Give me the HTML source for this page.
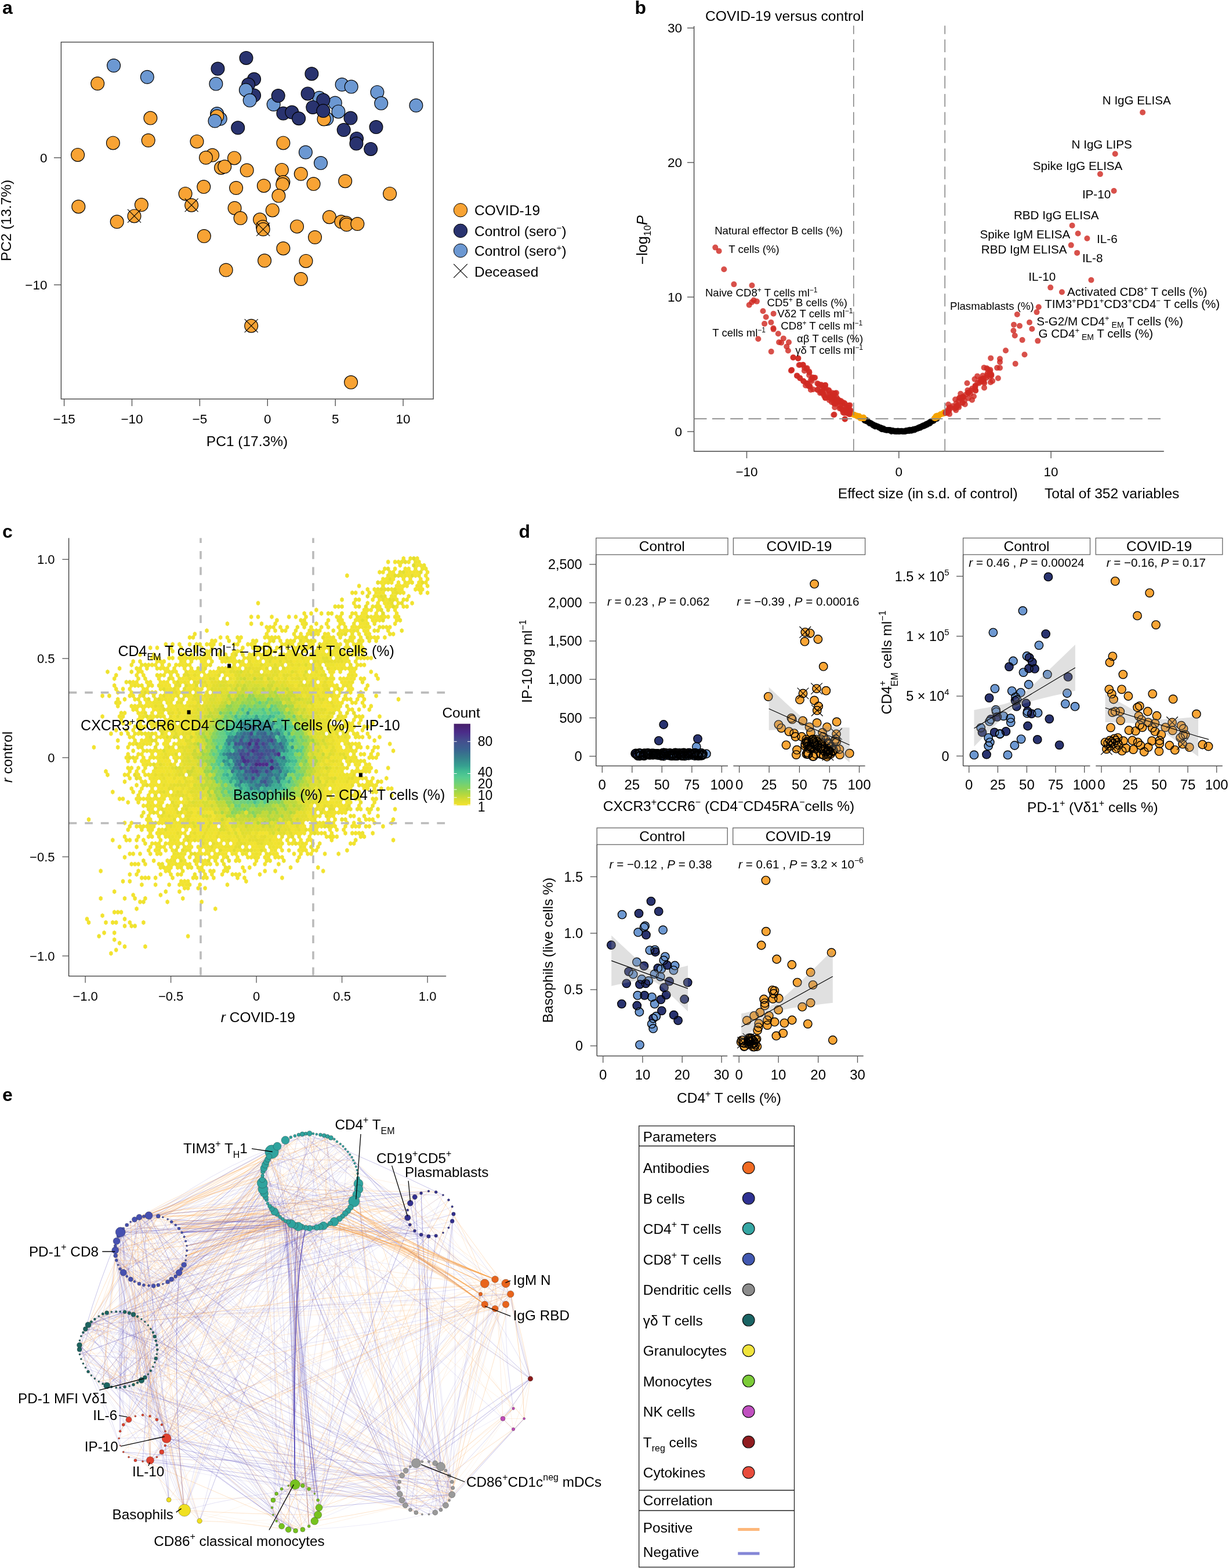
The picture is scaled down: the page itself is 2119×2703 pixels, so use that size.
<!DOCTYPE html>
<html><head><meta charset="utf-8"><title>Figure</title>
<style>html,body{margin:0;padding:0;background:#fff;}svg{display:block;}</style>
</head><body>
<svg width="2119" height="2703" viewBox="0 0 2119 2703" font-family='"Liberation Sans", Arial, Helvetica, sans-serif'>
<text x="4" y="24.2" font-size="32" font-weight="bold">a</text>
<rect x="105.4" y="72.6" width="641.7" height="615.2" fill="none" stroke="#444" stroke-width="1.4"/>
<g stroke="#000" stroke-width="1.2">
<circle cx="168.2" cy="144" r="11.4" fill="#f8a334"/>
<circle cx="259.4" cy="203.6" r="11.4" fill="#f8a334"/>
<circle cx="194.9" cy="246.4" r="11.4" fill="#f8a334"/>
<circle cx="255.7" cy="242" r="11.4" fill="#f8a334"/>
<circle cx="134.1" cy="266.9" r="11.4" fill="#f8a334"/>
<circle cx="135.3" cy="356.2" r="11.4" fill="#f8a334"/>
<circle cx="201.7" cy="382.3" r="11.4" fill="#f8a334"/>
<circle cx="243.9" cy="353.1" r="11.4" fill="#f8a334"/>
<circle cx="231.5" cy="372.4" r="11.4" fill="#f8a334"/>
<path d="M220 360.9L243 383.9M220 383.9L243 360.9" stroke="#000" stroke-width="1.1" fill="none"/>
<circle cx="339.5" cy="243.9" r="11.4" fill="#f8a334"/>
<circle cx="366.2" cy="267.5" r="11.4" fill="#f8a334"/>
<circle cx="355" cy="271.8" r="11.4" fill="#f8a334"/>
<circle cx="404" cy="272.4" r="11.4" fill="#f8a334"/>
<circle cx="381.1" cy="289.2" r="11.4" fill="#f8a334"/>
<circle cx="387.3" cy="287.3" r="11.4" fill="#f8a334"/>
<circle cx="425.7" cy="293.5" r="11.4" fill="#f8a334"/>
<circle cx="351.3" cy="322.1" r="11.4" fill="#f8a334"/>
<circle cx="407.1" cy="324" r="11.4" fill="#f8a334"/>
<circle cx="454.9" cy="320.2" r="11.4" fill="#f8a334"/>
<circle cx="488.4" cy="246.4" r="11.4" fill="#f8a334"/>
<circle cx="485.9" cy="292.9" r="11.4" fill="#f8a334"/>
<circle cx="488.4" cy="314" r="11.4" fill="#f8a334"/>
<circle cx="487.2" cy="317.8" r="11.4" fill="#f8a334"/>
<circle cx="518.8" cy="299.8" r="11.4" fill="#f8a334"/>
<circle cx="540.6" cy="317.1" r="11.4" fill="#f8a334"/>
<circle cx="595.2" cy="312.2" r="11.4" fill="#f8a334"/>
<circle cx="672.1" cy="333.9" r="11.4" fill="#f8a334"/>
<circle cx="319.6" cy="333.9" r="11.4" fill="#f8a334"/>
<circle cx="330.2" cy="353.7" r="11.4" fill="#f8a334"/>
<path d="M318.7 342.2L341.7 365.2M318.7 365.2L341.7 342.2" stroke="#000" stroke-width="1.1" fill="none"/>
<circle cx="480.4" cy="337.6" r="11.4" fill="#f8a334"/>
<circle cx="404.6" cy="358.7" r="11.4" fill="#f8a334"/>
<circle cx="414.6" cy="376.1" r="11.4" fill="#f8a334"/>
<circle cx="469.8" cy="362.4" r="11.4" fill="#f8a334"/>
<circle cx="448.1" cy="378.6" r="11.4" fill="#f8a334"/>
<circle cx="453" cy="391" r="11.4" fill="#f8a334"/>
<circle cx="453.7" cy="395.3" r="11.4" fill="#f8a334"/>
<path d="M442.2 383.8L465.2 406.8M442.2 406.8L465.2 383.8" stroke="#000" stroke-width="1.1" fill="none"/>
<circle cx="351.9" cy="407.1" r="11.4" fill="#f8a334"/>
<circle cx="512" cy="390.4" r="11.4" fill="#f8a334"/>
<circle cx="543" cy="409" r="11.4" fill="#f8a334"/>
<circle cx="567.9" cy="374.2" r="11.4" fill="#f8a334"/>
<circle cx="588.3" cy="382.3" r="11.4" fill="#f8a334"/>
<circle cx="597" cy="384.2" r="11.4" fill="#f8a334"/>
<circle cx="597.6" cy="387.3" r="11.4" fill="#f8a334"/>
<circle cx="616.3" cy="386" r="11.4" fill="#f8a334"/>
<circle cx="488.4" cy="428.2" r="11.4" fill="#f8a334"/>
<circle cx="456.1" cy="449.3" r="11.4" fill="#f8a334"/>
<circle cx="389.7" cy="465.5" r="11.4" fill="#f8a334"/>
<circle cx="527.5" cy="449.9" r="11.4" fill="#f8a334"/>
<circle cx="518.8" cy="481" r="11.4" fill="#f8a334"/>
<circle cx="433.2" cy="561.7" r="11.4" fill="#f8a334"/>
<path d="M421.7 550.2L444.7 573.2M421.7 573.2L444.7 550.2" stroke="#000" stroke-width="1.1" fill="none"/>
<circle cx="605.1" cy="659.1" r="11.4" fill="#f8a334"/>
<circle cx="196.1" cy="113" r="11.4" fill="#6c98d2"/>
<circle cx="253.8" cy="132.8" r="11.4" fill="#6c98d2"/>
<circle cx="372.4" cy="144.6" r="11.4" fill="#6c98d2"/>
<circle cx="471.7" cy="180" r="11.4" fill="#6c98d2"/>
<circle cx="589.6" cy="145.8" r="11.4" fill="#6c98d2"/>
<circle cx="605.7" cy="149.6" r="11.4" fill="#6c98d2"/>
<circle cx="550.5" cy="168.8" r="11.4" fill="#6c98d2"/>
<circle cx="577.8" cy="177.5" r="11.4" fill="#6c98d2"/>
<circle cx="583.4" cy="192.4" r="11.4" fill="#6c98d2"/>
<circle cx="650.4" cy="158.9" r="11.4" fill="#6c98d2"/>
<circle cx="657.2" cy="178.1" r="11.4" fill="#6c98d2"/>
<circle cx="717.4" cy="181.8" r="11.4" fill="#6c98d2"/>
<circle cx="526.9" cy="262.5" r="11.4" fill="#6c98d2"/>
<circle cx="553" cy="281.1" r="11.4" fill="#6c98d2"/>
<circle cx="424.5" cy="99.9" r="11.4" fill="#29336f"/>
<circle cx="375.5" cy="118.5" r="11.4" fill="#29336f"/>
<circle cx="438.1" cy="136.5" r="11.4" fill="#29336f"/>
<circle cx="428.2" cy="145.8" r="11.4" fill="#29336f"/>
<circle cx="438.1" cy="164.5" r="11.4" fill="#29336f"/>
<circle cx="537.4" cy="127.2" r="11.4" fill="#29336f"/>
<circle cx="479.7" cy="165.1" r="11.4" fill="#29336f"/>
<circle cx="530.6" cy="161.4" r="11.4" fill="#29336f"/>
<circle cx="557.3" cy="172.5" r="11.4" fill="#29336f"/>
<circle cx="539.3" cy="184.9" r="11.4" fill="#29336f"/>
<circle cx="488.4" cy="195.5" r="11.4" fill="#29336f"/>
<circle cx="503.3" cy="193.6" r="11.4" fill="#29336f"/>
<circle cx="515.1" cy="204.2" r="11.4" fill="#29336f"/>
<circle cx="604.5" cy="203.6" r="11.4" fill="#29336f"/>
<circle cx="592.7" cy="224" r="11.4" fill="#29336f"/>
<circle cx="410.2" cy="220.3" r="11.4" fill="#29336f"/>
<circle cx="648.5" cy="219.1" r="11.4" fill="#29336f"/>
<circle cx="615" cy="238.9" r="11.4" fill="#29336f"/>
<circle cx="614.4" cy="247.6" r="11.4" fill="#29336f"/>
<circle cx="639.2" cy="256.9" r="11.4" fill="#29336f"/>
<circle cx="374.2" cy="196.1" r="11.4" fill="#6c98d2"/>
<circle cx="379.8" cy="204.8" r="11.4" fill="#6c98d2"/>
<circle cx="374.2" cy="200.5" r="11.4" fill="#f8a334"/>
<circle cx="370.5" cy="208.5" r="11.4" fill="#6c98d2"/>
<circle cx="423.9" cy="155.2" r="11.4" fill="#6c98d2"/>
<circle cx="430.7" cy="173.1" r="11.4" fill="#6c98d2"/>
<circle cx="563.5" cy="204.8" r="11.4" fill="#6c98d2"/>
<circle cx="558.5" cy="205.4" r="11.4" fill="#f8a334"/>
<circle cx="557.3" cy="191.1" r="11.4" fill="#29336f"/>
</g>
<line x1="110.6" y1="687.8" x2="110.6" y2="700.1" stroke="#555" stroke-width="1.4" />
<text x="110.6" y="729.7" font-size="22.5" text-anchor="middle">−15</text>
<line x1="227.5" y1="687.8" x2="227.5" y2="700.1" stroke="#555" stroke-width="1.4" />
<text x="227.5" y="729.7" font-size="22.5" text-anchor="middle">−10</text>
<line x1="344.4" y1="687.8" x2="344.4" y2="700.1" stroke="#555" stroke-width="1.4" />
<text x="344.4" y="729.7" font-size="22.5" text-anchor="middle">−5</text>
<line x1="461.3" y1="687.8" x2="461.3" y2="700.1" stroke="#555" stroke-width="1.4" />
<text x="461.3" y="729.7" font-size="22.5" text-anchor="middle">0</text>
<line x1="578.2" y1="687.8" x2="578.2" y2="700.1" stroke="#555" stroke-width="1.4" />
<text x="578.2" y="729.7" font-size="22.5" text-anchor="middle">5</text>
<line x1="695.1" y1="687.8" x2="695.1" y2="700.1" stroke="#555" stroke-width="1.4" />
<text x="695.1" y="729.7" font-size="22.5" text-anchor="middle">10</text>
<line x1="93" y1="271.9" x2="105.4" y2="271.9" stroke="#555" stroke-width="1.4" />
<text x="81.5" y="279.9" font-size="22.5" text-anchor="end">0</text>
<line x1="93" y1="491" x2="105.4" y2="491" stroke="#555" stroke-width="1.4" />
<text x="81.5" y="499" font-size="22.5" text-anchor="end">−10</text>
<text x="426" y="769.2" font-size="24.5" text-anchor="middle">PC1 (17.3%)</text>
<text x="18.5" y="380" font-size="24.5" text-anchor="middle" transform="rotate(-90 18.5 380)">PC2 (13.7%)</text>
<circle cx="794" cy="362.3" r="11.7" fill="#f8a334" stroke="#000" stroke-width="1"/>
<circle cx="794" cy="397.8" r="11.7" fill="#29336f" stroke="#000" stroke-width="1"/>
<circle cx="794" cy="432" r="11.7" fill="#6c98d2" stroke="#000" stroke-width="1"/>
<path d="M782.2 455.2L805.8 478.8M782.2 478.8L805.8 455.2" stroke="#000" stroke-width="1.2" fill="none"/>
<text x="818" y="370.5" font-size="24.5">COVID-19</text>
<text x="818" y="406.5" font-size="24.5">Control (sero<tspan font-size="15" dy="-9">−</tspan><tspan dy="9">)</tspan></text>
<text x="818" y="440.5" font-size="24.5">Control (sero<tspan font-size="15" dy="-9">+</tspan><tspan dy="9">)</tspan></text>
<text x="818" y="476.5" font-size="24.5">Deceased</text>
<text x="1094.5" y="24.2" font-size="32" font-weight="bold">b</text>
<text x="1216" y="35.6" font-size="24.6">COVID-19 versus control</text>
<path d="M1196.6 45V778H2006.8" fill="none" stroke="#444" stroke-width="1.4"/>
<line x1="1185" y1="744" x2="1196.6" y2="744" stroke="#555" stroke-width="1.4" />
<text x="1176" y="752" font-size="22.5" text-anchor="end">0</text>
<line x1="1185" y1="512.1" x2="1196.6" y2="512.1" stroke="#555" stroke-width="1.4" />
<text x="1176" y="520.1" font-size="22.5" text-anchor="end">10</text>
<line x1="1185" y1="280.2" x2="1196.6" y2="280.2" stroke="#555" stroke-width="1.4" />
<text x="1176" y="288.2" font-size="22.5" text-anchor="end">20</text>
<line x1="1185" y1="48.3" x2="1196.6" y2="48.3" stroke="#555" stroke-width="1.4" />
<text x="1176" y="56.3" font-size="22.5" text-anchor="end">30</text>
<line x1="1287.5" y1="778" x2="1287.5" y2="790" stroke="#555" stroke-width="1.4" />
<text x="1287.5" y="820.8" font-size="22.5" text-anchor="middle">−10</text>
<line x1="1549.8" y1="778" x2="1549.8" y2="790" stroke="#555" stroke-width="1.4" />
<text x="1549.8" y="820.8" font-size="22.5" text-anchor="middle">0</text>
<line x1="1812.1" y1="778" x2="1812.1" y2="790" stroke="#555" stroke-width="1.4" />
<text x="1812.1" y="820.8" font-size="22.5" text-anchor="middle">10</text>
<text x="1444.8" y="859" font-size="24.6">Effect size (in s.d. of control)</text>
<text x="1801" y="859" font-size="24.6">Total of 352 variables</text>
<text x="0" y="0" font-size="25.5" transform="translate(1116 456) rotate(-90)">−log<tspan font-size="17" dy="6">10</tspan><tspan dy="-6" font-style="italic">P</tspan></text>
<g fill="#000" fill-opacity="0.85"><circle cx="1485.5" cy="720.4" r="5"/><circle cx="1486.5" cy="720.2" r="5"/><circle cx="1487.4" cy="721.4" r="5"/><circle cx="1488.3" cy="721.4" r="5"/><circle cx="1489.3" cy="722" r="5"/><circle cx="1490.2" cy="724.3" r="5"/><circle cx="1491.1" cy="725.1" r="5"/><circle cx="1492.1" cy="723.4" r="5"/><circle cx="1493" cy="725.6" r="5"/><circle cx="1493.9" cy="726.3" r="5"/><circle cx="1494.9" cy="724.8" r="5"/><circle cx="1495.8" cy="726.9" r="5"/><circle cx="1496.7" cy="726.5" r="5"/><circle cx="1497.7" cy="728" r="5"/><circle cx="1498.6" cy="728.2" r="5"/><circle cx="1499.5" cy="730.1" r="5"/><circle cx="1500.5" cy="729.3" r="5"/><circle cx="1501.4" cy="729.2" r="5"/><circle cx="1502.4" cy="730.7" r="5"/><circle cx="1503.3" cy="730.6" r="5"/><circle cx="1504.2" cy="731.3" r="5"/><circle cx="1505.2" cy="733.5" r="5"/><circle cx="1506.1" cy="732" r="5"/><circle cx="1507" cy="733" r="5"/><circle cx="1508" cy="734.2" r="5"/><circle cx="1508.9" cy="735.4" r="5"/><circle cx="1509.8" cy="733.6" r="5"/><circle cx="1510.8" cy="735.1" r="5"/><circle cx="1511.7" cy="734.8" r="5"/><circle cx="1512.6" cy="734.8" r="5"/><circle cx="1513.6" cy="735.7" r="5"/><circle cx="1514.5" cy="735.5" r="5"/><circle cx="1515.4" cy="737.3" r="5"/><circle cx="1516.4" cy="736.6" r="5"/><circle cx="1517.3" cy="737.9" r="5"/><circle cx="1518.2" cy="736.9" r="5"/><circle cx="1519.2" cy="737.4" r="5"/><circle cx="1520.1" cy="739.9" r="5"/><circle cx="1521" cy="740.1" r="5"/><circle cx="1522" cy="740.2" r="5"/><circle cx="1522.9" cy="738.4" r="5"/><circle cx="1523.8" cy="740.2" r="5"/><circle cx="1524.8" cy="740" r="5"/><circle cx="1525.7" cy="741.1" r="5"/><circle cx="1526.6" cy="740.8" r="5"/><circle cx="1527.6" cy="741.4" r="5"/><circle cx="1528.5" cy="741.7" r="5"/><circle cx="1529.4" cy="741.3" r="5"/><circle cx="1530.4" cy="741.5" r="5"/><circle cx="1531.3" cy="740.9" r="5"/><circle cx="1532.2" cy="741.7" r="5"/><circle cx="1533.2" cy="741.2" r="5"/><circle cx="1534.1" cy="741.6" r="5"/><circle cx="1535" cy="741.3" r="5"/><circle cx="1536" cy="742.4" r="5"/><circle cx="1536.9" cy="744" r="5"/><circle cx="1537.8" cy="742.2" r="5"/><circle cx="1538.8" cy="742" r="5"/><circle cx="1539.7" cy="742.3" r="5"/><circle cx="1540.6" cy="743.3" r="5"/><circle cx="1541.6" cy="743" r="5"/><circle cx="1542.5" cy="744" r="5"/><circle cx="1543.5" cy="742.8" r="5"/><circle cx="1544.4" cy="743.6" r="5"/><circle cx="1545.3" cy="744" r="5"/><circle cx="1546.3" cy="744" r="5"/><circle cx="1547.2" cy="743" r="5"/><circle cx="1548.1" cy="742.6" r="5"/><circle cx="1549.1" cy="744" r="5"/><circle cx="1550" cy="744" r="5"/><circle cx="1550.9" cy="744" r="5"/><circle cx="1551.9" cy="742.9" r="5"/><circle cx="1552.8" cy="743.6" r="5"/><circle cx="1553.7" cy="743.3" r="5"/><circle cx="1554.7" cy="742.8" r="5"/><circle cx="1555.6" cy="743.8" r="5"/><circle cx="1556.5" cy="744" r="5"/><circle cx="1557.5" cy="743.4" r="5"/><circle cx="1558.4" cy="744" r="5"/><circle cx="1559.3" cy="743.2" r="5"/><circle cx="1560.3" cy="744" r="5"/><circle cx="1561.2" cy="743.8" r="5"/><circle cx="1562.1" cy="742.1" r="5"/><circle cx="1563.1" cy="743.2" r="5"/><circle cx="1564" cy="742.5" r="5"/><circle cx="1564.9" cy="742.6" r="5"/><circle cx="1565.9" cy="741.4" r="5"/><circle cx="1566.8" cy="742.6" r="5"/><circle cx="1567.7" cy="743" r="5"/><circle cx="1568.7" cy="740.7" r="5"/><circle cx="1569.6" cy="741.8" r="5"/><circle cx="1570.5" cy="741.9" r="5"/><circle cx="1571.5" cy="742.8" r="5"/><circle cx="1572.4" cy="740.9" r="5"/><circle cx="1573.3" cy="740.7" r="5"/><circle cx="1574.3" cy="740.3" r="5"/><circle cx="1575.2" cy="739.9" r="5"/><circle cx="1576.1" cy="741.6" r="5"/><circle cx="1577.1" cy="739.5" r="5"/><circle cx="1578" cy="740.4" r="5"/><circle cx="1578.9" cy="739.2" r="5"/><circle cx="1579.9" cy="739.5" r="5"/><circle cx="1580.8" cy="739.2" r="5"/><circle cx="1581.7" cy="739.1" r="5"/><circle cx="1582.7" cy="737.4" r="5"/><circle cx="1583.6" cy="737.6" r="5"/><circle cx="1584.6" cy="738" r="5"/><circle cx="1585.5" cy="736.3" r="5"/><circle cx="1586.4" cy="737.6" r="5"/><circle cx="1587.4" cy="735.8" r="5"/><circle cx="1588.3" cy="736.5" r="5"/><circle cx="1589.2" cy="734.7" r="5"/><circle cx="1590.2" cy="734.2" r="5"/><circle cx="1591.1" cy="735.3" r="5"/><circle cx="1592" cy="733.3" r="5"/><circle cx="1593" cy="734.7" r="5"/><circle cx="1593.9" cy="733.4" r="5"/><circle cx="1594.8" cy="732.2" r="5"/><circle cx="1595.8" cy="733.5" r="5"/><circle cx="1596.7" cy="731.3" r="5"/><circle cx="1597.6" cy="730.8" r="5"/><circle cx="1598.6" cy="732.2" r="5"/><circle cx="1599.5" cy="729.9" r="5"/><circle cx="1600.4" cy="730.6" r="5"/><circle cx="1601.4" cy="729.9" r="5"/><circle cx="1602.3" cy="728" r="5"/><circle cx="1603.2" cy="730" r="5"/><circle cx="1604.2" cy="727" r="5"/><circle cx="1605.1" cy="727.7" r="5"/><circle cx="1606" cy="725.8" r="5"/><circle cx="1607" cy="725.7" r="5"/><circle cx="1607.9" cy="725.3" r="5"/><circle cx="1608.8" cy="725.8" r="5"/><circle cx="1609.8" cy="725.4" r="5"/><circle cx="1610.7" cy="723.7" r="5"/><circle cx="1611.6" cy="722.5" r="5"/><circle cx="1612.6" cy="721.6" r="5"/><circle cx="1613.5" cy="720.9" r="5"/><circle cx="1614.4" cy="720.4" r="5"/><circle cx="1615.4" cy="722.2" r="5"/></g>
<g fill="#f5a300"><circle cx="1466.5" cy="711.7" r="5"/><circle cx="1467.4" cy="714.3" r="5"/><circle cx="1469.7" cy="714" r="5"/><circle cx="1472.4" cy="715.5" r="5"/><circle cx="1473.1" cy="714.8" r="5"/><circle cx="1476" cy="716.4" r="5"/><circle cx="1477.6" cy="716.6" r="5"/><circle cx="1478.3" cy="718" r="5"/><circle cx="1481.4" cy="717.2" r="5"/><circle cx="1483.2" cy="720.9" r="5"/><circle cx="1485.1" cy="721.2" r="5"/><circle cx="1485.3" cy="721.1" r="5"/><circle cx="1488.9" cy="719.5" r="5"/><circle cx="1489.5" cy="721.1" r="5"/><circle cx="1611.1" cy="720.7" r="5"/><circle cx="1612.8" cy="721.1" r="5"/><circle cx="1613.8" cy="717.2" r="5"/><circle cx="1615.9" cy="716.5" r="5"/><circle cx="1617.7" cy="718.9" r="5"/><circle cx="1621.2" cy="714.3" r="5"/><circle cx="1622.3" cy="714.3" r="5"/><circle cx="1623.9" cy="713.4" r="5"/><circle cx="1626.4" cy="713.3" r="5"/><circle cx="1627.7" cy="710.8" r="5"/></g>
<g fill="#cf2a22" fill-opacity="0.82"><circle cx="1233.3" cy="426.6" r="5"/><circle cx="1239.6" cy="432.7" r="5"/><circle cx="1248.3" cy="464.3" r="5"/><circle cx="1265.4" cy="490.1" r="5"/><circle cx="1296.5" cy="492" r="5"/><circle cx="1291.7" cy="525.7" r="5"/><circle cx="1299.6" cy="517.5" r="5"/><circle cx="1304.9" cy="519.6" r="5"/><circle cx="1296.2" cy="521" r="5"/><circle cx="1315.5" cy="536.2" r="5"/><circle cx="1320.7" cy="546.5" r="5"/><circle cx="1333.6" cy="540.7" r="5"/><circle cx="1318.1" cy="558.1" r="5"/><circle cx="1329.4" cy="555.7" r="5"/><circle cx="1333.6" cy="567.6" r="5"/><circle cx="1333.4" cy="565.7" r="5"/><circle cx="1341.8" cy="575.2" r="5"/><circle cx="1350.8" cy="583.4" r="5"/><circle cx="1343.1" cy="590" r="5"/><circle cx="1347.1" cy="590.8" r="5"/><circle cx="1360" cy="590" r="5"/><circle cx="1356.3" cy="597.4" r="5"/><circle cx="1358.9" cy="604.5" r="5"/><circle cx="1307.3" cy="584.2" r="5"/><circle cx="1329.7" cy="606.1" r="5"/><circle cx="1367.6" cy="616.1" r="5"/><circle cx="1376.1" cy="617.9" r="5"/><circle cx="1379.2" cy="629" r="5"/><circle cx="1384.5" cy="629" r="5"/><circle cx="1390.5" cy="635.6" r="5"/><circle cx="1395.5" cy="642.1" r="5"/><circle cx="1365.2" cy="637.7" r="5"/><circle cx="1363.9" cy="639" r="5"/><circle cx="1374.2" cy="647.9" r="5"/><circle cx="1379.2" cy="651.4" r="5"/><circle cx="1385.3" cy="657.2" r="5"/><circle cx="1391.1" cy="660.6" r="5"/><circle cx="1396.3" cy="665.9" r="5"/><circle cx="1400.3" cy="651.4" r="5"/><circle cx="1404.2" cy="651.4" r="5"/><circle cx="1410.8" cy="661.9" r="5"/><circle cx="1416.1" cy="664" r="5"/><circle cx="1422.7" cy="664" r="5"/><circle cx="1409.5" cy="671.9" r="5"/><circle cx="1424" cy="669.8" r="5"/><circle cx="1429.3" cy="673.8" r="5"/><circle cx="1435.9" cy="679" r="5"/><circle cx="1439.8" cy="677.7" r="5"/><circle cx="1422.7" cy="685.6" r="5"/><circle cx="1437.2" cy="683" r="5"/><circle cx="1439.8" cy="694.8" r="5"/><circle cx="1446.4" cy="690.9" r="5"/><circle cx="1453" cy="693.5" r="5"/><circle cx="1456.9" cy="696.2" r="5"/><circle cx="1463.5" cy="698.8" r="5"/><circle cx="1466.2" cy="706.7" r="5"/><circle cx="1447.7" cy="704.1" r="5"/><circle cx="1455.6" cy="712" r="5"/><circle cx="1438.5" cy="714.6" r="5"/><circle cx="1456.9" cy="722.5" r="5"/><circle cx="1464.8" cy="713.3" r="5"/><circle cx="1367.6" cy="616.4" r="5"/><circle cx="1376.4" cy="617.6" r="5"/><circle cx="1377.6" cy="629.3" r="5"/><circle cx="1384.6" cy="628.7" r="5"/><circle cx="1386.9" cy="634" r="5"/><circle cx="1391.6" cy="634.5" r="5"/><circle cx="1395.1" cy="640.4" r="5"/><circle cx="1386.9" cy="639.2" r="5"/><circle cx="1364.7" cy="638.1" r="5"/><circle cx="1374.1" cy="647.4" r="5"/><circle cx="1379.3" cy="652.1" r="5"/><circle cx="1385.2" cy="656.8" r="5"/><circle cx="1391" cy="660.9" r="5"/><circle cx="1396.3" cy="666.2" r="5"/><circle cx="1395.1" cy="646.8" r="5"/><circle cx="1401" cy="650.4" r="5"/><circle cx="1405.1" cy="650.9" r="5"/><circle cx="1409.2" cy="660.9" r="5"/><circle cx="1416.2" cy="663.2" r="5"/><circle cx="1423.2" cy="663.8" r="5"/><circle cx="1420.9" cy="670.3" r="5"/><circle cx="1409.2" cy="672" r="5"/><circle cx="1429.1" cy="672.6" r="5"/><circle cx="1434.9" cy="677.3" r="5"/><circle cx="1442" cy="677.3" r="5"/><circle cx="1423.2" cy="686.1" r="5"/><circle cx="1432.6" cy="683.1" r="5"/><circle cx="1439.6" cy="689" r="5"/><circle cx="1444.3" cy="687.8" r="5"/><circle cx="1449" cy="692.5" r="5"/><circle cx="1456" cy="694.8" r="5"/><circle cx="1465.4" cy="698.4" r="5"/><circle cx="1438.5" cy="696" r="5"/><circle cx="1449" cy="703" r="5"/><circle cx="1456" cy="700.7" r="5"/><circle cx="1460.7" cy="705.4" r="5"/><circle cx="1465.4" cy="707.7" r="5"/><circle cx="1453.7" cy="711.2" r="5"/><circle cx="1460.7" cy="712.4" r="5"/><circle cx="1437.3" cy="715.3" r="5"/><circle cx="1456.6" cy="722.4" r="5"/><circle cx="1464.2" cy="714.2" r="5"/><circle cx="1430.3" cy="679.6" r="5"/><circle cx="1436.1" cy="682" r="5"/><circle cx="1442" cy="684.3" r="5"/><circle cx="1446.7" cy="690.2" r="5"/><circle cx="1451.3" cy="696" r="5"/><circle cx="1459.5" cy="703" r="5"/><circle cx="1463" cy="701.9" r="5"/><circle cx="1461.9" cy="710.1" r="5"/><circle cx="1881.4" cy="482.8" r="5"/><circle cx="1811.2" cy="495.6" r="5"/><circle cx="1830.9" cy="503.5" r="5"/><circle cx="1790.8" cy="529.3" r="5"/><circle cx="1787.5" cy="538.1" r="5"/><circle cx="1753.8" cy="542" r="5"/><circle cx="1775" cy="555.7" r="5"/><circle cx="1748" cy="559.7" r="5"/><circle cx="1758" cy="561.8" r="5"/><circle cx="1779.3" cy="567" r="5"/><circle cx="1747.4" cy="570" r="5"/><circle cx="1749.8" cy="578.5" r="5"/><circle cx="1762.6" cy="586.1" r="5"/><circle cx="1789.3" cy="587.6" r="5"/><circle cx="1734" cy="604.3" r="5"/><circle cx="1766.5" cy="611.3" r="5"/><circle cx="1708.2" cy="617.4" r="5"/><circle cx="1724" cy="618.6" r="5"/><circle cx="1724" cy="624.1" r="5"/><circle cx="1750.7" cy="627.1" r="5"/><circle cx="1696.6" cy="633.8" r="5"/><circle cx="1719.1" cy="634.1" r="5"/><circle cx="1724" cy="634.1" r="5"/><circle cx="1706.4" cy="643.8" r="5"/><circle cx="1707" cy="649.9" r="5"/><circle cx="1707.9" cy="659" r="5"/><circle cx="1720.9" cy="652" r="5"/><circle cx="1685.1" cy="648.4" r="5"/><circle cx="1680.5" cy="653.6" r="5"/><circle cx="1691.2" cy="657.5" r="5"/><circle cx="1697.2" cy="660.5" r="5"/><circle cx="1667.5" cy="660.5" r="5"/><circle cx="1676" cy="669.7" r="5"/><circle cx="1682" cy="672.7" r="5"/><circle cx="1679" cy="683.3" r="5"/><circle cx="1656.2" cy="678.8" r="5"/><circle cx="1665.3" cy="680.3" r="5"/><circle cx="1669.9" cy="686.4" r="5"/><circle cx="1676" cy="689.4" r="5"/><circle cx="1647.1" cy="688.5" r="5"/><circle cx="1651.7" cy="700" r="5"/><circle cx="1663.8" cy="697" r="5"/><circle cx="1659.3" cy="694" r="5"/><circle cx="1642.5" cy="700" r="5"/><circle cx="1634.9" cy="706.1" r="5"/><circle cx="1630.4" cy="712.2" r="5"/><circle cx="1660.8" cy="684.9" r="5"/><circle cx="1672.9" cy="678.8" r="5"/><circle cx="1688.1" cy="660.5" r="5"/><circle cx="1700.3" cy="651.4" r="5"/><circle cx="1639.5" cy="703.1" r="5"/><circle cx="1653.2" cy="690.9" r="5"/><circle cx="1668.4" cy="672.7" r="5"/><circle cx="1654.7" cy="686.4" r="5"/><circle cx="1636.5" cy="707.6" r="5"/><circle cx="1648.6" cy="695.5" r="5"/><circle cx="1970.1" cy="193.8" r="5"/><circle cx="1922.7" cy="265.2" r="5"/><circle cx="1896.9" cy="300.1" r="5"/><circle cx="1920.6" cy="329" r="5"/><circle cx="1848.6" cy="388.8" r="5"/><circle cx="1858.6" cy="402.5" r="5"/><circle cx="1874.4" cy="411" r="5"/><circle cx="1846.7" cy="422.6" r="5"/><circle cx="1857.1" cy="435.9" r="5"/><circle cx="1681.5" cy="664.9" r="5"/><circle cx="1701.3" cy="634.8" r="5"/><circle cx="1691.9" cy="657.3" r="5"/><circle cx="1668.9" cy="676.7" r="5"/><circle cx="1703.1" cy="636.6" r="5"/><circle cx="1635.2" cy="697.2" r="5"/><circle cx="1669.6" cy="676.9" r="5"/><circle cx="1682.2" cy="673.5" r="5"/><circle cx="1633.6" cy="711.6" r="5"/><circle cx="1708" cy="646.2" r="5"/><circle cx="1696.5" cy="658.1" r="5"/><circle cx="1648.2" cy="707.1" r="5"/><circle cx="1681.5" cy="665.8" r="5"/><circle cx="1701.9" cy="646.8" r="5"/><circle cx="1650.8" cy="698.5" r="5"/><circle cx="1711.2" cy="656.7" r="5"/><circle cx="1659.3" cy="694.7" r="5"/><circle cx="1685.2" cy="660.1" r="5"/><circle cx="1653.2" cy="701.9" r="5"/><circle cx="1707.4" cy="637.5" r="5"/><circle cx="1702.5" cy="643.9" r="5"/><circle cx="1648.3" cy="702.8" r="5"/><circle cx="1646.3" cy="703.9" r="5"/><circle cx="1681.4" cy="668" r="5"/><circle cx="1630.9" cy="710.3" r="5"/><circle cx="1654" cy="685.8" r="5"/><circle cx="1694.5" cy="647.5" r="5"/><circle cx="1670.9" cy="676.3" r="5"/><circle cx="1697" cy="668.4" r="5"/><circle cx="1637.1" cy="713.8" r="5"/><circle cx="1692.3" cy="656.2" r="5"/><circle cx="1694.5" cy="652.3" r="5"/><circle cx="1660.9" cy="684.1" r="5"/><circle cx="1635.5" cy="708.3" r="5"/><circle cx="1648.6" cy="700.8" r="5"/><circle cx="1691.8" cy="654.6" r="5"/><circle cx="1709.3" cy="645.4" r="5"/><circle cx="1659.3" cy="684.2" r="5"/><circle cx="1674.2" cy="672.9" r="5"/><circle cx="1690.3" cy="654.1" r="5"/><circle cx="1696.4" cy="652.8" r="5"/><circle cx="1706.9" cy="640.3" r="5"/><circle cx="1636.8" cy="702.5" r="5"/><circle cx="1709.4" cy="647.4" r="5"/><circle cx="1663" cy="690.6" r="5"/><circle cx="1443.9" cy="693.6" r="5"/><circle cx="1441.3" cy="696.3" r="5"/><circle cx="1452.5" cy="706.2" r="5"/><circle cx="1413.9" cy="677.4" r="5"/><circle cx="1460.6" cy="710.3" r="5"/><circle cx="1398" cy="654.8" r="5"/><circle cx="1448" cy="699.1" r="5"/><circle cx="1420.8" cy="682.3" r="5"/><circle cx="1437.5" cy="686" r="5"/><circle cx="1459.4" cy="710.8" r="5"/><circle cx="1429.9" cy="685.3" r="5"/><circle cx="1401.9" cy="671.2" r="5"/><circle cx="1393.8" cy="665.4" r="5"/><circle cx="1419.5" cy="678.8" r="5"/><circle cx="1435" cy="687.3" r="5"/><circle cx="1452.1" cy="706.6" r="5"/><circle cx="1434.4" cy="685.4" r="5"/><circle cx="1389" cy="664.4" r="5"/><circle cx="1439" cy="679.5" r="5"/><circle cx="1430.3" cy="685.6" r="5"/><circle cx="1447.1" cy="692.6" r="5"/><circle cx="1433.9" cy="693.1" r="5"/><circle cx="1392.4" cy="661.7" r="5"/><circle cx="1399.4" cy="657" r="5"/><circle cx="1442.9" cy="691.1" r="5"/><circle cx="1458.5" cy="707.1" r="5"/><circle cx="1397.9" cy="672" r="5"/><circle cx="1437.5" cy="694.6" r="5"/><circle cx="1420.6" cy="668.2" r="5"/><circle cx="1417.3" cy="676.7" r="5"/><circle cx="1417.6" cy="670.6" r="5"/><circle cx="1449.6" cy="690.9" r="5"/><circle cx="1415.2" cy="675.6" r="5"/><circle cx="1439.2" cy="702.2" r="5"/><circle cx="1424.9" cy="679.2" r="5"/><circle cx="1465.4" cy="709.5" r="5"/><circle cx="1417.7" cy="675.2" r="5"/><circle cx="1429.8" cy="689.8" r="5"/><circle cx="1412.3" cy="664" r="5"/><circle cx="1442.8" cy="689.9" r="5"/></g>
<g stroke="#888" stroke-width="1.6" stroke-dasharray="21.9 9.4" fill="none"><path stroke-dashoffset="7.5" d="M1471.8 44.3V778M1629.2 44.3V778"/><path d="M1196.6 721.9H2002"/></g>
<text x="1232.2" y="403.7" font-size="18.6">Natural effector B cells (%)</text>
<text x="1256.2" y="436.1" font-size="18.6">T cells (%)</text>
<text x="1215.9" y="510.9" font-size="18.6">Naive CD8<tspan font-size="12" dy="-7">+</tspan><tspan dy="7"> T cells ml</tspan><tspan font-size="12" dy="-7">−1</tspan></text>
<text x="1322.6" y="528.3" font-size="18.6">CD5<tspan font-size="12" dy="-7">+</tspan><tspan dy="7"> B cells (%)</tspan></text>
<text x="1340.2" y="546.5" font-size="18.6">Vδ2 T cells ml<tspan font-size="12" dy="-7">−1</tspan></text>
<text x="1346.3" y="567.6" font-size="18.6">CD8<tspan font-size="12" dy="-7">+</tspan><tspan dy="7"> T cells ml</tspan><tspan font-size="12" dy="-7">−1</tspan></text>
<text x="1228.2" y="580.2" font-size="18.6">T cells ml<tspan font-size="12" dy="-7">−1</tspan></text>
<text x="1374" y="589.5" font-size="18.6">αβ T cells (%)</text>
<text x="1371.3" y="610" font-size="18.6">γδ T cells ml<tspan font-size="12" dy="-7">−1</tspan></text>
<text x="1900.8" y="179.5" font-size="20.6">N IgG ELISA</text>
<text x="1847.6" y="255.7" font-size="20.6">N IgG LIPS</text>
<text x="1780.8" y="292.8" font-size="20.6">Spike IgG ELISA</text>
<text x="1865.9" y="342" font-size="20.6">IP-10</text>
<text x="1748" y="377.9" font-size="20.6">RBD IgG ELISA</text>
<text x="1689.6" y="410.7" font-size="20.6">Spike IgM ELISA</text>
<text x="1891.1" y="418.6" font-size="20.6">IL-6</text>
<text x="1691.8" y="437.1" font-size="20.6">RBD IgM ELISA</text>
<text x="1865.9" y="452.3" font-size="20.6">IL-8</text>
<text x="1773.2" y="484.2" font-size="20.6">IL-10</text>
<text x="1840" y="509.5" font-size="20.6">Activated CD8<tspan font-size="13" dy="-8">+</tspan><tspan dy="8"> T cells (%)</tspan></text>
<text x="1801.2" y="530.8" font-size="20.6">TIM3<tspan font-size="13" dy="-8">+</tspan><tspan dy="8">PD1</tspan><tspan font-size="13" dy="-8">+</tspan><tspan dy="8">CD3</tspan><tspan font-size="13" dy="-8">+</tspan><tspan dy="8">CD4</tspan><tspan font-size="13" dy="-8">−</tspan><tspan dy="8"> T cells (%)</tspan></text>
<text x="1638" y="534.4" font-size="18.6">Plasmablasts (%)</text>
<text x="1787.2" y="560.9" font-size="20.6">S-G2/M CD4<tspan font-size="13" dy="-8">+</tspan><tspan font-size="14" dy="12"> EM</tspan><tspan dy="-4"> T cells (%)</tspan></text>
<text x="1790.5" y="582.2" font-size="20.6">G CD4<tspan font-size="13" dy="-8">+</tspan><tspan font-size="14" dy="12"> EM</tspan><tspan dy="-4"> T cells (%)</tspan></text>
<text x="4" y="926.8" font-size="32" font-weight="bold">c</text>
<defs><marker id="h0" markerUnits="userSpaceOnUse" markerWidth="8" markerHeight="10" viewBox="-4 -5 8 10" refX="0" refY="0" overflow="visible"><path d="M0 -3.95L2.95 -1.97V1.97L0 3.95L-2.95 1.97V-1.97Z" fill="#347f8e" stroke="#347f8e" stroke-width="0.45"/></marker><marker id="h1" markerUnits="userSpaceOnUse" markerWidth="8" markerHeight="10" viewBox="-4 -5 8 10" refX="0" refY="0" overflow="visible"><path d="M0 -3.95L2.95 -1.97V1.97L0 3.95L-2.95 1.97V-1.97Z" fill="#34848e" stroke="#34848e" stroke-width="0.45"/></marker><marker id="h2" markerUnits="userSpaceOnUse" markerWidth="8" markerHeight="10" viewBox="-4 -5 8 10" refX="0" refY="0" overflow="visible"><path d="M0 -3.95L2.95 -1.97V1.97L0 3.95L-2.95 1.97V-1.97Z" fill="#34898e" stroke="#34898e" stroke-width="0.45"/></marker><marker id="h3" markerUnits="userSpaceOnUse" markerWidth="8" markerHeight="10" viewBox="-4 -5 8 10" refX="0" refY="0" overflow="visible"><path d="M0 -3.95L2.95 -1.97V1.97L0 3.95L-2.95 1.97V-1.97Z" fill="#348e8e" stroke="#348e8e" stroke-width="0.45"/></marker><marker id="h4" markerUnits="userSpaceOnUse" markerWidth="8" markerHeight="10" viewBox="-4 -5 8 10" refX="0" refY="0" overflow="visible"><path d="M0 -3.95L2.95 -1.97V1.97L0 3.95L-2.95 1.97V-1.97Z" fill="#34938e" stroke="#34938e" stroke-width="0.45"/></marker><marker id="h5" markerUnits="userSpaceOnUse" markerWidth="8" markerHeight="10" viewBox="-4 -5 8 10" refX="0" refY="0" overflow="visible"><path d="M0 -3.95L2.95 -1.97V1.97L0 3.95L-2.95 1.97V-1.97Z" fill="#34988e" stroke="#34988e" stroke-width="0.45"/></marker><marker id="h6" markerUnits="userSpaceOnUse" markerWidth="8" markerHeight="10" viewBox="-4 -5 8 10" refX="0" refY="0" overflow="visible"><path d="M0 -3.95L2.95 -1.97V1.97L0 3.95L-2.95 1.97V-1.97Z" fill="#349d8e" stroke="#349d8e" stroke-width="0.45"/></marker><marker id="h7" markerUnits="userSpaceOnUse" markerWidth="8" markerHeight="10" viewBox="-4 -5 8 10" refX="0" refY="0" overflow="visible"><path d="M0 -3.95L2.95 -1.97V1.97L0 3.95L-2.95 1.97V-1.97Z" fill="#39618e" stroke="#39618e" stroke-width="0.45"/></marker><marker id="h8" markerUnits="userSpaceOnUse" markerWidth="8" markerHeight="10" viewBox="-4 -5 8 10" refX="0" refY="0" overflow="visible"><path d="M0 -3.95L2.95 -1.97V1.97L0 3.95L-2.95 1.97V-1.97Z" fill="#39668e" stroke="#39668e" stroke-width="0.45"/></marker><marker id="h9" markerUnits="userSpaceOnUse" markerWidth="8" markerHeight="10" viewBox="-4 -5 8 10" refX="0" refY="0" overflow="visible"><path d="M0 -3.95L2.95 -1.97V1.97L0 3.95L-2.95 1.97V-1.97Z" fill="#396b8e" stroke="#396b8e" stroke-width="0.45"/></marker><marker id="h10" markerUnits="userSpaceOnUse" markerWidth="8" markerHeight="10" viewBox="-4 -5 8 10" refX="0" refY="0" overflow="visible"><path d="M0 -3.95L2.95 -1.97V1.97L0 3.95L-2.95 1.97V-1.97Z" fill="#39708e" stroke="#39708e" stroke-width="0.45"/></marker><marker id="h11" markerUnits="userSpaceOnUse" markerWidth="8" markerHeight="10" viewBox="-4 -5 8 10" refX="0" refY="0" overflow="visible"><path d="M0 -3.95L2.95 -1.97V1.97L0 3.95L-2.95 1.97V-1.97Z" fill="#39758e" stroke="#39758e" stroke-width="0.45"/></marker><marker id="h12" markerUnits="userSpaceOnUse" markerWidth="8" markerHeight="10" viewBox="-4 -5 8 10" refX="0" refY="0" overflow="visible"><path d="M0 -3.95L2.95 -1.97V1.97L0 3.95L-2.95 1.97V-1.97Z" fill="#397a8e" stroke="#397a8e" stroke-width="0.45"/></marker><marker id="h13" markerUnits="userSpaceOnUse" markerWidth="8" markerHeight="10" viewBox="-4 -5 8 10" refX="0" refY="0" overflow="visible"><path d="M0 -3.95L2.95 -1.97V1.97L0 3.95L-2.95 1.97V-1.97Z" fill="#39a28e" stroke="#39a28e" stroke-width="0.45"/></marker><marker id="h14" markerUnits="userSpaceOnUse" markerWidth="8" markerHeight="10" viewBox="-4 -5 8 10" refX="0" refY="0" overflow="visible"><path d="M0 -3.95L2.95 -1.97V1.97L0 3.95L-2.95 1.97V-1.97Z" fill="#39a78e" stroke="#39a78e" stroke-width="0.45"/></marker><marker id="h15" markerUnits="userSpaceOnUse" markerWidth="8" markerHeight="10" viewBox="-4 -5 8 10" refX="0" refY="0" overflow="visible"><path d="M0 -3.95L2.95 -1.97V1.97L0 3.95L-2.95 1.97V-1.97Z" fill="#39ac93" stroke="#39ac93" stroke-width="0.45"/></marker><marker id="h16" markerUnits="userSpaceOnUse" markerWidth="8" markerHeight="10" viewBox="-4 -5 8 10" refX="0" refY="0" overflow="visible"><path d="M0 -3.95L2.95 -1.97V1.97L0 3.95L-2.95 1.97V-1.97Z" fill="#3e578e" stroke="#3e578e" stroke-width="0.45"/></marker><marker id="h17" markerUnits="userSpaceOnUse" markerWidth="8" markerHeight="10" viewBox="-4 -5 8 10" refX="0" refY="0" overflow="visible"><path d="M0 -3.95L2.95 -1.97V1.97L0 3.95L-2.95 1.97V-1.97Z" fill="#3e5c8e" stroke="#3e5c8e" stroke-width="0.45"/></marker><marker id="h18" markerUnits="userSpaceOnUse" markerWidth="8" markerHeight="10" viewBox="-4 -5 8 10" refX="0" refY="0" overflow="visible"><path d="M0 -3.95L2.95 -1.97V1.97L0 3.95L-2.95 1.97V-1.97Z" fill="#3e618e" stroke="#3e618e" stroke-width="0.45"/></marker><marker id="h19" markerUnits="userSpaceOnUse" markerWidth="8" markerHeight="10" viewBox="-4 -5 8 10" refX="0" refY="0" overflow="visible"><path d="M0 -3.95L2.95 -1.97V1.97L0 3.95L-2.95 1.97V-1.97Z" fill="#3eac93" stroke="#3eac93" stroke-width="0.45"/></marker><marker id="h20" markerUnits="userSpaceOnUse" markerWidth="8" markerHeight="10" viewBox="-4 -5 8 10" refX="0" refY="0" overflow="visible"><path d="M0 -3.95L2.95 -1.97V1.97L0 3.95L-2.95 1.97V-1.97Z" fill="#3eb193" stroke="#3eb193" stroke-width="0.45"/></marker><marker id="h21" markerUnits="userSpaceOnUse" markerWidth="8" markerHeight="10" viewBox="-4 -5 8 10" refX="0" refY="0" overflow="visible"><path d="M0 -3.95L2.95 -1.97V1.97L0 3.95L-2.95 1.97V-1.97Z" fill="#3eb693" stroke="#3eb693" stroke-width="0.45"/></marker><marker id="h22" markerUnits="userSpaceOnUse" markerWidth="8" markerHeight="10" viewBox="-4 -5 8 10" refX="0" refY="0" overflow="visible"><path d="M0 -3.95L2.95 -1.97V1.97L0 3.95L-2.95 1.97V-1.97Z" fill="#43488e" stroke="#43488e" stroke-width="0.45"/></marker><marker id="h23" markerUnits="userSpaceOnUse" markerWidth="8" markerHeight="10" viewBox="-4 -5 8 10" refX="0" refY="0" overflow="visible"><path d="M0 -3.95L2.95 -1.97V1.97L0 3.95L-2.95 1.97V-1.97Z" fill="#434d8e" stroke="#434d8e" stroke-width="0.45"/></marker><marker id="h24" markerUnits="userSpaceOnUse" markerWidth="8" markerHeight="10" viewBox="-4 -5 8 10" refX="0" refY="0" overflow="visible"><path d="M0 -3.95L2.95 -1.97V1.97L0 3.95L-2.95 1.97V-1.97Z" fill="#43528e" stroke="#43528e" stroke-width="0.45"/></marker><marker id="h25" markerUnits="userSpaceOnUse" markerWidth="8" markerHeight="10" viewBox="-4 -5 8 10" refX="0" refY="0" overflow="visible"><path d="M0 -3.95L2.95 -1.97V1.97L0 3.95L-2.95 1.97V-1.97Z" fill="#43bb93" stroke="#43bb93" stroke-width="0.45"/></marker><marker id="h26" markerUnits="userSpaceOnUse" markerWidth="8" markerHeight="10" viewBox="-4 -5 8 10" refX="0" refY="0" overflow="visible"><path d="M0 -3.95L2.95 -1.97V1.97L0 3.95L-2.95 1.97V-1.97Z" fill="#43c093" stroke="#43c093" stroke-width="0.45"/></marker><marker id="h27" markerUnits="userSpaceOnUse" markerWidth="8" markerHeight="10" viewBox="-4 -5 8 10" refX="0" refY="0" overflow="visible"><path d="M0 -3.95L2.95 -1.97V1.97L0 3.95L-2.95 1.97V-1.97Z" fill="#48257f" stroke="#48257f" stroke-width="0.45"/></marker><marker id="h28" markerUnits="userSpaceOnUse" markerWidth="8" markerHeight="10" viewBox="-4 -5 8 10" refX="0" refY="0" overflow="visible"><path d="M0 -3.95L2.95 -1.97V1.97L0 3.95L-2.95 1.97V-1.97Z" fill="#482a7f" stroke="#482a7f" stroke-width="0.45"/></marker><marker id="h29" markerUnits="userSpaceOnUse" markerWidth="8" markerHeight="10" viewBox="-4 -5 8 10" refX="0" refY="0" overflow="visible"><path d="M0 -3.95L2.95 -1.97V1.97L0 3.95L-2.95 1.97V-1.97Z" fill="#482f89" stroke="#482f89" stroke-width="0.45"/></marker><marker id="h30" markerUnits="userSpaceOnUse" markerWidth="8" markerHeight="10" viewBox="-4 -5 8 10" refX="0" refY="0" overflow="visible"><path d="M0 -3.95L2.95 -1.97V1.97L0 3.95L-2.95 1.97V-1.97Z" fill="#483489" stroke="#483489" stroke-width="0.45"/></marker><marker id="h31" markerUnits="userSpaceOnUse" markerWidth="8" markerHeight="10" viewBox="-4 -5 8 10" refX="0" refY="0" overflow="visible"><path d="M0 -3.95L2.95 -1.97V1.97L0 3.95L-2.95 1.97V-1.97Z" fill="#483989" stroke="#483989" stroke-width="0.45"/></marker><marker id="h32" markerUnits="userSpaceOnUse" markerWidth="8" markerHeight="10" viewBox="-4 -5 8 10" refX="0" refY="0" overflow="visible"><path d="M0 -3.95L2.95 -1.97V1.97L0 3.95L-2.95 1.97V-1.97Z" fill="#483e8e" stroke="#483e8e" stroke-width="0.45"/></marker><marker id="h33" markerUnits="userSpaceOnUse" markerWidth="8" markerHeight="10" viewBox="-4 -5 8 10" refX="0" refY="0" overflow="visible"><path d="M0 -3.95L2.95 -1.97V1.97L0 3.95L-2.95 1.97V-1.97Z" fill="#48438e" stroke="#48438e" stroke-width="0.45"/></marker><marker id="h34" markerUnits="userSpaceOnUse" markerWidth="8" markerHeight="10" viewBox="-4 -5 8 10" refX="0" refY="0" overflow="visible"><path d="M0 -3.95L2.95 -1.97V1.97L0 3.95L-2.95 1.97V-1.97Z" fill="#48c093" stroke="#48c093" stroke-width="0.45"/></marker><marker id="h35" markerUnits="userSpaceOnUse" markerWidth="8" markerHeight="10" viewBox="-4 -5 8 10" refX="0" refY="0" overflow="visible"><path d="M0 -3.95L2.95 -1.97V1.97L0 3.95L-2.95 1.97V-1.97Z" fill="#4d2a89" stroke="#4d2a89" stroke-width="0.45"/></marker><marker id="h36" markerUnits="userSpaceOnUse" markerWidth="8" markerHeight="10" viewBox="-4 -5 8 10" refX="0" refY="0" overflow="visible"><path d="M0 -3.95L2.95 -1.97V1.97L0 3.95L-2.95 1.97V-1.97Z" fill="#4d2f89" stroke="#4d2f89" stroke-width="0.45"/></marker><marker id="h37" markerUnits="userSpaceOnUse" markerWidth="8" markerHeight="10" viewBox="-4 -5 8 10" refX="0" refY="0" overflow="visible"><path d="M0 -3.95L2.95 -1.97V1.97L0 3.95L-2.95 1.97V-1.97Z" fill="#4dc593" stroke="#4dc593" stroke-width="0.45"/></marker><marker id="h38" markerUnits="userSpaceOnUse" markerWidth="8" markerHeight="10" viewBox="-4 -5 8 10" refX="0" refY="0" overflow="visible"><path d="M0 -3.95L2.95 -1.97V1.97L0 3.95L-2.95 1.97V-1.97Z" fill="#52ca8e" stroke="#52ca8e" stroke-width="0.45"/></marker><marker id="h39" markerUnits="userSpaceOnUse" markerWidth="8" markerHeight="10" viewBox="-4 -5 8 10" refX="0" refY="0" overflow="visible"><path d="M0 -3.95L2.95 -1.97V1.97L0 3.95L-2.95 1.97V-1.97Z" fill="#57ca8e" stroke="#57ca8e" stroke-width="0.45"/></marker><marker id="h40" markerUnits="userSpaceOnUse" markerWidth="8" markerHeight="10" viewBox="-4 -5 8 10" refX="0" refY="0" overflow="visible"><path d="M0 -3.95L2.95 -1.97V1.97L0 3.95L-2.95 1.97V-1.97Z" fill="#5ccf89" stroke="#5ccf89" stroke-width="0.45"/></marker><marker id="h41" markerUnits="userSpaceOnUse" markerWidth="8" markerHeight="10" viewBox="-4 -5 8 10" refX="0" refY="0" overflow="visible"><path d="M0 -3.95L2.95 -1.97V1.97L0 3.95L-2.95 1.97V-1.97Z" fill="#61cf84" stroke="#61cf84" stroke-width="0.45"/></marker><marker id="h42" markerUnits="userSpaceOnUse" markerWidth="8" markerHeight="10" viewBox="-4 -5 8 10" refX="0" refY="0" overflow="visible"><path d="M0 -3.95L2.95 -1.97V1.97L0 3.95L-2.95 1.97V-1.97Z" fill="#66cf7f" stroke="#66cf7f" stroke-width="0.45"/></marker><marker id="h43" markerUnits="userSpaceOnUse" markerWidth="8" markerHeight="10" viewBox="-4 -5 8 10" refX="0" refY="0" overflow="visible"><path d="M0 -3.95L2.95 -1.97V1.97L0 3.95L-2.95 1.97V-1.97Z" fill="#66cf84" stroke="#66cf84" stroke-width="0.45"/></marker><marker id="h44" markerUnits="userSpaceOnUse" markerWidth="8" markerHeight="10" viewBox="-4 -5 8 10" refX="0" refY="0" overflow="visible"><path d="M0 -3.95L2.95 -1.97V1.97L0 3.95L-2.95 1.97V-1.97Z" fill="#6bcf7a" stroke="#6bcf7a" stroke-width="0.45"/></marker><marker id="h45" markerUnits="userSpaceOnUse" markerWidth="8" markerHeight="10" viewBox="-4 -5 8 10" refX="0" refY="0" overflow="visible"><path d="M0 -3.95L2.95 -1.97V1.97L0 3.95L-2.95 1.97V-1.97Z" fill="#70cf75" stroke="#70cf75" stroke-width="0.45"/></marker><marker id="h46" markerUnits="userSpaceOnUse" markerWidth="8" markerHeight="10" viewBox="-4 -5 8 10" refX="0" refY="0" overflow="visible"><path d="M0 -3.95L2.95 -1.97V1.97L0 3.95L-2.95 1.97V-1.97Z" fill="#70cf7a" stroke="#70cf7a" stroke-width="0.45"/></marker><marker id="h47" markerUnits="userSpaceOnUse" markerWidth="8" markerHeight="10" viewBox="-4 -5 8 10" refX="0" refY="0" overflow="visible"><path d="M0 -3.95L2.95 -1.97V1.97L0 3.95L-2.95 1.97V-1.97Z" fill="#75cf70" stroke="#75cf70" stroke-width="0.45"/></marker><marker id="h48" markerUnits="userSpaceOnUse" markerWidth="8" markerHeight="10" viewBox="-4 -5 8 10" refX="0" refY="0" overflow="visible"><path d="M0 -3.95L2.95 -1.97V1.97L0 3.95L-2.95 1.97V-1.97Z" fill="#7ad46b" stroke="#7ad46b" stroke-width="0.45"/></marker><marker id="h49" markerUnits="userSpaceOnUse" markerWidth="8" markerHeight="10" viewBox="-4 -5 8 10" refX="0" refY="0" overflow="visible"><path d="M0 -3.95L2.95 -1.97V1.97L0 3.95L-2.95 1.97V-1.97Z" fill="#7fd466" stroke="#7fd466" stroke-width="0.45"/></marker><marker id="h50" markerUnits="userSpaceOnUse" markerWidth="8" markerHeight="10" viewBox="-4 -5 8 10" refX="0" refY="0" overflow="visible"><path d="M0 -3.95L2.95 -1.97V1.97L0 3.95L-2.95 1.97V-1.97Z" fill="#84d461" stroke="#84d461" stroke-width="0.45"/></marker><marker id="h51" markerUnits="userSpaceOnUse" markerWidth="8" markerHeight="10" viewBox="-4 -5 8 10" refX="0" refY="0" overflow="visible"><path d="M0 -3.95L2.95 -1.97V1.97L0 3.95L-2.95 1.97V-1.97Z" fill="#89d45c" stroke="#89d45c" stroke-width="0.45"/></marker><marker id="h52" markerUnits="userSpaceOnUse" markerWidth="8" markerHeight="10" viewBox="-4 -5 8 10" refX="0" refY="0" overflow="visible"><path d="M0 -3.95L2.95 -1.97V1.97L0 3.95L-2.95 1.97V-1.97Z" fill="#8ed457" stroke="#8ed457" stroke-width="0.45"/></marker><marker id="h53" markerUnits="userSpaceOnUse" markerWidth="8" markerHeight="10" viewBox="-4 -5 8 10" refX="0" refY="0" overflow="visible"><path d="M0 -3.95L2.95 -1.97V1.97L0 3.95L-2.95 1.97V-1.97Z" fill="#93d452" stroke="#93d452" stroke-width="0.45"/></marker><marker id="h54" markerUnits="userSpaceOnUse" markerWidth="8" markerHeight="10" viewBox="-4 -5 8 10" refX="0" refY="0" overflow="visible"><path d="M0 -3.95L2.95 -1.97V1.97L0 3.95L-2.95 1.97V-1.97Z" fill="#98d452" stroke="#98d452" stroke-width="0.45"/></marker><marker id="h55" markerUnits="userSpaceOnUse" markerWidth="8" markerHeight="10" viewBox="-4 -5 8 10" refX="0" refY="0" overflow="visible"><path d="M0 -3.95L2.95 -1.97V1.97L0 3.95L-2.95 1.97V-1.97Z" fill="#9dd44d" stroke="#9dd44d" stroke-width="0.45"/></marker><marker id="h56" markerUnits="userSpaceOnUse" markerWidth="8" markerHeight="10" viewBox="-4 -5 8 10" refX="0" refY="0" overflow="visible"><path d="M0 -3.95L2.95 -1.97V1.97L0 3.95L-2.95 1.97V-1.97Z" fill="#a2d948" stroke="#a2d948" stroke-width="0.45"/></marker><marker id="h57" markerUnits="userSpaceOnUse" markerWidth="8" markerHeight="10" viewBox="-4 -5 8 10" refX="0" refY="0" overflow="visible"><path d="M0 -3.95L2.95 -1.97V1.97L0 3.95L-2.95 1.97V-1.97Z" fill="#a7d948" stroke="#a7d948" stroke-width="0.45"/></marker><marker id="h58" markerUnits="userSpaceOnUse" markerWidth="8" markerHeight="10" viewBox="-4 -5 8 10" refX="0" refY="0" overflow="visible"><path d="M0 -3.95L2.95 -1.97V1.97L0 3.95L-2.95 1.97V-1.97Z" fill="#acd943" stroke="#acd943" stroke-width="0.45"/></marker><marker id="h59" markerUnits="userSpaceOnUse" markerWidth="8" markerHeight="10" viewBox="-4 -5 8 10" refX="0" refY="0" overflow="visible"><path d="M0 -3.95L2.95 -1.97V1.97L0 3.95L-2.95 1.97V-1.97Z" fill="#b1d93e" stroke="#b1d93e" stroke-width="0.45"/></marker><marker id="h60" markerUnits="userSpaceOnUse" markerWidth="8" markerHeight="10" viewBox="-4 -5 8 10" refX="0" refY="0" overflow="visible"><path d="M0 -3.95L2.95 -1.97V1.97L0 3.95L-2.95 1.97V-1.97Z" fill="#bbd93e" stroke="#bbd93e" stroke-width="0.45"/></marker><marker id="h61" markerUnits="userSpaceOnUse" markerWidth="8" markerHeight="10" viewBox="-4 -5 8 10" refX="0" refY="0" overflow="visible"><path d="M0 -3.95L2.95 -1.97V1.97L0 3.95L-2.95 1.97V-1.97Z" fill="#c0d939" stroke="#c0d939" stroke-width="0.45"/></marker><marker id="h62" markerUnits="userSpaceOnUse" markerWidth="8" markerHeight="10" viewBox="-4 -5 8 10" refX="0" refY="0" overflow="visible"><path d="M0 -3.95L2.95 -1.97V1.97L0 3.95L-2.95 1.97V-1.97Z" fill="#c5d939" stroke="#c5d939" stroke-width="0.45"/></marker><marker id="h63" markerUnits="userSpaceOnUse" markerWidth="8" markerHeight="10" viewBox="-4 -5 8 10" refX="0" refY="0" overflow="visible"><path d="M0 -3.95L2.95 -1.97V1.97L0 3.95L-2.95 1.97V-1.97Z" fill="#cad939" stroke="#cad939" stroke-width="0.45"/></marker><marker id="h64" markerUnits="userSpaceOnUse" markerWidth="8" markerHeight="10" viewBox="-4 -5 8 10" refX="0" refY="0" overflow="visible"><path d="M0 -3.95L2.95 -1.97V1.97L0 3.95L-2.95 1.97V-1.97Z" fill="#cfd934" stroke="#cfd934" stroke-width="0.45"/></marker><marker id="h65" markerUnits="userSpaceOnUse" markerWidth="8" markerHeight="10" viewBox="-4 -5 8 10" refX="0" refY="0" overflow="visible"><path d="M0 -3.95L2.95 -1.97V1.97L0 3.95L-2.95 1.97V-1.97Z" fill="#d4de34" stroke="#d4de34" stroke-width="0.45"/></marker><marker id="h66" markerUnits="userSpaceOnUse" markerWidth="8" markerHeight="10" viewBox="-4 -5 8 10" refX="0" refY="0" overflow="visible"><path d="M0 -3.95L2.95 -1.97V1.97L0 3.95L-2.95 1.97V-1.97Z" fill="#d9de34" stroke="#d9de34" stroke-width="0.45"/></marker><marker id="h67" markerUnits="userSpaceOnUse" markerWidth="8" markerHeight="10" viewBox="-4 -5 8 10" refX="0" refY="0" overflow="visible"><path d="M0 -3.95L2.95 -1.97V1.97L0 3.95L-2.95 1.97V-1.97Z" fill="#dede2f" stroke="#dede2f" stroke-width="0.45"/></marker><marker id="h68" markerUnits="userSpaceOnUse" markerWidth="8" markerHeight="10" viewBox="-4 -5 8 10" refX="0" refY="0" overflow="visible"><path d="M0 -3.95L2.95 -1.97V1.97L0 3.95L-2.95 1.97V-1.97Z" fill="#e3de2f" stroke="#e3de2f" stroke-width="0.45"/></marker><marker id="h69" markerUnits="userSpaceOnUse" markerWidth="8" markerHeight="10" viewBox="-4 -5 8 10" refX="0" refY="0" overflow="visible"><path d="M0 -3.95L2.95 -1.97V1.97L0 3.95L-2.95 1.97V-1.97Z" fill="#e8de2f" stroke="#e8de2f" stroke-width="0.45"/></marker><marker id="h70" markerUnits="userSpaceOnUse" markerWidth="8" markerHeight="10" viewBox="-4 -5 8 10" refX="0" refY="0" overflow="visible"><path d="M0 -3.95L2.95 -1.97V1.97L0 3.95L-2.95 1.97V-1.97Z" fill="#ede32f" stroke="#ede32f" stroke-width="0.45"/></marker><marker id="h71" markerUnits="userSpaceOnUse" markerWidth="8" markerHeight="10" viewBox="-4 -5 8 10" refX="0" refY="0" overflow="visible"><path d="M0 -3.95L2.95 -1.97V1.97L0 3.95L-2.95 1.97V-1.97Z" fill="#f2e32f" stroke="#f2e32f" stroke-width="0.45"/></marker></defs>
<path d="M445 1359.4l23.6 -11.9 -38.3 -5.9 35.4 0 8.9 -5.9 5.8 0 -76.6 -11.8 61.9 -6 -61.9 -5.9 -8.9 -5.9 5.9 0 -8.8 -5.9 97.3 -5.9 -85.5 -6 61.9 -5.9 -53.1 -11.8 11.8 0 23.6 0 -32.4 -5.9 38.3 -6 11.8 0 -44.3 -5.9 47.2 0" fill="none" stroke="none" marker-start="url(#h0)" marker-mid="url(#h0)" marker-end="url(#h0)"/>
<path d="M439.2 1347.5l-26.6 -5.9 -3 -5.9 6 0 35.4 0 5.8 0 -44.2 -5.9 70.8 -23.7 -76.7 -11.8 70.8 -11.9 -79.7 -5.9 23.6 0 6 -23.7 23.6 0 11.8 0 -44.3 -5.9 53.1 0" fill="none" stroke="none" marker-start="url(#h1)" marker-mid="url(#h1)" marker-end="url(#h1)"/>
<path d="M412.6 1353.5l53.1 0 -38.3 -6 -8.9 -5.9 50.1 -53.3 -59 -11.8 0 -11.8 65 0 -17.8 -11.9" fill="none" stroke="none" marker-start="url(#h2)" marker-mid="url(#h2)" marker-end="url(#h2)"/>
<path d="M453.9 1365.3l0 -11.8 -32.5 -6 26.6 -5.9 44.2 -5.9 -14.7 -5.9 8.9 -5.9 -91.5 -6 88.5 0 -97.4 -5.9 0 -11.8 97.4 -5.9 5.9 -11.9 -97.3 -5.9 2.9 -5.9 82.6 -11.9 -32.5 -17.7" fill="none" stroke="none" marker-start="url(#h3)" marker-mid="url(#h3)" marker-end="url(#h3)"/>
<path d="M439.2 1359.4l-8.9 -5.9 5.9 0 47.2 -11.9 -11.8 -11.8 -53.1 -11.9 67.9 -5.9 5.8 0 -14.7 -5.9 8.9 -29.6 5.8 0 -91.4 -5.9 88.5 0 -26.5 -5.9 -44.3 -6 5.9 0 17.7 0 17.7 0 0 -11.8" fill="none" stroke="none" marker-start="url(#h4)" marker-mid="url(#h4)" marker-end="url(#h4)"/>
<path d="M448 1365.3l-32.4 -5.9 -8.9 -5.9 38.3 -6 44.3 -29.6 -8.9 -5.9 -85.5 -17.7 20.7 -6 88.4 0 -64.8 -47.3" fill="none" stroke="none" marker-start="url(#h5)" marker-mid="url(#h5)" marker-end="url(#h5)"/>
<path d="M459.8 1365.3l-53.1 -23.7 82.6 0 -82.6 -11.8 11.8 0 76.7 0 -103.2 -17.8 100.2 -23.7 -8.8 -17.7 -44.2 -5.9 -8.9 -6 -14.7 -5.9 38.3 -5.9 -20.7 -5.9 -5.8 -11.9" fill="none" stroke="none" marker-start="url(#h6)" marker-mid="url(#h6)" marker-end="url(#h6)"/>
<path d="M451 1347.5l0 -23.6 26.5 -6 -67.9 -5.9 32.5 -5.9 5.9 -11.8 5.9 0 -35.4 -23.7 47.2 0 -8.9 -5.9" fill="none" stroke="none" marker-start="url(#h7)" marker-mid="url(#h7)" marker-end="url(#h7)"/>
<path d="M459.8 1353.5l0 -11.9 -38.4 -53.3 41.4 0 -14.8 -5.9 23.6 0 11.8 0 -32.4 -5.9 -20.7 -5.9 29.5 0 -20.6 -17.8" fill="none" stroke="none" marker-start="url(#h8)" marker-mid="url(#h8)" marker-end="url(#h8)"/>
<path d="M433.2 1335.7l29.6 0 2.9 -5.9 17.7 0 -26.6 -5.9 17.8 0 5.8 0 -73.7 -6 64.9 0 -67.8 -17.7 47.2 -11.9 35.4 0 -29.6 -11.8 -35.4 -11.8 23.6 0 6 0" fill="none" stroke="none" marker-start="url(#h9)" marker-mid="url(#h9)" marker-end="url(#h9)"/>
<path d="M433.2 1359.4l14.8 -5.9 -32.4 -6 17.6 0 20.7 -5.9 23.6 0 -56.1 -5.9 47.2 0 -67.8 -5.9 62 -5.9 -32.5 -6 -23.6 -11.8 -8.9 -5.9 11.8 0 59 0 -35.4 -11.9 41.4 0 0 -11.8 -67.9 -5.9 29.5 0 5.9 0 -14.7 -5.9 41.2 0 11.8 0 -32.4 -6 -14.8 -5.9" fill="none" stroke="none" marker-start="url(#h10)" marker-mid="url(#h10)" marker-end="url(#h10)"/>
<path d="M442.1 1353.5l20.7 -6 17.6 0 -53 -11.8 11.8 0 14.7 -5.9 -44.3 -5.9 17.8 0 47.2 -11.9 -62 -5.9 47.2 0 -26.6 -5.9 -8.8 -5.9 53.1 0 -82.6 -11.9 41.3 0 -32.4 -5.9 23.6 0 8.8 -17.8 11.8 -11.8" fill="none" stroke="none" marker-start="url(#h11)" marker-mid="url(#h11)" marker-end="url(#h11)"/>
<path d="M442.1 1341.6l29.5 -35.5 -62 -17.8 70.8 0 -8.8 -17.7" fill="none" stroke="none" marker-start="url(#h12)" marker-mid="url(#h12)" marker-end="url(#h12)"/>
<path d="M439.2 1371.2l17.6 -11.8 26.6 -5.9 -8.8 -6 -3 -5.9 17.7 -11.8 5.9 -35.5 -103.2 -6 70.8 -47.3 -20.7 -5.9" fill="none" stroke="none" marker-start="url(#h13)" marker-mid="url(#h13)" marker-end="url(#h13)"/>
<path d="M471.6 1353.5l-73.8 -6 11.8 0 -8.8 -5.9 -3 -17.7 100.4 -11.9 -85.6 -53.3 70.8 0 -91.4 -5.9" fill="none" stroke="none" marker-start="url(#h14)" marker-mid="url(#h14)" marker-end="url(#h14)"/>
<path d="M471.6 1365.3l3 -5.9 5.8 0 -88.4 -23.7 11.8 0 82.6 0 5.8 -11.8 -103.2 -6 0 -35.5 11.8 0 94.4 0 3 -17.7 -73.8 -17.8 5.9 0 11.8 0" fill="none" stroke="none" marker-start="url(#h15)" marker-mid="url(#h15)" marker-end="url(#h15)"/>
<path d="M424.4 1329.8l-11.8 -11.9 41.3 -11.8 2.9 -5.9 8.9 -5.9 -8.9 -6 -44.2 -5.9 5.9 0 5.9 0 38.4 -5.9" fill="none" stroke="none" marker-start="url(#h16)" marker-mid="url(#h16)" marker-end="url(#h16)"/>
<path d="M424.4 1341.6l5.9 -11.8 17.7 0 -26.6 -5.9 -5.8 -11.9 47.2 0 -38.4 -5.9 5.9 0 35.4 0 -5.9 -23.7" fill="none" stroke="none" marker-start="url(#h17)" marker-mid="url(#h17)" marker-end="url(#h17)"/>
<path d="M445 1323.9l6 -11.9 38.3 -5.9 -76.7 -11.8 41.3 -23.7" fill="none" stroke="none" marker-start="url(#h18)" marker-mid="url(#h18)" marker-end="url(#h18)"/>
<path d="M462.8 1359.4l5.8 0 -44.2 -5.9 53.1 0 20.7 -6 -97.4 -29.6 -11.8 -23.6 8.8 -6 106.2 -11.8 -17.6 -11.8 -85.6 -6 70.8 0 -67.8 -5.9 82.6 0 -73.8 -5.9 53.1 0 -38.3 -5.9" fill="none" stroke="none" marker-start="url(#h19)" marker-mid="url(#h19)" marker-end="url(#h19)"/>
<path d="M456.8 1371.2l-32.4 -5.9 3 -5.9 70.8 -35.5 -100.4 -59.2 8.9 -17.8 59 -11.8" fill="none" stroke="none" marker-start="url(#h20)" marker-mid="url(#h20)" marker-end="url(#h20)"/>
<path d="M430.3 1365.3l56.1 -5.9 -97.4 -53.3 106.2 0 -115 -5.9 112 0 -11.8 -23.7 -44.2 -29.6 -20.6 -5.9 5.8 0 65 0" fill="none" stroke="none" marker-start="url(#h21)" marker-mid="url(#h21)" marker-end="url(#h21)"/>
<path d="M459.8 1329.8l-44.2 -5.9 0 -23.7 29.4 0 -2.9 -5.9 -8.9 -17.8 0 -11.8" fill="none" stroke="none" marker-start="url(#h22)" marker-mid="url(#h22)" marker-end="url(#h22)"/>
<path d="M439.2 1323.9l-14.8 -6 47.2 -23.6 -44.2 -6 11.8 0" fill="none" stroke="none" marker-start="url(#h23)" marker-mid="url(#h23)" marker-end="url(#h23)"/>
<path d="M456.8 1347.5l-11.8 -11.8 -8.8 -17.8 -3 -5.9 6 0 17.6 0 -20.6 -5.9 -14.8 -5.9 17.8 0 23.6 0 11.8 0 -56.1 -5.9 11.8 0 29.5 0 -53.1 -11.9 8.9 -5.9 23.6 0" fill="none" stroke="none" marker-start="url(#h24)" marker-mid="url(#h24)" marker-end="url(#h24)"/>
<path d="M453.9 1377.1l-44.3 -5.9 17.8 0 14.7 -5.9 -23.6 -11.8 -32.5 -17.8 115.1 -5.9 -109.1 -5.9 112 -11.9 6 0 -23.6 -11.8 -88.6 -47.4 79.7 -5.9 -70.8 -11.8" fill="none" stroke="none" marker-start="url(#h25)" marker-mid="url(#h25)" marker-end="url(#h25)"/>
<path d="M468.6 1371.2l-47.2 -11.8 29.6 0 44.2 -41.5 -112.1 -23.6 17.7 0 -14.8 -6 6 -23.6 11.8 0 85.5 -6 -79.7 -5.9 35.4 0 6 -11.8 29.4 0 -8.8 -5.9" fill="none" stroke="none" marker-start="url(#h26)" marker-mid="url(#h26)" marker-end="url(#h26)"/>
<path d="M468.6 1323.9h0.01" fill="none" stroke="none" marker-start="url(#h27)" marker-mid="url(#h27)" marker-end="url(#h27)"/>
<path d="M442.1 1317.9l-11.8 -35.5" fill="none" stroke="none" marker-start="url(#h28)" marker-mid="url(#h28)" marker-end="url(#h28)"/>
<path d="M421.4 1312h0.01" fill="none" stroke="none" marker-start="url(#h29)" marker-mid="url(#h29)" marker-end="url(#h29)"/>
<path d="M468.6 1312l-50.1 -5.9 17.7 -11.8 5.9 -11.9" fill="none" stroke="none" marker-start="url(#h30)" marker-mid="url(#h30)" marker-end="url(#h30)"/>
<path d="M442.1 1329.8l-14.7 -17.8" fill="none" stroke="none" marker-start="url(#h31)" marker-mid="url(#h31)" marker-end="url(#h31)"/>
<path d="M436.2 1329.8l8.8 -41.5 0 -11.8" fill="none" stroke="none" marker-start="url(#h32)" marker-mid="url(#h32)" marker-end="url(#h32)"/>
<path d="M436.2 1341.6l-3 -17.7 11.8 -11.9 3 -5.9 -20.6 -5.9 23.6 0 2.9 -17.8 14.7 -5.9" fill="none" stroke="none" marker-start="url(#h33)" marker-mid="url(#h33)" marker-end="url(#h33)"/>
<path d="M439.2 1383.1l-6 -11.9 3 -5.9 56 -5.9 -5.8 -11.9 -91.5 -5.9 112.1 -11.8 -121 -5.9 11.8 -11.9 -14.7 -5.9 115.1 -5.9 5.8 0 -2.9 -5.9 11.8 0 -138.7 -6 124 -11.8 -109.2 -17.8 94.4 -11.8 -73.8 -5.9 14.8 -5.9 29.5 0" fill="none" stroke="none" marker-start="url(#h34)" marker-mid="url(#h34)" marker-end="url(#h34)"/>
<path d="M448 1317.9l11.8 0" fill="none" stroke="none" marker-start="url(#h35)" marker-mid="url(#h35)" marker-end="url(#h35)"/>
<path d="M453.9 1317.9l26.5 -17.7" fill="none" stroke="none" marker-start="url(#h36)" marker-mid="url(#h36)" marker-end="url(#h36)"/>
<path d="M430.3 1377.1l5.9 0 5.9 0 -20.7 -5.9 29.6 0 -44.3 -5.9 2.9 -5.9 -5.8 -11.9 88.4 0 8.9 -5.9 -112.1 -11.8 115 -5.9 -126.8 -6 129.8 0 -126.8 -5.9 -3 -5.9 123.9 0 -2.9 -17.8 -20.7 -17.7 17.7 0 0 -11.9 -14.8 -5.9 11.8 0 6 0 -41.4 -11.8 3 -5.9 20.6 -6 -61.9 -5.9 11.8 0 23.6 0 11.8 0" fill="none" stroke="none" marker-start="url(#h37)" marker-mid="url(#h37)" marker-end="url(#h37)"/>
<path d="M456.8 1383.1l3 -6 -56 -5.9 -8.9 -5.9 17.7 0 5.9 0 70.8 -11.8 -100.3 -11.9 -8.8 -17.7 -6 -11.9 132.8 -5.9 -129.8 -11.8 141.6 0 -11.8 -23.7 -100.3 -11.9 67.9 -5.9 29.4 0 -85.5 -17.7 17.7 0 20.6 -6" fill="none" stroke="none" marker-start="url(#h38)" marker-mid="url(#h38)" marker-end="url(#h38)"/>
<path d="M383.1 1341.6l14.7 -5.9 103.3 -17.8 5.9 -23.6 -11.8 -47.4 -64.9 -11.8 17.7 0 20.6 -6 6 0" fill="none" stroke="none" marker-start="url(#h39)" marker-mid="url(#h39)" marker-end="url(#h39)"/>
<path d="M448 1377.1l23.6 0 -56 -5.9 64.8 0 6 0 -8.9 -5.9 -76.7 -11.8 -14.8 -6 6 0 120.9 -5.9 -144.5 -17.7 147.4 0 -147.4 -23.7 153.4 -11.9 -144.6 -5.9 8.8 -5.9 3 -5.9 112.1 -11.9 -32.5 -17.7 29.6 0 -59 -11.9 5.8 0 23.6 -11.8 -20.6 -5.9" fill="none" stroke="none" marker-start="url(#h40)" marker-mid="url(#h40)" marker-end="url(#h40)"/>
<path d="M427.4 1383.1l17.6 0 -32.4 -6 64.9 0 -76.7 -11.8 3 -5.9 -8.9 -29.6 106.2 -59.2 -115.1 -5.9 106.2 0 -97.3 -6 0 -11.8 5.9 0" fill="none" stroke="none" marker-start="url(#h41)" marker-mid="url(#h41)" marker-end="url(#h41)"/>
<path d="M424.4 1377.1l38.4 -5.9 11.8 0 -103.3 -29.6 0 -23.7 147.5 -11.8 -8.8 -29.6 8.8 -5.9 -5.9 -11.9 -129.8 -11.8 106.2 0 11.8 0 -97.3 -5.9 73.7 -5.9 -79.7 -6 23.6 0 0 -11.8" fill="none" stroke="none" marker-start="url(#h42)" marker-mid="url(#h42)" marker-end="url(#h42)"/>
<path d="M406.7 1389l5.9 0 5.9 -11.9 47.2 0 17.7 -11.8 11.8 -11.8 5.9 0 -126.9 -6 121 -5.9 20.6 -5.9 -132.7 -53.3 123.9 0 -132.8 -5.9 6 0 2.9 -5.9 -2.9 -5.9 29.4 -35.6 41.4 0 -3 -5.9" fill="none" stroke="none" marker-start="url(#h43)" marker-mid="url(#h43)" marker-end="url(#h43)"/>
<path d="M442.1 1389l-56.1 -29.6 6 0 106.2 0 5.8 -11.9 -123.8 -11.8 2.9 -5.9 126.9 -5.9 -144.6 -6 8.8 -17.7 8.9 -41.5 -5.9 -11.8 35.4 -11.8 76.7 0 -53.1 -11.9 41.3 0" fill="none" stroke="none" marker-start="url(#h44)" marker-mid="url(#h44)" marker-end="url(#h44)"/>
<path d="M421.4 1394.9l11.8 -11.8 29.6 0 20.6 -6 -85.6 -5.9 -14.7 -5.9 -8.9 -29.6 3 -5.9 135.7 -11.9 8.9 -17.7 -20.7 -17.8 11.8 0 -144.5 -5.9 20.6 -29.6 -3 -5.9 6 0 91.4 -5.9 23.6 0 -64.9 -11.9" fill="none" stroke="none" marker-start="url(#h45)" marker-mid="url(#h45)" marker-end="url(#h45)"/>
<path d="M415.6 1383.1l5.8 0 -20.6 -6 5.9 0 -20.7 -5.9 59 0 53.2 0 -32.5 -5.9 -82.6 -11.8 11.8 0 115.1 -17.8 2.9 -29.6 2.9 -17.8 -138.6 -17.7 0 -11.9 62 -41.4" fill="none" stroke="none" marker-start="url(#h46)" marker-mid="url(#h46)" marker-end="url(#h46)"/>
<path d="M403.8 1383.1l-6 -23.7 109.2 -5.9 14.8 -17.8 -138.7 -17.8 144.5 -5.9 -156.3 -5.9 -5.9 -11.8 156.4 -17.8 -147.6 -11.8 14.8 -29.6 11.8 0 -20.6 -6 53 0 29.6 0 23.6 0 -73.8 -5.9 62 -5.9 -14.8 -5.9" fill="none" stroke="none" marker-start="url(#h47)" marker-mid="url(#h47)" marker-end="url(#h47)"/>
<path d="M409.6 1394.9l20.7 -5.9 -20.7 -5.9 41.4 0 29.4 0 8.9 -17.8 5.9 0 -118 -23.7 121 -5.9 -132.8 -5.9 147.5 0 -138.7 -5.9 141.6 -11.9 -144.5 -17.7 8.9 -6 -8.9 -5.9 53.1 -59.2 35.4 0 11.8 0 -56 -5.9 41.2 0 6 -11.8" fill="none" stroke="none" marker-start="url(#h48)" marker-mid="url(#h48)" marker-end="url(#h48)"/>
<path d="M400.8 1400.8l35.4 0 -20.6 -5.9 38.3 -5.9 -61.9 -17.8 100.2 0 8.9 -5.9 -138.6 -65.1 147.5 0 8.8 -17.8 -5.9 -11.8 -2.9 -5.9 5.8 0 3 -6 -44.2 -17.7 -59 -11.9 11.8 -11.8 23.6 0 -11.8 -11.8" fill="none" stroke="none" marker-start="url(#h49)" marker-mid="url(#h49)" marker-end="url(#h49)"/>
<path d="M380.2 1347.5l129.8 0 8.8 -5.9 -8.8 -53.3 5.8 -11.8 11.8 0 -156.3 -5.9 8.9 -17.8 112 -11.8 -97.3 -5.9 103.3 -6 -53.2 -11.8 -2.9 -5.9 26.5 -5.9" fill="none" stroke="none" marker-start="url(#h50)" marker-mid="url(#h50)" marker-end="url(#h50)"/>
<path d="M439.2 1406.7l-11.8 -11.8 -3 -5.9 23.6 0 20.6 -5.9 -91.4 -6 129.8 -11.8 5.9 -11.8 -8.9 -17.8 14.8 -5.9 5.9 -11.9 -159.3 -11.8 159.3 -11.8 -156.3 -29.6 153.4 0 -11.8 -11.9 -118 -23.7 38.3 -29.6" fill="none" stroke="none" marker-start="url(#h51)" marker-mid="url(#h51)" marker-end="url(#h51)"/>
<path d="M406.7 1400.8l-2.9 -5.9 32.4 -5.9 -44.2 -5.9 5.8 0 76.8 0 29.4 -11.9 -123.8 -11.8 -8.9 -29.6 153.4 0 -162.2 -17.8 159.3 0 2.9 -5.9 -159.3 -23.7 -8.8 -5.9 8.8 -5.9 5.9 -11.9 135.7 0 -121 -5.9 135.8 0 -8.9 -5.9 -115.1 -5.9 85.6 -17.8 -91.4 -5.9 5.8 0 35.4 0 59 0 -61.9 -5.9 23.6 0 29.5 0" fill="none" stroke="none" marker-start="url(#h52)" marker-mid="url(#h52)" marker-end="url(#h52)"/>
<path d="M394.9 1389l23.6 0 41.3 0 29.5 0 -2.9 -5.9 -97.4 -17.8 115 -5.9 3 -17.8 -138.6 -29.6 147.4 -11.8 -168.1 -5.9 20.7 -6 159.2 0 -23.6 -23.6 -109.1 -41.5 85.5 -5.9 -61.9 -5.9 59 0 -50.1 -5.9" fill="none" stroke="none" marker-start="url(#h53)" marker-mid="url(#h53)" marker-end="url(#h53)"/>
<path d="M430.3 1400.8l20.7 -5.9 23.6 0 -8.9 -5.9 -76.7 -11.9 5.9 0 -20.7 -17.7 141.6 -11.9 -150.4 -5.9 -5.9 -11.8 162.3 -5.9 5.8 0 -168.1 -6 -2.9 -5.9 168.1 -41.4 5.9 0 -20.6 -29.6 -124 -11.9 17.8 0 85.5 -5.9 -56.1 -17.7 3 -6" fill="none" stroke="none" marker-start="url(#h54)" marker-mid="url(#h54)" marker-end="url(#h54)"/>
<path d="M456.8 1418.6l-44.2 -17.8 29.5 0 5.9 0 17.7 0 -20.7 -5.9 11.8 0 6 0 5.8 0 23.6 0 -118 -23.7 -2.9 -5.9 17.7 -11.8 -35.4 -23.7 -2.9 -29.6 5.9 -11.9 168.1 -5.9 5.9 0 8.8 -5.9 -171 -23.7 5.8 -11.8 6 0 115 -5.9 -94.4 -11.9 85.6 -5.9 -85.6 -5.9 23.6 0 41.3 0 5.9 0 -62 -5.9" fill="none" stroke="none" marker-start="url(#h55)" marker-mid="url(#h55)" marker-end="url(#h55)"/>
<path d="M403.8 1406.7l73.7 -5.9 -38.3 -5.9 44.2 -5.9 -100.3 -11.9 138.7 -29.6 -165.2 -23.6 174 -6 -174 -17.7 171 0 -168.1 -17.8 3 -5.9 -8.9 -5.9 20.6 -17.8 141.6 0 -11.8 -11.8 -2.9 -5.9 -8.9 -6 -103.2 -5.9 17.7 0 -2.9 -5.9 5.8 0 26.6 -5.9 8.8 -5.9 -26.5 -6" fill="none" stroke="none" marker-start="url(#h56)" marker-mid="url(#h56)" marker-end="url(#h56)"/>
<path d="M486.4 1406.7l-103.3 -5.9 14.7 -5.9 35.4 0 56.1 -17.8 5.9 0 -115 -5.9 135.6 0 -138.6 -5.9 135.7 0 2.9 -5.9 -138.6 -5.9 -20.6 -17.8 171 0 6 -11.8 -182.9 -11.9 -3 -5.9 11.8 0 171.1 0 0 -11.8 -168.1 -6 171.1 -11.8 -150.5 -41.4 115.1 -17.8 5.8 0 -97.3 -5.9 14.7 -5.9 53.2 0 5.8 0 -5.8 -11.9" fill="none" stroke="none" marker-start="url(#h57)" marker-mid="url(#h57)" marker-end="url(#h57)"/>
<path d="M397.8 1406.7l29.6 0 35.4 0 38.3 -5.9 -138.6 -29.6 147.5 0 11.8 0 -153.4 -35.5 165.2 0 11.8 -23.7 -185.9 -17.7 -17.7 -11.9 8.9 -17.7 11.8 0 165.1 -11.9 -5.8 -11.8 -3 -5.9 -14.8 -6 -2.9 -5.9 -38.3 -5.9 -11.8 -11.8 26.5 -6" fill="none" stroke="none" marker-start="url(#h58)" marker-mid="url(#h58)" marker-end="url(#h58)"/>
<path d="M445 1418.6l20.7 -5.9 5.9 0 -79.6 -6 26.5 -5.9 -17.7 -11.8 70.8 0 23.6 0 11.8 0 17.7 -11.9 -165.2 -11.8 3 -5.9 5.9 0 -3 -5.9 153.4 0 11.8 0 -162.2 -6 -8.9 -5.9 3 -17.7 -14.8 -6 194.7 0 -188.8 -11.8 188.8 0 0 -23.7 -17.7 -23.7 -162.2 -5.9 5.9 -11.8 159.2 0 -144.5 -17.8 29.5 -11.8 3 -5.9 41.2 0 41.4 0 -103.3 -6 17.7 0 35.4 0 5.9 0 11.8 0 -11.8 -11.8" fill="none" stroke="none" marker-start="url(#h59)" marker-mid="url(#h59)" marker-end="url(#h59)"/>
<path d="M421.4 1406.7l11.8 0 41.4 0 5.8 0 -2.9 -17.7 -97.3 -5.9 123.8 0 -2.9 -6 8.9 -17.7 -162.3 -5.9 5.9 0 17.7 0 -14.7 -6 171 0 -2.9 -5.9 5.9 -11.8 5.9 0 -17.7 -11.9 -177 -11.8 3 -17.8 188.8 0 -185.9 -17.7 -2.9 -5.9 182.8 0 -174 -6 5.9 0 5.9 0 165.2 -11.8 -171.1 -11.8 17.7 -11.9 135.7 0 -115.1 -17.7 44.3 -6 14.7 -5.9 6 0" fill="none" stroke="none" marker-start="url(#h60)" marker-mid="url(#h60)" marker-end="url(#h60)"/>
<path d="M462.8 1418.6l-56.1 -5.9 23.6 0 47.2 0 -26.5 -6 5.8 0 -61.9 -5.9 59 0 5.9 0 11.8 0 35.4 0 -26.6 -5.9 6 0 11.8 0 17.6 0 -138.6 -5.9 5.9 0 -8.9 -5.9 11.8 0 106.2 0 6 0 11.8 0 -138.7 -6 135.7 0 11.8 -11.8 -168.1 -5.9 8.8 -5.9 165.2 0 -171.1 -59.2 5.9 -23.7 -2.9 -17.8 14.7 -5.9 144.5 -5.9 -150.4 -5.9 11.8 0 135.7 0 -150.4 -6 144.5 -5.9 -121 -5.9 3 -5.9 112.1 0 -14.7 -5.9 5.8 0 -59 -11.9 35.4 0 -50.1 -5.9 59 0" fill="none" stroke="none" marker-start="url(#h61)" marker-mid="url(#h61)" marker-end="url(#h61)"/>
<path d="M383.1 1412.7l29.5 0 76.7 0 11.8 0 -85.5 -6 29.4 0 23.6 0 29.6 0 -14.8 -5.9 11.8 0 -106.2 -11.8 123.9 0 5.9 0 -165.2 -47.4 -2.9 -17.7 188.7 0 -2.9 -6 20.7 -17.7 -221.3 -5.9 200.6 0 0 -23.7 -5.9 -11.9 -165.2 -11.8 159.3 0 -179.9 -5.9 35.4 -23.7 115 -5.9 20.6 -5.9 -91.4 -6 47.2 0 11.8 0 11.8 0 -56 -5.9 -32.5 -5.9 88.5 0 -73.8 -5.9 17.8 -11.9" fill="none" stroke="none" marker-start="url(#h62)" marker-mid="url(#h62)" marker-end="url(#h62)"/>
<path d="M465.7 1424.5l14.7 -5.9 23.6 0 -85.5 -5.9 17.7 0 23.6 0 -88.5 -11.9 118 0 -109.1 -5.9 5.8 0 118 0 -138.6 -5.9 135.7 0 -135.7 -11.9 153.4 0 -150.4 -5.9 159.2 0 -5.8 -11.8 -159.3 -11.9 -20.7 -5.9 5.9 0 188.8 0 11.8 0 -206.5 -23.7 191.8 -5.9 5.8 -11.8 8.9 -5.9 -8.9 -6 -185.8 -5.9 194.7 0 -197.6 -5.9 5.9 -11.8 185.8 -6 -197.6 -5.9 188.8 0 -180 -17.7 17.7 0 2.9 -6 135.8 0 -138.7 -5.9 153.4 0 -120.9 -17.7 56 -6 -44.2 -5.9 5.8 0 82.6 0 -79.6 -5.9 17.7 0 23.6 0" fill="none" stroke="none" marker-start="url(#h63)" marker-mid="url(#h63)" marker-end="url(#h63)"/>
<path d="M480.4 1430.4l-56 -5.9 29.5 0 -38.3 -5.9 11.8 0 23.6 0 -26.6 -5.9 17.7 0 11.8 0 41.3 0 17.7 0 -20.7 -6 -103.2 -5.9 121 -5.9 -150.5 -17.8 177 0 -11.8 -11.8 8.9 -5.9 0 -11.9 17.6 0 -224.2 -11.8 35.5 0 176.9 0 -215.3 -5.9 5.9 0 212.4 0 -209.4 -5.9 230.1 0 -209.5 -6 -8.8 -5.9 194.6 0 -203.5 -5.9 200.6 0 -203.5 -5.9 5.8 0 6 0 -8.9 -17.8 221.3 -5.9 -227.2 -5.9 3 -17.8 26.5 -5.9 171.1 -11.8 -162.2 -6 153.4 0 -162.3 -5.9 135.7 0 -112.1 -11.8 123.9 0 29.5 0 -144.5 -5.9 118 0 -103.3 -6 82.6 0 11.8 0 5.9 0 -126.8 -5.9 29.4 0 41.4 0 47.2 0 -62 -5.9 -26.6 -5.9 53.2 0 5.8 0 -47.2 -11.9 41.4 0" fill="none" stroke="none" marker-start="url(#h64)" marker-mid="url(#h64)" marker-end="url(#h64)"/>
<path d="M471.6 1436.3l-70.8 -11.8 5.9 0 64.9 0 -67.8 -5.9 17.6 0 53.2 0 11.8 0 -85.6 -5.9 -44.2 -6 53 0 -32.4 -5.9 14.8 -5.9 129.8 0 -168.2 -5.9 171.1 0 -174 -5.9 5.9 0 159.2 0 35.4 -11.9 -20.6 -5.9 5.9 0 17.7 0 -26.6 -5.9 -191.7 -5.9 203.5 -6 -8.8 -5.9 -191.8 -53.3 8.9 -5.9 212.4 0 -14.7 -5.9 -203.6 -5.9 -3 -5.9 11.9 -11.9 188.7 0 -32.4 -5.9 11.8 0 -168.1 -5.9 5.9 0 168.1 -5.9 11.8 0 -17.7 -11.9 -150.4 -5.9 147.4 0 14.8 -5.9 -144.6 -5.9 135.8 0 -124 -11.9 29.6 0 17.6 0 41.4 0 -38.4 -5.9 11.8 0 29.5 0 -73.7 -5.9 11.8 0 11.8 0 5.8 0 -14.7 -5.9 41.3 0 -56 -6 35.4 0 -35.4 -11.8" fill="none" stroke="none" marker-start="url(#h65)" marker-mid="url(#h65)" marker-end="url(#h65)"/>
<path d="M406.7 1436.3l-26.5 -5.9 47.2 0 17.6 0 23.6 0 -32.4 -5.9 47.2 0 -120.9 -5.9 47.1 0 23.6 0 6 0 -88.5 -11.9 153.3 0 -135.6 -11.8 -8.9 -5.9 11.8 0 -38.3 -5.9 200.6 0 -182.9 -11.9 5.9 0 -11.8 -11.8 11.8 0 182.8 0 11.8 0 -14.7 -5.9 5.9 0 5.9 0 29.5 -11.9 -233 -5.9 5.9 0 -3 -5.9 -44.2 -5.9 5.9 0 35.4 0 200.6 0 5.8 0 -2.9 -6 -221.3 -5.9 224.2 0 -227.1 -5.9 230.1 0 11.8 0 -32.4 -5.9 35.4 0 -242 -11.9 224.2 0 11.9 0 -233.1 -5.9 206.5 0 -236 -11.8 241.9 0 17.7 0 -26.5 -5.9 11.8 0 23.6 0 -221.3 -6 0 -11.8 185.9 -5.9 5.8 0 -197.6 -5.9 14.8 -6 171 0 -185.8 -5.9 14.8 -5.9 17.6 0 20.7 -5.9 94.4 0 -126.8 -5.9 5.9 0 165.2 0 -162.3 -6 11.8 0 5.9 0 147.5 0 -144.5 -5.9 8.8 -5.9 29.5 0 -50.1 -5.9 17.6 0 35.4 0 17.8 0 35.4 0 -73.8 -5.9 11.8 0 41.3 0 61.9 -17.8" fill="none" stroke="none" marker-start="url(#h66)" marker-mid="url(#h66)" marker-end="url(#h66)"/>
<path d="M418.5 1436.3l-32.5 -5.9 29.6 0 17.6 0 29.6 0 -126.9 -5.9 23.6 0 23.6 0 47.2 0 29.5 0 -126.8 -5.9 159.2 0 -44.2 -5.9 -85.5 -6 23.5 0 -64.8 -11.8 47.2 -11.8 144.5 -6 29.5 0 -8.8 -5.9 11.8 0 -215.4 -5.9 35.4 0 177 0 -203.6 -5.9 3 -5.9 218.3 0 3 -6 -227.2 -5.9 -26.5 -5.9 23.6 0 5.8 0 212.4 0 -215.3 -5.9 212.4 0 20.7 -5.9 -230.2 -11.9 209.5 -5.9 47.2 0 -50.1 -5.9 -262.6 -5.9 259.6 0 -191.7 -6 -29.5 -11.8 5.8 0 11.8 0 6 0 206.4 0 0 -11.8 6 0 -221.3 -6 5.9 0 212.4 0 23.6 0 -239 -5.9 206.6 0 5.8 0 -197.6 -5.9 -14.8 -5.9 23.7 0 188.7 0 -35.4 -11.9 23.6 0 6 0 -191.8 -5.9 11.8 0 -2.9 -5.9 147.5 0 -168.2 -5.9 23.6 0 5.9 0 5.9 0 135.7 0 11.8 0 -20.7 -5.9 23.6 0 29.6 0 -221.3 -6 177 0 -147.5 -11.8 23.6 0 94.4 0 -144.6 -5.9 47.2 0 50.2 -5.9 11.8 0 -38.4 -6 35.4 0 23.6 0 -56 -5.9 17.7 0 -20.7 -5.9 94.4 0 23.6 -11.8 -115 -6 300.9 -165.7" fill="none" stroke="none" marker-start="url(#h67)" marker-mid="url(#h67)" marker-end="url(#h67)"/>
<path d="M312.3 1483.7l47.2 0 35.4 0 -14.7 -17.8 23.6 0 23.6 0 23.6 0 -38.4 -5.9 123.9 0 -120.9 -5.9 35.4 0 -126.9 -5.9 88.5 0 17.7 0 11.8 0 -91.4 -5.9 58.9 0 11.8 0 17.8 0 17.6 0 47.2 0 -109.1 -6 29.5 0 5.9 0 35.4 0 17.7 0 5.9 0 11.8 0 41.3 0 -256.6 -5.9 118 0 17.6 0 17.8 0 11.8 0 5.8 0 17.8 0 17.6 0 6 0 41.2 0 -126.8 -5.9 5.9 0 23.6 0 5.9 0 64.9 0 47.2 0 -174.1 -5.9 82.6 0 41.4 0 5.8 0 -215.3 -5.9 23.6 0 53.1 0 11.8 0 129.8 0 -144.6 -6 6 0 135.6 0 6 0 5.8 0 11.8 0 -256.6 -5.9 23.6 0 5.9 0 17.7 0 11.8 0 82.6 0 88.5 0 11.8 0 29.5 0 -203.5 -5.9 5.9 0 5.9 0 11.7 0 153.4 0 41.4 0 -250.8 -5.9 5.9 0 11.8 0 5.9 0 188.8 0 -233 -5.9 29.4 0 11.8 0 6 0 17.7 0 159.3 0 5.8 0 11.8 0 6 0 5.8 0 -227.1 -6 11.8 0 5.9 0 5.9 0 182.9 0 64.9 0 5.9 0 11.8 0 -345.1 -5.9 47.1 0 23.6 0 200.6 0 -256.6 -5.9 23.6 0 29.5 0 5.9 0 5.9 0 5.9 0 194.7 0 23.6 0 11.8 0 -292 -5.9 41.3 0 -32.5 -5.9 5.9 0 5.9 0 5.9 0 236 0 -233 -6 17.6 0 6 0 5.9 0 194.7 0 -227.2 -5.9 224.2 0 23.6 0 5.9 0 35.4 0 -292.1 -5.9 230.2 0 11.8 0 5.9 0 -250.8 -5.9 29.5 0 224.2 0 -268.4 -5.9 17.6 0 23.6 0 218.4 0 -292.1 -6 11.8 0 41.3 0 5.9 0 5.9 0 5.9 0 224.2 0 -244.9 -5.9 6 0 11.8 0 224.2 0 17.6 0 -256.6 -5.9 241.9 0 -256.6 -5.9 11.7 0 6 0 5.8 0 224.2 0 23.6 0 11.9 0 5.9 0 -274.4 -5.9 11.8 0 224.2 0 17.7 0 -262.5 -6 5.8 0 6 0 11.8 0 212.4 0 29.4 0 -250.7 -5.9 230.1 0 11.8 0 -303.8 -5.9 -3 -5.9 29.5 0 17.7 0 11.8 0 230.1 0 17.7 0 -286.2 -5.9 23.7 0 23.5 0 253.8 0 11.8 0 -315.7 -6 17.7 0 5.9 0 17.7 0 11.8 0 206.5 0 29.5 0 5.9 0 -14.7 -5.9 -268.5 -5.9 11.8 0 11.8 0 29.5 0 194.7 0 5.9 0 5.9 0 11.8 0 -238.9 -5.9 11.8 0 212.4 0 11.8 0 5.9 0 -309.8 -5.9 53.1 0 17.7 0 11.8 0 11.8 0 200.6 0 17.7 0 -256.6 -6 29.4 0 6 0 5.9 0 182.9 0 35.4 0 5.8 0 23.6 0 -315.6 -5.9 247.8 0 5.9 0 17.7 0 5.9 0 -221.3 -5.9 11.9 0 171.1 0 5.8 0 11.8 0 -227.1 -5.9 47.2 0 159.3 0 -262.6 -5.9 17.8 0 64.8 0 6 0 29.4 0 6 0 171 0 -209.4 -6 23.6 0 35.4 0 118 0 -268.4 -5.9 64.8 0 53.2 0 5.8 0 11.8 0 106.2 0 23.6 0 11.8 0 11.8 0 -256.6 -5.9 35.4 0 53.1 0 5.9 0 5.9 0 88.5 0 29.5 0 41.3 0 23.6 0 17.7 0 -274.3 -5.9 11.8 0 47.2 0 5.8 0 17.8 0 11.8 0 53 0 17.8 0 5.8 0 11.8 0 23.6 0 6 0 5.8 0 6 0 5.8 0 -233 -5.9 29.5 0 41.3 0 5.9 0 5.9 0 17.7 0 35.4 0 11.8 0 23.6 0 11.8 0 47.2 0 -244.8 -6 70.8 0 5.9 0 17.6 0 41.4 0 64.8 0 23.6 0 11.8 0 35.5 0 -239 -5.9 53.1 0 29.5 0 17.7 0 11.8 0 11.8 0 5.9 0 5.9 0 11.8 0 5.9 0 11.8 0 5.9 0 29.5 0 29.5 0 5.9 0 -162.3 -5.9 6 0 23.6 0 11.8 0 5.8 0 29.6 0 -132.8 -5.9 59 0 29.5 0 29.5 0 11.8 0 5.9 0 11.8 0 53.1 0 11.8 0 -103.2 -5.9 23.6 0 64.8 0 -73.7 -6 17.7 0 59 0 17.7 0 5.9 0 -174 -5.9 76.6 0 6 0 82.6 0 5.9 0 23.6 0 -180 -5.9 76.7 0 23.6 0 35.4 0 29.5 0 14.8 -5.9 -8.9 -5.9 5.9 0 -32.5 -6 -32.4 -5.9 106.2 -35.5 8.8 -5.9 26.6 -5.9 -3 -6 20.7 -5.9 -5.9 -11.8 -38.4 -5.9 23.6 0 23.7 -35.6 14.7 -5.9 29.5 0 -11.8 -23.7" fill="none" stroke="none" marker-start="url(#h68)" marker-mid="url(#h68)" marker-end="url(#h68)"/>
<path d="M247.4 1483.7l88.5 0 47.2 0 8.9 -5.9 -62 -5.9 5.9 0 -32.4 -6 11.7 0 106.2 0 11.8 0 -126.8 -5.9 59 0 41.3 0 -56 -5.9 17.7 0 41.2 0 11.8 0 23.6 0 65 0 -174.1 -5.9 11.8 0 47.2 0 41.3 0 11.8 0 5.9 0 11.8 0 -144.5 -5.9 5.8 0 47.2 0 59 0 17.8 0 35.4 0 -180 -6 29.5 0 17.7 0 23.6 0 64.9 0 -85.5 -5.9 35.4 0 94.4 0 29.4 0 11.8 0 -233 -5.9 23.6 0 29.5 0 41.3 0 88.5 0 11.8 0 5.9 0 70.8 0 -280.2 -5.9 29.4 0 6 0 5.8 0 17.8 0 35.4 0 141.6 0 23.6 0 23.6 0 -209.5 -5.9 11.8 0 112.1 0 23.6 0 17.7 0 5.9 0 11.8 0 47.2 0 -309.8 -6 11.9 0 29.5 0 5.8 0 183 0 53.1 0 -298 -5.9 59 0 194.7 0 -239 -5.9 23.7 0 11.7 0 218.4 0 11.8 0 11.8 0 17.6 0 23.6 0 -297.9 -5.9 5.9 0 23.6 0 17.7 0 200.6 0 11.8 0 11.8 0 29.5 0 20.6 -5.9 -73.7 -6 11.8 0 29.5 0 -292 -5.9 5.9 0 5.9 0 11.8 0 11.8 0 224.2 0 -280.3 -5.9 35.4 0 11.8 0 -26.5 -5.9 17.6 0 11.8 0 230.2 0 -303.9 -5.9 29.5 0 11.8 0 29.5 0 283.2 0 11.8 0 -309.7 -6 17.6 0 6 0 241.8 0 23.6 0 53.2 0 -416 -5.9 47.2 0 17.7 0 259.6 0 41.3 0 -368.7 -5.9 35.4 0 11.7 0 11.9 0 11.8 0 306.7 0 -303.8 -5.9 247.8 0 -286.1 -5.9 53.1 0 5.8 0 253.8 0 17.6 0 -303.8 -6 271.4 0 23.6 0 -286.1 -5.9 265.5 0 11.8 0 23.6 0 -380.6 -5.9 5.9 0 53.1 0 5.9 0 41.3 0 -44.2 -5.9 38.3 -5.9 17.7 0 236 0 -309.7 -6 23.6 0 312.7 0 -368.8 -5.9 336.3 0 29.5 0 -333.3 -5.9 295 0 11.7 0 -238.9 -5.9 218.3 0 17.7 0 11.8 0 11.8 0 -333.3 -5.9 53 0 6 0 277.2 0 -315.6 -6 306.8 0 -309.8 -5.9 23.7 0 5.9 0 253.7 0 5.9 0 5.8 0 17.8 0 -327.5 -5.9 5.9 0 5.9 0 5.9 0 11.8 0 23.6 0 5.9 0 230.1 0 11.8 0 35.4 0 -339.2 -5.9 29.5 0 35.3 0 253.8 0 -309.8 -5.9 23.6 0 35.4 0 212.4 0 41.3 0 29.5 0 -362.8 -6 41.3 0 5.9 0 29.4 0 6 0 218.2 0 6 0 53 0 -303.8 -5.9 29.5 0 11.8 0 194.7 0 5.9 0 -280.2 -5.9 11.7 0 47.2 0 6 0 11.8 0 230 0 23.6 0 -292 -5.9 47.2 0 200.6 0 17.7 0 -256.7 -5.9 17.8 0 23.6 0 182.8 0 -292 -6 35.4 0 23.6 0 11.8 0 35.4 0 5.9 0 17.7 0 153.4 0 17.7 0 23.6 0 -274.3 -5.9 5.9 0 23.5 0 11.8 0 17.8 0 47.2 0 106.2 0 11.8 0 11.8 0 23.6 0 5.9 0 5.9 0 -268.5 -5.9 35.4 0 76.7 0 94.4 0 5.9 0 11.8 0 5.9 0 17.7 0 11.8 0 -256.6 -5.9 53.1 0 141.6 0 5.8 0 53.2 0 5.9 0 -339.3 -5.9 118 0 5.9 0 5.9 0 11.8 0 5.9 0 47.2 0 41.3 0 23.6 0 11.8 0 23.6 0 41.3 0 -233.1 -6 70.8 0 35.4 0 47.2 0 23.6 0 6 0 29.4 0 6 0 -227.2 -5.9 17.7 0 82.6 0 23.6 0 23.6 0 35.4 0 11.8 0 -191.7 -5.9 59 0 5.8 0 35.4 0 47.2 0 11.8 0 29.6 0 35.4 0 -191.8 -5.9 23.6 0 47.2 0 11.8 0 5.9 0 5.9 0 118 0 -203.5 -5.9 70.7 0 53.2 0 17.6 0 11.8 0 35.4 0 53.2 0 -174.1 -6 64.9 0 5.9 0 47.2 0 23.6 0 5.9 0 5.9 0 5.9 0 -97.4 -5.9 29.6 0 -103.3 -5.9 23.6 0 17.7 0 5.9 0 70.8 0 -197.7 -5.9 135.8 0 47.2 0 14.7 -5.9 -191.7 -6 153.4 0 64.9 0 -91.5 -5.9 59 0 5.9 0 59 0 23.6 0 -91.5 -5.9 29.6 0 76.6 0 -97.3 -5.9 59 0 64.9 -23.7 -41.3 -23.7 11.8 0 44.3 -5.9 17.6 0 -32.4 -5.9 17.7 0 -14.7 -5.9 20.6 -6 -26.6 -5.9 6 0 5.8 0 11.9 0 -29.5 -11.8 76.6 0 -56 -5.9 14.8 -6 23.6 0 -20.7 -5.9 -20.7 -5.9 29.6 -11.8" fill="none" stroke="none" marker-start="url(#h69)" marker-mid="url(#h69)" marker-end="url(#h69)"/>
<path d="M170.7 1613.9l62 -17.7 14.7 -41.5 38.4 -17.7 41.2 -11.9 8.9 -17.7 -44.2 -5.9 23.5 0 76.8 0 -109.2 -6 29.5 0 17.7 0 59 0 5.9 0 -115.1 -5.9 11.9 0 11.8 0 59 0 23.5 0 -91.4 -5.9 5.9 0 17.7 0 53.1 0 88.5 0 5.9 0 23.6 0 -179.9 -5.9 64.8 0 65 0 -138.7 -5.9 5.9 0 5.9 0 5.9 0 59 0 41.3 0 5.9 0 17.7 0 17.7 0 5.9 0 -191.7 -6 47.2 0 5.8 0 35.5 0 53.1 0 23.6 0 17.6 0 17.8 0 -197.7 -5.9 41.3 0 41.3 0 29.5 0 5.9 0 53.1 0 5.9 0 11.8 0 5.9 0 47.2 0 -268.4 -5.9 35.4 0 23.6 0 5.8 0 41.4 0 17.6 0 17.8 0 35.4 0 29.4 0 6 0 5.8 0 11.8 0 6 0 35.4 0 -244.9 -5.9 17.7 0 5.9 0 17.7 0 35.4 0 5.9 0 5.9 0 17.7 0 5.9 0 29.5 0 5.9 0 35.4 0 35.4 0 11.8 0 106.2 0 -327.4 -5.9 5.9 0 5.9 0 11.8 0 29.4 0 6 0 17.7 0 23.5 0 6 0 5.8 0 6 0 11.8 0 11.8 0 17.6 0 17.8 0 5.8 0 47.2 0 53.2 0 -292.1 -6 53.1 0 29.5 0 5.9 0 17.7 0 5.9 0 11.8 0 35.4 0 41.3 0 17.7 0 41.3 0 88.5 0 -380.6 -5.9 17.8 0 82.6 0 5.9 0 11.8 0 5.9 0 5.8 0 135.8 0 23.6 0 -244.9 -5.9 11.8 0 11.8 0 11.8 0 17.7 0 53.1 0 106.2 0 5.9 0 29.5 0 5.9 0 11.8 0 17.7 0 -315.7 -5.9 6 0 5.9 0 23.6 0 11.8 0 5.9 0 29.4 0 11.9 0 5.9 0 35.4 0 5.8 0 141.6 0 11.8 0 6 0 -239 -5.9 35.4 0 11.8 0 29.5 0 141.6 0 41.3 0 17.7 0 -351.1 -6 41.4 0 11.8 0 11.8 0 29.4 0 6 0 200.6 0 5.8 0 53.2 0 23.6 0 -380.6 -5.9 100.3 0 5.9 0 177 0 5.9 0 5.9 0 23.6 0 5.9 0 -315.7 -5.9 17.8 0 53 0 224.2 0 53.2 0 11.8 0 23.6 0 11.8 0 -398.3 -5.9 5.9 0 17.7 0 11.8 0 277.3 0 76.7 0 -386.5 -5.9 47.3 0 17.7 0 236 0 5.9 0 17.7 0 5.9 0 -327.5 -6 11.8 0 11.8 0 17.7 0 5.9 0 11.8 0 35.4 0 230.1 0 35.4 0 -333.3 -5.9 59 0 271.4 0 5.8 0 -333.3 -5.9 11.8 0 277.3 0 23.6 0 41.3 0 -362.9 -5.9 41.4 0 224.2 0 29.4 0 11.9 0 -339.3 -5.9 41.3 0 277.3 0 5.9 0 5.9 0 59 0 -357 -6 6 0 283.2 0 17.7 0 5.9 0 -351.1 -5.9 23.6 0 11.8 0 47.2 0 230.1 0 29.5 0 5.9 0 5.9 0 -321.5 -5.9 11.8 0 11.8 0 289.1 0 5.9 0 5.8 0 -333.3 -5.9 23.6 0 11.8 0 259.6 0 17.7 0 11.8 0 17.7 0 23.6 0 -380.5 -5.9 23.6 0 5.8 0 6 0 5.9 0 283.1 0 11.9 0 5.9 0 -339.3 -6 5.9 0 23.6 0 29.5 0 241.9 0 17.7 0 11.8 0 17.7 0 -327.4 -5.9 312.7 0 29.5 0 5.8 0 6 0 -362.9 -5.9 11.8 0 29.5 0 5.9 0 265.5 0 5.9 0 29.5 0 -333.4 -5.9 11.9 0 5.9 0 265.5 0 17.7 0 29.4 0 -380.5 -5.9 17.7 0 5.9 0 17.7 0 17.7 0 23.6 0 253.7 0 41.3 0 -362.9 -6 41.4 0 11.8 0 259.6 0 11.8 0 -321.6 -5.9 11.8 0 11.8 0 29.5 0 5.9 0 5.9 0 265.5 0 17.7 0 -362.8 -5.9 23.5 0 53.2 0 259.6 0 29.4 0 -315.6 -5.9 41.3 0 265.5 0 11.8 0 11.8 0 -392.4 -5.9 11.9 0 11.7 0 6 0 5.8 0 41.4 0 11.8 0 230 0 76.8 0 -374.7 -6 47.2 0 17.7 0 17.7 0 236 0 47.2 0 -374.6 -5.9 29.5 0 23.6 0 5.9 0 29.5 0 265.5 0 23.5 0 -351 -5.9 70.8 0 265.5 0 -386.5 -5.9 88.6 0 5.9 0 5.9 0 259.6 0 23.6 0 -345.2 -5.9 11.8 0 17.7 0 5.9 0 35.4 0 236 0 5.9 0 29.5 0 -380.6 -6 65 0 5.8 0 283.3 0 -286.2 -5.9 11.8 0 5.9 0 23.6 0 5.9 0 253.7 0 -303.8 -5.9 29.5 0 11.7 0 6 0 212.4 0 11.8 0 5.8 0 29.6 0 5.9 0 -386.5 -5.9 41.3 0 23.6 0 5.9 0 5.9 0 11.8 0 5.9 0 35.4 0 212.4 0 5.9 0 17.7 0 -327.4 -5.9 29.5 0 17.7 0 11.8 0 11.8 0 41.3 0 194.7 0 17.7 0 41.3 0 -339.3 -6 29.5 0 29.5 0 200.6 0 35.4 0 35.4 0 -351.1 -5.9 41.4 0 5.9 0 188.7 0 65 0 29.4 0 11.9 0 35.3 0 -345.1 -5.9 17.7 0 53.1 0 47.2 0 123.9 0 -286.1 -5.9 11.7 0 11.8 0 17.8 0 53 0 23.7 0 11.8 0 182.9 0 35.4 0 11.8 0 5.8 0 -380.5 -5.9 100.3 0 76.7 0 5.9 0 100.3 0 5.9 0 5.9 0 17.7 0 70.8 0 5.9 0 17.7 0 -386.4 -6 11.8 0 59 0 41.3 0 53.1 0 82.6 0 35.4 0 47.2 0 5.8 0 -303.8 -5.9 11.8 0 11.8 0 47.2 0 17.7 0 11.8 0 159.3 0 5.9 0 5.9 0 5.9 0 59 0 -421.8 -5.9 41.3 0 64.9 0 5.9 0 41.2 0 6 0 5.9 0 11.8 0 94.3 0 6 0 23.6 0 5.8 0 6 0 23.6 0 35.4 0 29.5 0 -351.1 -5.9 35.4 0 76.7 0 64.9 0 82.6 0 11.8 0 5.9 0 17.7 0 5.9 0 11.8 0 29.5 0 11.8 0 11.8 0 5.9 0 5.9 0 -368.8 -5.9 6 0 70.8 0 82.6 0 35.4 0 5.8 0 11.8 0 11.8 0 11.8 0 17.8 0 11.8 0 11.8 0 41.3 0 5.9 0 5.8 0 -262.5 -6 17.7 0 35.4 0 23.6 0 5.9 0 23.6 0 23.6 0 17.7 0 53.1 0 11.8 0 5.9 0 23.6 0 41.3 0 17.7 0 -345.1 -5.9 53.1 0 5.8 0 17.8 0 53 0 29.6 0 5.8 0 17.8 0 11.8 0 17.6 0 6 0 17.6 0 11.8 0 23.6 0 6 0 23.6 0 11.8 0 17.6 0 17.8 0 -239 -5.9 76.7 0 94.4 0 5.9 0 5.9 0 23.6 0 17.7 0 -244.8 -5.9 23.6 0 29.4 0 88.6 0 5.8 0 70.8 0 41.4 0 -321.6 -5.9 17.7 0 123.9 0 5.9 0 11.8 0 41.3 0 17.7 0 5.9 0 41.3 0 35.4 0 5.9 0 11.8 0 5.9 0 -250.7 -6 35.4 0 112 0 6 0 47.2 0 11.8 0 41.2 0 -227.1 -5.9 47.2 0 64.9 0 35.4 0 23.6 0 5.9 0 29.5 0 35.4 0 -227.2 -5.9 65 0 47.2 0 53 0 11.9 0 17.7 0 -97.4 -5.9 76.7 0 5.9 0 17.7 0 23.6 0 41.3 0 -162.2 -5.9 23.6 0 11.8 0 29.4 0 35.4 0 6 0 29.5 0 5.9 0 41.2 0 -179.9 -6 11.8 0 70.8 0 35.4 0 23.6 0 5.9 0 -132.8 -5.9 82.6 0 23.6 0 11.9 0 -126.9 -5.9 5.9 0 59 0 106.2 0 -73.7 -5.9 23.6 0 17.6 0 -91.4 -5.9 5.9 0 17.7 0 79.6 -6 -91.4 -5.9 5.9 0 5.9 0 53.1 0 5.9 0 35.4 0 -14.8 -5.9 -79.6 -5.9 23.6 0 70.8 0 11.8 0 5.9 0 -56 -5.9 5.9 0 23.6 0 5.9 0 -3 -6 11.8 0 -38.3 -5.9 23.6 0 -14.8 -5.9 8.8 -5.9 29.6 0 11.8 0 -41.4 -11.9 23.6 0 6 0 23.6 0 -59 -11.8 53 0 11.8 0 6 0 -3 -5.9 -38.4 -5.9 23.6 0 6 0 -14.8 -6" fill="none" stroke="none" marker-start="url(#h70)" marker-mid="url(#h70)" marker-end="url(#h70)"/>
<path d="M191.4 1643.5l8.8 -5.9 14.8 -5.9 35.4 0 -44.3 -5.9 -8.9 -5.9 126.9 -6 -144.5 -5.9 17.6 0 17.8 -11.8 11.8 0 -73.8 -5.9 29.5 0 11.8 0 5.9 0 23.6 0 23.6 0 -97.4 -6 65 0 -38.4 -5.9 20.6 -5.9 6 0 5.8 0 26.6 -5.9 135.7 0 -129.8 -11.9 47.2 0 59 0 -174 -5.9 41.3 0 17.7 0 17.7 0 64.8 0 -85.5 -5.9 47.2 0 -79.7 -5.9 112.2 0 8.8 -5.9 5.9 0 17.7 0 11.8 0 -109.2 -6 23.7 0 23.6 0 17.7 0 5.8 0 6 0 23.6 0 47.2 0 -180 -5.9 11.8 0 88.5 0 5.9 0 5.9 0 100.3 0 -180 -5.9 6 0 5.8 0 11.9 0 29.5 0 35.4 0 5.8 0 11.9 0 5.9 0 11.8 0 41.2 0 11.8 0 65 0 -262.6 -5.9 11.8 0 41.3 0 17.7 0 11.8 0 5.9 0 41.3 0 11.8 0 17.7 0 17.7 0 5.9 0 5.9 0 35.4 0 -274.3 -5.9 64.9 0 47.2 0 59 0 5.9 0 11.8 0 5.9 0 17.6 0 35.4 0 35.4 0 17.8 0 82.6 0 -280.3 -6 11.8 0 5.9 0 11.8 0 17.7 0 17.7 0 5.9 0 70.8 0 11.8 0 70.8 0 47.2 0 -321.5 -5.9 5.9 0 5.9 0 11.8 0 23.6 0 23.6 0 11.8 0 5.8 0 6 0 5.8 0 11.8 0 11.9 0 5.9 0 17.6 0 65 0 17.6 0 23.6 0 -215.3 -5.9 23.6 0 53.1 0 5.9 0 5.9 0 53.1 0 5.9 0 29.5 0 70.8 0 -297.9 -5.9 82.6 0 5.9 0 11.7 0 11.8 0 11.8 0 6 0 17.7 0 5.9 0 17.6 0 23.6 0 17.8 0 5.8 0 11.8 0 11.8 0 6 0 11.8 0 5.8 0 6 0 29.4 0 -292 -5.9 5.9 0 11.8 0 17.7 0 11.8 0 5.9 0 64.9 0 5.9 0 5.9 0 5.9 0 11.8 0 11.8 0 5.9 0 11.8 0 5.9 0 29.5 0 11.8 0 23.6 0 5.9 0 29.5 0 11.8 0 11.8 0 5.9 0 23.6 0 23.6 0 -327.5 -6 11.9 0 17.7 0 11.8 0 47.2 0 11.8 0 11.8 0 17.6 0 6 0 5.8 0 11.8 0 35.4 0 23.6 0 17.8 0 11.8 0 17.6 0 6 0 5.8 0 11.8 0 6 0 53 0 -392.3 -5.9 29.5 0 23.6 0 11.8 0 11.8 0 11.8 0 29.5 0 5.9 0 11.8 0 5.9 0 5.9 0 17.7 0 5.9 0 5.9 0 17.7 0 23.6 0 11.8 0 5.9 0 35.4 0 5.9 0 41.3 0 23.6 0 -286.1 -5.9 5.9 0 5.9 0 17.7 0 5.9 0 5.9 0 23.5 0 53.2 0 23.6 0 29.4 0 6 0 35.4 0 23.6 0 5.8 0 11.8 0 11.8 0 11.8 0 11.8 0 53.2 0 5.8 0 -415.9 -5.9 23.6 0 5.9 0 11.8 0 11.8 0 59 0 23.6 0 11.8 0 29.5 0 29.5 0 5.9 0 64.9 0 5.9 0 5.9 0 35.4 0 11.8 0 5.9 0 35.4 0 106.2 0 -463.1 -5.9 23.6 0 17.6 0 6 0 11.8 0 29.5 0 29.5 0 23.6 0 11.8 0 11.8 0 94.4 0 23.6 0 35.4 0 29.5 0 11.7 0 6 0 41.2 0 6 0 -368.8 -6 11.8 0 11.8 0 5.9 0 5.9 0 5.9 0 11.8 0 5.9 0 23.6 0 5.9 0 23.6 0 41.3 0 35.4 0 5.9 0 5.9 0 47.2 0 5.9 0 5.9 0 5.9 0 23.6 0 5.9 0 5.9 0 11.8 0 23.6 0 11.8 0 5.9 0 5.9 0 23.6 0 -421.9 -5.9 35.4 0 17.8 0 5.8 0 11.9 0 5.9 0 5.9 0 5.9 0 11.8 0 11.8 0 5.8 0 59 0 11.8 0 94.4 0 17.8 0 23.6 0 23.6 0 11.8 0 11.8 0 -368.8 -5.9 11.8 0 5.9 0 5.9 0 5.9 0 5.9 0 5.9 0 41.3 0 23.6 0 23.6 0 11.8 0 5.9 0 147.5 0 5.9 0 23.6 0 29.5 0 17.7 0 11.8 0 5.9 0 5.9 0 11.8 0 5.9 0 23.6 0 -445.4 -5.9 11.8 0 47.2 0 5.8 0 17.8 0 70.8 0 5.8 0 124 0 64.9 0 11.7 0 23.6 0 11.8 0 11.8 0 23.7 0 29.5 0 -522.2 -5.9 100.3 0 5.9 0 17.7 0 5.9 0 5.9 0 5.9 0 17.7 0 17.7 0 5.9 0 5.9 0 5.9 0 218.3 0 53.1 0 11.8 0 5.9 0 5.9 0 35.4 0 -421.9 -6 17.8 0 29.5 0 29.5 0 35.4 0 165.2 0 35.4 0 5.8 0 35.4 0 41.4 0 -392.4 -5.9 11.8 0 17.7 0 5.9 0 5.9 0 17.7 0 17.7 0 23.6 0 5.9 0 194.7 0 17.7 0 5.9 0 5.9 0 5.9 0 41.3 0 -374.6 -5.9 23.6 0 5.9 0 5.9 0 35.4 0 5.8 0 6 0 194.6 0 47.3 0 5.9 0 29.4 0 11.8 0 47.3 0 -433.7 -5.9 17.7 0 5.9 0 23.6 0 241.9 0 17.7 0 23.6 0 5.9 0 5.9 0 5.9 0 23.6 0 -398.3 -5.9 17.8 0 23.6 0 11.8 0 5.8 0 29.6 0 5.8 0 253.8 0 5.8 0 23.6 0 6 0 41.3 0 -439.6 -6 5.9 0 23.6 0 5.9 0 5.9 0 5.9 0 11.8 0 11.8 0 17.7 0 35.4 0 224.2 0 17.7 0 5.9 0 64.9 0 5.9 0 -410 -5.9 17.6 0 23.6 0 11.9 0 35.3 0 236.1 0 5.9 0 11.8 0 5.9 0 5.9 0 5.8 0 6 0 5.8 0 65 0 -480.9 -5.9 35.4 0 11.8 0 17.7 0 5.9 0 5.9 0 47.2 0 241.9 0 5.9 0 23.6 0 5.9 0 17.7 0 5.9 0 29.5 0 -421.8 -5.9 17.6 0 17.8 0 11.8 0 11.8 0 17.7 0 5.9 0 253.7 0 17.7 0 11.8 0 5.8 0 6 0 23.6 0 5.8 0 11.9 0 11.7 0 11.8 0 6 0 -439.6 -5.9 23.6 0 5.9 0 5.9 0 5.9 0 53.1 0 253.7 0 5.9 0 5.9 0 5.9 0 23.6 0 5.9 0 11.8 0 5.9 0 -433.6 -6 29.4 0 6 0 11.8 0 5.9 0 23.6 0 5.9 0 5.9 0 11.7 0 242 0 23.6 0 23.6 0 5.8 0 6 0 17.6 0 6 0 17.6 0 -433.6 -5.9 35.4 0 11.8 0 17.7 0 5.9 0 11.8 0 5.9 0 17.7 0 283.2 0 5.9 0 5.9 0 5.9 0 11.8 0 23.6 0 -480.8 -5.9 29.5 0 5.8 0 17.8 0 11.8 0 5.8 0 6 0 306.8 0 5.8 0 6 0 23.6 0 17.6 0 -439.5 -5.9 41.3 0 11.8 0 11.8 0 23.6 0 5.9 0 5.9 0 11.8 0 23.6 0 253.7 0 11.8 0 29.5 0 5.9 0 5.9 0 11.8 0 11.8 0 -427.8 -5.9 6 0 11.8 0 377.6 0 11.8 0 5.8 0 6 0 29.4 0 -421.8 -6 23.6 0 17.7 0 11.8 0 277.3 0 35.4 0 5.9 0 11.8 0 5.9 0 -416 -5.9 11.9 0 11.7 0 6 0 5.8 0 23.6 0 6 0 5.9 0 271.4 0 35.3 0 11.8 0 -392.3 -5.9 17.7 0 11.8 0 11.8 0 11.8 0 29.5 0 271.4 0 17.7 0 11.8 0 5.9 0 29.5 0 5.9 0 5.9 0 -427.8 -5.9 17.8 0 5.8 0 17.8 0 11.8 0 324.4 0 23.6 0 6 0 11.8 0 11.8 0 -392.4 -5.9 5.9 0 11.8 0 17.7 0 5.9 0 5.9 0 253.7 0 23.6 0 5.9 0 5.9 0 5.9 0 11.8 0 29.5 0 35.4 0 -516.2 -6 41.3 0 17.6 0 17.8 0 342.2 0 5.9 0 11.7 0 17.8 0 5.8 0 11.8 0 11.9 0 5.9 0 -427.8 -5.9 5.9 0 11.8 0 11.8 0 29.5 0 5.9 0 29.5 0 265.5 0 23.6 0 5.9 0 5.9 0 53.1 0 -469 -5.9 41.2 0 6 0 35.4 0 5.9 0 23.5 0 17.8 0 247.8 0 5.9 0 5.9 0 53.1 0 -421.9 -5.9 5.9 0 23.6 0 17.7 0 5.9 0 17.7 0 283.2 0 41.3 0 5.9 0 11.8 0 17.7 0 -463.1 -5.9 17.6 0 29.6 0 29.5 0 17.7 0 47.2 0 241.8 0 35.4 0 23.6 0 -433.6 -6 17.7 0 11.8 0 82.6 0 236 0 35.4 0 17.7 0 23.6 0 -386.4 -5.9 5.8 0 6 0 17.7 0 29.5 0 17.6 0 11.8 0 253.8 0 17.6 0 6 0 23.6 0 5.8 0 -421.8 -5.9 11.8 0 17.7 0 94.4 0 271.4 0 11.8 0 23.6 0 -404.1 -5.9 5.8 0 11.8 0 29.6 0 29.4 0 271.5 0 23.5 0 11.8 0 -445.4 -5.9 29.5 0 5.9 0 29.5 0 23.6 0 35.4 0 11.8 0 259.6 0 23.6 0 23.6 0 5.9 0 29.5 0 -439.5 -6 23.6 0 5.8 0 17.8 0 41.3 0 11.7 0 6 0 265.5 0 -357 -5.9 5.9 0 11.8 0 17.7 0 5.9 0 29.5 0 11.8 0 17.7 0 236 0 5.9 0 11.8 0 17.7 0 5.9 0 11.8 0 17.7 0 -433.6 -5.9 23.6 0 5.9 0 5.9 0 5.8 0 6 0 5.8 0 6 0 29.5 0 5.9 0 11.8 0 247.8 0 5.9 0 5.9 0 59 0 11.8 0 -433.7 -5.9 47.2 0 5.9 0 64.9 0 11.8 0 224.2 0 17.7 0 5.9 0 5.9 0 17.7 0 5.9 0 11.8 0 -421.8 -5.9 11.8 0 17.7 0 17.7 0 29.4 0 11.9 0 35.3 0 247.8 0 6 0 11.8 0 5.8 0 17.8 0 11.8 0 59 0 -510.4 -6 11.8 0 35.4 0 5.9 0 11.8 0 35.4 0 11.8 0 11.8 0 29.5 0 17.7 0 194.7 0 11.8 0 11.8 0 11.8 0 5.9 0 35.4 0 5.9 0 23.6 0 -445.4 -5.9 23.6 0 29.4 0 6 0 5.9 0 41.3 0 11.8 0 23.6 0 206.4 0 47.2 0 6 0 -404.2 -5.9 11.8 0 11.8 0 23.6 0 5.9 0 35.4 0 17.7 0 17.7 0 5.9 0 11.8 0 17.7 0 177 0 17.7 0 23.6 0 11.8 0 11.8 0 5.9 0 23.6 0 -433.7 -5.9 29.6 0 11.8 0 23.6 0 17.6 0 6 0 5.9 0 41.3 0 177 0 41.2 0 17.8 0 5.8 0 29.6 0 29.4 0 -404.1 -5.9 5.9 0 17.7 0 5.9 0 17.7 0 5.9 0 5.9 0 11.8 0 11.8 0 11.8 0 35.4 0 182.9 0 11.8 0 11.8 0 5.9 0 17.7 0 5.9 0 -398.3 -6 76.8 0 23.6 0 17.6 0 6 0 11.8 0 5.8 0 6 0 11.8 0 17.6 0 82.6 0 17.8 0 23.6 0 35.4 0 17.6 0 6 0 29.5 0 5.9 0 5.8 0 6 0 5.8 0 11.8 0 6 0 23.6 0 -451.4 -5.9 35.4 0 11.8 0 29.5 0 29.5 0 23.6 0 23.6 0 11.8 0 23.6 0 5.9 0 5.9 0 82.6 0 23.6 0 11.8 0 53.1 0 29.5 0 11.8 0 35.4 0 -410 -5.9 5.8 0 41.4 0 17.7 0 23.5 0 6 0 35.4 0 5.8 0 17.8 0 41.2 0 82.6 0 23.6 0 11.8 0 17.8 0 5.8 0 29.6 0 5.8 0 29.6 0 -433.7 -5.9 35.4 0 11.8 0 23.6 0 5.9 0 5.9 0 11.8 0 17.7 0 11.8 0 53.1 0 5.9 0 5.9 0 11.8 0 47.2 0 47.2 0 17.7 0 5.9 0 47.2 0 11.8 0 11.8 0 -368.7 -5.9 29.4 0 6 0 5.9 0 11.7 0 11.9 0 11.8 0 5.9 0 5.8 0 11.8 0 23.7 0 5.9 0 59 0 5.8 0 6 0 35.4 0 70.8 0 11.8 0 35.4 0 5.9 0 5.9 0 23.6 0 5.8 0 6 0 -398.3 -6 11.8 0 29.5 0 5.9 0 5.9 0 35.4 0 29.5 0 5.9 0 29.5 0 17.7 0 5.9 0 29.5 0 11.8 0 23.6 0 5.9 0 11.8 0 17.7 0 11.8 0 82.6 0 -339.2 -5.9 11.8 0 17.7 0 5.9 0 11.8 0 5.8 0 17.8 0 5.8 0 11.9 0 5.9 0 5.9 0 17.7 0 5.8 0 17.8 0 17.6 0 17.8 0 17.6 0 41.4 0 11.8 0 17.6 0 6 0 17.6 0 41.4 0 29.4 0 6 0 5.8 0 6 0 -398.3 -5.9 23.6 0 47.2 0 5.9 0 11.8 0 23.6 0 5.9 0 29.5 0 11.8 0 29.5 0 5.9 0 11.8 0 41.3 0 5.9 0 5.9 0 11.8 0 5.9 0 47.2 0 11.8 0 11.8 0 5.9 0 11.8 0 5.9 0 11.8 0 -327.4 -5.9 64.9 0 41.3 0 11.8 0 29.4 0 11.8 0 6 0 5.8 0 41.4 0 17.6 0 17.8 0 5.8 0 6 0 11.8 0 11.8 0 11.8 0 17.6 0 11.8 0 6 0 -368.8 -5.9 11.8 0 64.9 0 11.8 0 17.7 0 53.1 0 29.5 0 17.7 0 11.8 0 5.9 0 23.6 0 17.7 0 5.9 0 17.7 0 5.9 0 11.8 0 59 0 -339.2 -6 11.8 0 11.8 0 17.6 0 11.8 0 17.8 0 5.9 0 17.7 0 29.4 0 17.8 0 5.8 0 6 0 17.6 0 6 0 23.6 0 5.8 0 11.8 0 29.6 0 5.8 0 17.8 0 17.6 0 11.9 0 11.7 0 11.8 0 6 0 -250.8 -5.9 5.9 0 41.3 0 23.6 0 29.5 0 17.7 0 11.8 0 5.9 0 23.6 0 35.4 0 17.7 0 29.5 0 17.7 0 23.6 0 -321.6 -5.9 6 0 47.2 0 11.8 0 23.6 0 41.2 0 6 0 5.8 0 11.8 0 29.6 0 5.8 0 47.3 0 5.9 0 41.2 0 11.8 0 17.8 0 5.9 0 5.9 0 11.8 0 -327.5 -5.9 123.9 0 59 0 11.8 0 11.8 0 5.9 0 11.8 0 5.9 0 53.1 0 17.7 0 41.3 0 -321.5 -5.9 106.2 0 11.8 0 11.8 0 5.8 0 47.2 0 11.8 0 35.5 0 5.9 0 5.8 0 6 0 23.6 0 5.8 0 35.4 0 -209.4 -6 5.9 0 5.9 0 11.8 0 11.8 0 41.3 0 17.7 0 11.8 0 17.7 0 23.6 0 5.9 0 5.9 0 5.9 0 11.8 0 29.5 0 5.9 0 -280.2 -5.9 41.2 0 17.8 0 23.6 0 47.2 0 23.6 0 17.7 0 23.6 0 5.9 0 29.4 0 6 0 53.1 0 -203.6 -5.9 88.5 0 23.6 0 23.6 0 5.9 0 11.8 0 11.8 0 5.9 0 5.9 0 29.5 0 -250.8 -5.9 11.8 0 23.6 0 29.6 0 11.8 0 17.6 0 53.2 0 5.9 0 17.7 0 17.6 0 6 0 17.7 0 5.9 0 11.8 0 5.8 0 11.9 0 5.9 0 -162.3 -5.9 11.8 0 17.7 0 53.1 0 5.9 0 11.8 0 5.9 0 17.7 0 35.4 0 -138.6 -6 82.6 0 5.8 0 6 0 11.8 0 29.5 0 -67.9 -5.9 41.3 0 11.8 0 5.9 0 23.6 0 5.9 0 -256.7 -5.9 165.2 0 23.6 0 17.8 0 11.8 0 23.6 0 23.6 0 -91.5 -5.9 23.6 0 11.8 0 11.8 0 38.4 -5.9 -97.4 -6 5.9 0 11.8 0 11.8 0 11.8 0 5.9 0 5.9 0 35.4 0 29.5 0 11.8 0 -103.3 -5.9 11.9 0 41.3 0 5.8 0 23.6 0 6 0 5.8 0 -109.1 -5.9 64.9 0 5.9 0 5.9 0 5.9 0 17.7 0 5.9 0 11.8 0 -79.7 -5.9 6 0 11.8 0 11.8 0 17.7 0 17.7 0 11.8 0 -73.8 -5.9 5.9 0 11.8 0 17.7 0 11.8 0 17.7 0 11.8 0 -138.7 -6 76.8 0 29.5 0 11.7 0 17.8 0 -79.7 -5.9 5.9 0 11.8 0 5.9 0 23.6 0 5.9 0 5.9 0 5.9 0 17.7 0 -56 -5.9 17.7 0 5.9 0 -14.8 -5.9 29.5 0 5.9 0 -56.1 -5.9 11.9 0 5.9 0 17.7 0 -8.9 -6 23.6 0" fill="none" stroke="none" marker-start="url(#h71)" marker-mid="url(#h71)" marker-end="url(#h71)"/>
<g stroke="#bbb" stroke-width="3.6" fill="none"><path stroke-dasharray="13.7 13.9" stroke-dashoffset="5" d="M346 927.4V1682.6M540 927.4V1682.6"/><path stroke-dasharray="13.7 13.9" d="M118.6 1193.9H769M118.6 1419H769"/></g>
<path d="M118.6 927.4V1682.6H769.2" fill="none" stroke="#333" stroke-width="1.3"/>
<line x1="107.4" y1="964.3" x2="118.6" y2="964.3" stroke="#555" stroke-width="1.3" />
<text x="94.5" y="972.3" font-size="22" text-anchor="end">1.0</text>
<line x1="107.4" y1="1135.2" x2="118.6" y2="1135.2" stroke="#555" stroke-width="1.3" />
<text x="94.5" y="1143.2" font-size="22" text-anchor="end">0.5</text>
<line x1="107.4" y1="1306.1" x2="118.6" y2="1306.1" stroke="#555" stroke-width="1.3" />
<text x="94.5" y="1314.1" font-size="22" text-anchor="end">0</text>
<line x1="107.4" y1="1477" x2="118.6" y2="1477" stroke="#555" stroke-width="1.3" />
<text x="94.5" y="1485" font-size="22" text-anchor="end">−0.5</text>
<line x1="107.4" y1="1647.9" x2="118.6" y2="1647.9" stroke="#555" stroke-width="1.3" />
<text x="94.5" y="1655.9" font-size="22" text-anchor="end">−1.0</text>
<line x1="147.1" y1="1682.6" x2="147.1" y2="1694.3" stroke="#555" stroke-width="1.3" />
<text x="147.1" y="1725" font-size="22" text-anchor="middle">−1.0</text>
<line x1="294.6" y1="1682.6" x2="294.6" y2="1694.3" stroke="#555" stroke-width="1.3" />
<text x="294.6" y="1725" font-size="22" text-anchor="middle">−0.5</text>
<line x1="442.1" y1="1682.6" x2="442.1" y2="1694.3" stroke="#555" stroke-width="1.3" />
<text x="442.1" y="1725" font-size="22" text-anchor="middle">0</text>
<line x1="589.6" y1="1682.6" x2="589.6" y2="1694.3" stroke="#555" stroke-width="1.3" />
<text x="589.6" y="1725" font-size="22" text-anchor="middle">0.5</text>
<line x1="737.1" y1="1682.6" x2="737.1" y2="1694.3" stroke="#555" stroke-width="1.3" />
<text x="737.1" y="1725" font-size="22" text-anchor="middle">1.0</text>
<text x="444.8" y="1762" font-size="24.5" text-anchor="middle"><tspan font-style="italic">r</tspan> COVID-19</text>
<text x="0" y="0" font-size="24.5" text-anchor="middle" transform="translate(21 1305) rotate(-90)"><tspan font-style="italic">r</tspan> control</text>
<rect x="392.2" y="1144.4" width="6" height="7" fill="#000"/>
<rect x="322.6" y="1224.3" width="6" height="7" fill="#000"/>
<rect x="618.9" y="1332.5" width="6" height="7" fill="#000"/>
<text x="203.5" y="1130.9" font-size="25">CD4<tspan font-size="16" dy="7">EM</tspan><tspan dy="-7"> T cells ml</tspan><tspan font-size="16" dy="-10">−1</tspan><tspan dy="10"> – PD-1</tspan><tspan font-size="16" dy="-10">+</tspan><tspan dy="10">Vδ1</tspan><tspan font-size="16" dy="-10">+</tspan><tspan dy="10"> T cells (%)</tspan></text>
<text x="139.1" y="1258.7" font-size="25">CXCR3<tspan font-size="16" dy="-10">+</tspan><tspan dy="10">CCR6</tspan><tspan font-size="16" dy="-10">−</tspan><tspan dy="10">CD4</tspan><tspan font-size="16" dy="-10">−</tspan><tspan dy="10">CD45RA</tspan><tspan font-size="16" dy="-10">−</tspan><tspan dy="10"> T cells (%) – IP-10</tspan></text>
<text x="401.9" y="1378.7" font-size="25">Basophils (%) – CD4<tspan font-size="16" dy="-10">+</tspan><tspan dy="10"> T cells (%)</tspan></text>
<defs><linearGradient id="cb" x1="0" y1="1" x2="0" y2="0">
<stop offset="0.009" stop-color="#f0e22e"/>
<stop offset="0.072" stop-color="#d8dc32"/>
<stop offset="0.141" stop-color="#b0d840"/>
<stop offset="0.209" stop-color="#8ad45a"/>
<stop offset="0.278" stop-color="#6cd07a"/>
<stop offset="0.346" stop-color="#55cc90"/>
<stop offset="0.415" stop-color="#42bd92"/>
<stop offset="0.484" stop-color="#36a090"/>
<stop offset="0.586" stop-color="#36808c"/>
<stop offset="0.688" stop-color="#3a6290"/>
<stop offset="0.792" stop-color="#444e8e"/>
<stop offset="0.894" stop-color="#4b2d8a"/>
<stop offset="0.998" stop-color="#48206b"/>
</linearGradient></defs>
<rect x="782.6" y="1247.7" width="28.4" height="140.7" fill="url(#cb)"/>
<path d="M782.6 1278.3h5M806 1278.3h5" stroke="#fff" stroke-width="1"/>
<path d="M782.6 1333.5h5M806 1333.5h5" stroke="#fff" stroke-width="1"/>
<path d="M782.6 1361h5M806 1361h5" stroke="#fff" stroke-width="1"/>
<path d="M782.6 1374.8h5M806 1374.8h5" stroke="#fff" stroke-width="1"/>
<path d="M782.6 1387.2h5M806 1387.2h5" stroke="#fff" stroke-width="1"/>
<text x="762.4" y="1237.1" font-size="24.5">Count</text>
<text x="823.8" y="1286.2" font-size="23">80</text>
<text x="823.8" y="1338.7" font-size="23">40</text>
<text x="823.8" y="1359" font-size="23">20</text>
<text x="823.8" y="1379.2" font-size="23">10</text>
<text x="823.8" y="1399" font-size="23">1</text>
<text x="894.5" y="926.8" font-size="32" font-weight="bold">d</text>
<rect x="1027.7" y="927.5" width="227.3" height="28.7" fill="#fff" stroke="#666" stroke-width="1.3"/>
<text x="1141.3" y="950" font-size="24.5" text-anchor="middle">Control</text>
<rect x="1264.4" y="927.5" width="227.2" height="28.7" fill="#fff" stroke="#666" stroke-width="1.3"/>
<text x="1378" y="950" font-size="24.5" text-anchor="middle">COVID-19</text>
<path d="M1027.7 956.2V1320.3" stroke="#333" stroke-width="1.3" fill="none"/>
<line x1="1016.2" y1="972.9" x2="1027.7" y2="972.9" stroke="#555" stroke-width="1.3" />
<text x="1003.7" y="981.2" font-size="23.5" text-anchor="end">2,500</text>
<line x1="1016.2" y1="1039" x2="1027.7" y2="1039" stroke="#555" stroke-width="1.3" />
<text x="1003.7" y="1047.3" font-size="23.5" text-anchor="end">2,000</text>
<line x1="1016.2" y1="1105" x2="1027.7" y2="1105" stroke="#555" stroke-width="1.3" />
<text x="1003.7" y="1113.3" font-size="23.5" text-anchor="end">1,500</text>
<line x1="1016.2" y1="1171.1" x2="1027.7" y2="1171.1" stroke="#555" stroke-width="1.3" />
<text x="1003.7" y="1179.4" font-size="23.5" text-anchor="end">1,000</text>
<line x1="1016.2" y1="1237.5" x2="1027.7" y2="1237.5" stroke="#555" stroke-width="1.3" />
<text x="1003.7" y="1245.8" font-size="23.5" text-anchor="end">500</text>
<line x1="1016.2" y1="1303.6" x2="1027.7" y2="1303.6" stroke="#555" stroke-width="1.3" />
<text x="1003.7" y="1311.9" font-size="23.5" text-anchor="end">0</text>
<line x1="1027.7" y1="1320.3" x2="1255" y2="1320.3" stroke="#333" stroke-width="1.3" />
<line x1="1038.3" y1="1320.3" x2="1038.3" y2="1332" stroke="#555" stroke-width="1.3" />
<text x="1038.3" y="1361.3" font-size="24" text-anchor="middle">0</text>
<line x1="1089.8" y1="1320.3" x2="1089.8" y2="1332" stroke="#555" stroke-width="1.3" />
<text x="1089.8" y="1361.3" font-size="24" text-anchor="middle">25</text>
<line x1="1141.3" y1="1320.3" x2="1141.3" y2="1332" stroke="#555" stroke-width="1.3" />
<text x="1141.3" y="1361.3" font-size="24" text-anchor="middle">50</text>
<line x1="1192.9" y1="1320.3" x2="1192.9" y2="1332" stroke="#555" stroke-width="1.3" />
<text x="1192.9" y="1361.3" font-size="24" text-anchor="middle">75</text>
<line x1="1244.4" y1="1320.3" x2="1244.4" y2="1332" stroke="#555" stroke-width="1.3" />
<text x="1244.4" y="1361.3" font-size="24" text-anchor="middle">100</text>
<line x1="1264.4" y1="1320.3" x2="1491.6" y2="1320.3" stroke="#333" stroke-width="1.3" />
<line x1="1274.6" y1="1320.3" x2="1274.6" y2="1332" stroke="#555" stroke-width="1.3" />
<text x="1274.6" y="1361.3" font-size="24" text-anchor="middle">0</text>
<line x1="1326.1" y1="1320.3" x2="1326.1" y2="1332" stroke="#555" stroke-width="1.3" />
<text x="1326.1" y="1361.3" font-size="24" text-anchor="middle">25</text>
<line x1="1378.4" y1="1320.3" x2="1378.4" y2="1332" stroke="#555" stroke-width="1.3" />
<text x="1378.4" y="1361.3" font-size="24" text-anchor="middle">50</text>
<line x1="1430.3" y1="1320.3" x2="1430.3" y2="1332" stroke="#555" stroke-width="1.3" />
<text x="1430.3" y="1361.3" font-size="24" text-anchor="middle">75</text>
<line x1="1481.5" y1="1320.3" x2="1481.5" y2="1332" stroke="#555" stroke-width="1.3" />
<text x="1481.5" y="1361.3" font-size="24" text-anchor="middle">100</text>
<g>
<circle cx="1096.3" cy="1298.4" r="7.2" fill="#6d98d1"/>
<circle cx="1097.2" cy="1300.7" r="7.2" fill="#29336f"/>
<circle cx="1099.1" cy="1300.5" r="7.2" fill="#29336f"/>
<circle cx="1102.6" cy="1297.9" r="7.2" fill="#29336f"/>
<circle cx="1104.5" cy="1302.5" r="7.2" fill="#29336f"/>
<circle cx="1105.6" cy="1301.3" r="7.2" fill="#6d98d1"/>
<circle cx="1109" cy="1299.9" r="7.2" fill="#6d98d1"/>
<circle cx="1108.8" cy="1302.7" r="7.2" fill="#29336f"/>
<circle cx="1144.2" cy="1249" r="7.2" fill="#29336f"/>
<circle cx="1135.8" cy="1276.8" r="7.2" fill="#29336f"/>
<circle cx="1203" cy="1273.6" r="7.2" fill="#29336f"/>
<circle cx="1200.8" cy="1287.3" r="7.2" fill="#6d98d1"/>
<circle cx="1217.9" cy="1299.5" r="7.2" fill="#6d98d1"/>
<circle cx="1111.2" cy="1298.2" r="7.2" fill="#29336f"/>
<circle cx="1115.8" cy="1298.6" r="7.2" fill="#6d98d1"/>
<circle cx="1117" cy="1299.7" r="7.2" fill="#29336f"/>
<circle cx="1116.7" cy="1297.9" r="7.2" fill="#29336f"/>
<circle cx="1121.1" cy="1300.1" r="7.2" fill="#29336f"/>
<circle cx="1122.7" cy="1300.2" r="7.2" fill="#29336f"/>
<circle cx="1125.5" cy="1301.7" r="7.2" fill="#29336f"/>
<circle cx="1126.5" cy="1300.7" r="7.2" fill="#6d98d1"/>
<circle cx="1129.1" cy="1299.2" r="7.2" fill="#6d98d1"/>
<circle cx="1128.6" cy="1300" r="7.2" fill="#6d98d1"/>
<circle cx="1130.7" cy="1300.4" r="7.2" fill="#29336f"/>
<circle cx="1134.7" cy="1302.1" r="7.2" fill="#6d98d1"/>
<circle cx="1137.5" cy="1299.4" r="7.2" fill="#6d98d1"/>
<circle cx="1138.3" cy="1301" r="7.2" fill="#29336f"/>
<circle cx="1141.2" cy="1303.2" r="7.2" fill="#29336f"/>
<circle cx="1142.5" cy="1297.9" r="7.2" fill="#6d98d1"/>
<circle cx="1144.4" cy="1303.5" r="7.2" fill="#6d98d1"/>
<circle cx="1144.9" cy="1299.8" r="7.2" fill="#6d98d1"/>
<circle cx="1145.8" cy="1300.3" r="7.2" fill="#29336f"/>
<circle cx="1148.1" cy="1297.9" r="7.2" fill="#6d98d1"/>
<circle cx="1150.1" cy="1299" r="7.2" fill="#29336f"/>
<circle cx="1155" cy="1298" r="7.2" fill="#29336f"/>
<circle cx="1155.7" cy="1302.8" r="7.2" fill="#6d98d1"/>
<circle cx="1158.9" cy="1299.2" r="7.2" fill="#29336f"/>
<circle cx="1158.8" cy="1302.8" r="7.2" fill="#6d98d1"/>
<circle cx="1159.9" cy="1298.6" r="7.2" fill="#29336f"/>
<circle cx="1162.2" cy="1300.4" r="7.2" fill="#6d98d1"/>
<circle cx="1164.3" cy="1297.5" r="7.2" fill="#29336f"/>
<circle cx="1166.6" cy="1300.9" r="7.2" fill="#6d98d1"/>
<circle cx="1169.9" cy="1300.6" r="7.2" fill="#6d98d1"/>
<circle cx="1171.8" cy="1297.8" r="7.2" fill="#6d98d1"/>
<circle cx="1174.1" cy="1302.7" r="7.2" fill="#6d98d1"/>
<circle cx="1174.5" cy="1299.9" r="7.2" fill="#29336f"/>
<circle cx="1177.5" cy="1297.9" r="7.2" fill="#29336f"/>
<circle cx="1177.7" cy="1298.5" r="7.2" fill="#29336f"/>
<circle cx="1179" cy="1297.5" r="7.2" fill="#29336f"/>
<circle cx="1181.2" cy="1299.7" r="7.2" fill="#29336f"/>
<circle cx="1186.2" cy="1301.2" r="7.2" fill="#29336f"/>
<circle cx="1185.7" cy="1299.6" r="7.2" fill="#29336f"/>
<circle cx="1187.1" cy="1302.6" r="7.2" fill="#6d98d1"/>
<circle cx="1190.4" cy="1300.4" r="7.2" fill="#29336f"/>
<circle cx="1190.9" cy="1299.6" r="7.2" fill="#29336f"/>
<circle cx="1195.8" cy="1298.5" r="7.2" fill="#29336f"/>
<circle cx="1198.2" cy="1300.7" r="7.2" fill="#29336f"/>
<circle cx="1198.5" cy="1297.7" r="7.2" fill="#29336f"/>
<circle cx="1202.2" cy="1302.7" r="7.2" fill="#6d98d1"/>
<circle cx="1201.3" cy="1299.7" r="7.2" fill="#29336f"/>
<circle cx="1205.3" cy="1300.7" r="7.2" fill="#6d98d1"/>
<circle cx="1205.5" cy="1298.8" r="7.2" fill="#6d98d1"/>
<circle cx="1210" cy="1302.6" r="7.2" fill="#6d98d1"/>
<circle cx="1211.3" cy="1301.9" r="7.2" fill="#29336f"/>
<circle cx="1212.1" cy="1299.6" r="7.2" fill="#29336f"/>
<circle cx="1095.1" cy="1299.2" r="7.2" fill="#29336f"/>
<circle cx="1099.7" cy="1303.2" r="7.2" fill="#29336f"/>
<circle cx="1102.6" cy="1303.4" r="7.2" fill="#6d98d1"/>
<circle cx="1102.3" cy="1298.8" r="7.2" fill="#29336f"/>
<circle cx="1103.6" cy="1298.7" r="7.2" fill="#6d98d1"/>
<circle cx="1108.3" cy="1302.5" r="7.2" fill="#29336f"/>
<circle cx="1109.3" cy="1302.3" r="7.2" fill="#29336f"/>
<circle cx="1111.3" cy="1303" r="7.2" fill="#6d98d1"/>
<circle cx="1113.6" cy="1300.4" r="7.2" fill="#29336f"/>
<circle cx="1115.7" cy="1299.5" r="7.2" fill="#6d98d1"/>
<circle cx="1118.4" cy="1299.9" r="7.2" fill="#29336f"/>
<circle cx="1120.2" cy="1301.8" r="7.2" fill="#29336f"/>
<circle cx="1118.9" cy="1298.4" r="7.2" fill="#6d98d1"/>
<circle cx="1123.6" cy="1298.4" r="7.2" fill="#6d98d1"/>
<circle cx="1126.2" cy="1301.4" r="7.2" fill="#29336f"/>
<circle cx="1126.4" cy="1298.3" r="7.2" fill="#29336f"/>
<circle cx="1130.1" cy="1301.4" r="7.2" fill="#29336f"/>
<circle cx="1131.9" cy="1300.1" r="7.2" fill="#6d98d1"/>
<circle cx="1133.4" cy="1298.8" r="7.2" fill="#29336f"/>
<circle cx="1133.2" cy="1298.9" r="7.2" fill="#6d98d1"/>
<circle cx="1135" cy="1300" r="7.2" fill="#29336f"/>
<circle cx="1139.6" cy="1299.6" r="7.2" fill="#29336f"/>
<circle cx="1140.2" cy="1302.9" r="7.2" fill="#29336f"/>
<circle cx="1143.5" cy="1300.5" r="7.2" fill="#29336f"/>
<circle cx="1143.9" cy="1297.6" r="7.2" fill="#29336f"/>
<circle cx="1144.5" cy="1297.5" r="7.2" fill="#6d98d1"/>
<circle cx="1146.4" cy="1300.3" r="7.2" fill="#6d98d1"/>
<circle cx="1149.9" cy="1299.5" r="7.2" fill="#29336f"/>
<circle cx="1151.8" cy="1302.2" r="7.2" fill="#29336f"/>
<circle cx="1153.8" cy="1299" r="7.2" fill="#29336f"/>
<circle cx="1156.6" cy="1300.5" r="7.2" fill="#6d98d1"/>
<circle cx="1158.5" cy="1303" r="7.2" fill="#29336f"/>
<circle cx="1159.8" cy="1300.5" r="7.2" fill="#29336f"/>
<circle cx="1162.1" cy="1300.2" r="7.2" fill="#29336f"/>
<circle cx="1163.2" cy="1303.1" r="7.2" fill="#6d98d1"/>
<circle cx="1166.7" cy="1303.2" r="7.2" fill="#29336f"/>
<circle cx="1167.4" cy="1303.2" r="7.2" fill="#6d98d1"/>
<circle cx="1167.7" cy="1298.2" r="7.2" fill="#29336f"/>
<circle cx="1169.4" cy="1298.9" r="7.2" fill="#29336f"/>
<circle cx="1173.7" cy="1302.2" r="7.2" fill="#6d98d1"/>
<circle cx="1173.6" cy="1301.8" r="7.2" fill="#6d98d1"/>
<circle cx="1175.5" cy="1302.8" r="7.2" fill="#6d98d1"/>
<circle cx="1177.7" cy="1303.2" r="7.2" fill="#29336f"/>
<circle cx="1180.8" cy="1303.4" r="7.2" fill="#6d98d1"/>
<circle cx="1181.4" cy="1300.1" r="7.2" fill="#29336f"/>
<circle cx="1184.1" cy="1298.7" r="7.2" fill="#29336f"/>
<circle cx="1187.5" cy="1297.6" r="7.2" fill="#6d98d1"/>
<circle cx="1188.4" cy="1297.6" r="7.2" fill="#29336f"/>
<circle cx="1191.1" cy="1300.6" r="7.2" fill="#29336f"/>
<circle cx="1194.4" cy="1302.2" r="7.2" fill="#6d98d1"/>
<circle cx="1192.9" cy="1299.1" r="7.2" fill="#29336f"/>
<circle cx="1197.5" cy="1299.1" r="7.2" fill="#29336f"/>
<circle cx="1198" cy="1303" r="7.2" fill="#6d98d1"/>
<circle cx="1199.3" cy="1298.4" r="7.2" fill="#6d98d1"/>
<circle cx="1202.5" cy="1301.7" r="7.2" fill="#29336f"/>
<circle cx="1202.4" cy="1301.6" r="7.2" fill="#29336f"/>
<circle cx="1204.4" cy="1303.1" r="7.2" fill="#6d98d1"/>
<circle cx="1209.3" cy="1298" r="7.2" fill="#6d98d1"/>
<circle cx="1208.3" cy="1302.7" r="7.2" fill="#29336f"/>
<circle cx="1211.4" cy="1300.8" r="7.2" fill="#6d98d1"/>
</g>
<g fill="none" stroke="#000" stroke-width="1.4">
<circle cx="1096.3" cy="1298.4" r="7.2"/>
<circle cx="1097.2" cy="1300.7" r="7.2"/>
<circle cx="1099.1" cy="1300.5" r="7.2"/>
<circle cx="1102.6" cy="1297.9" r="7.2"/>
<circle cx="1104.5" cy="1302.5" r="7.2"/>
<circle cx="1105.6" cy="1301.3" r="7.2"/>
<circle cx="1109" cy="1299.9" r="7.2"/>
<circle cx="1108.8" cy="1302.7" r="7.2"/>
<circle cx="1144.2" cy="1249" r="7.2"/>
<circle cx="1135.8" cy="1276.8" r="7.2"/>
<circle cx="1203" cy="1273.6" r="7.2"/>
<circle cx="1200.8" cy="1287.3" r="7.2"/>
<circle cx="1217.9" cy="1299.5" r="7.2"/>
<circle cx="1111.2" cy="1298.2" r="7.2"/>
<circle cx="1115.8" cy="1298.6" r="7.2"/>
<circle cx="1117" cy="1299.7" r="7.2"/>
<circle cx="1116.7" cy="1297.9" r="7.2"/>
<circle cx="1121.1" cy="1300.1" r="7.2"/>
<circle cx="1122.7" cy="1300.2" r="7.2"/>
<circle cx="1125.5" cy="1301.7" r="7.2"/>
<circle cx="1126.5" cy="1300.7" r="7.2"/>
<circle cx="1129.1" cy="1299.2" r="7.2"/>
<circle cx="1128.6" cy="1300" r="7.2"/>
<circle cx="1130.7" cy="1300.4" r="7.2"/>
<circle cx="1134.7" cy="1302.1" r="7.2"/>
<circle cx="1137.5" cy="1299.4" r="7.2"/>
<circle cx="1138.3" cy="1301" r="7.2"/>
<circle cx="1141.2" cy="1303.2" r="7.2"/>
<circle cx="1142.5" cy="1297.9" r="7.2"/>
<circle cx="1144.4" cy="1303.5" r="7.2"/>
<circle cx="1144.9" cy="1299.8" r="7.2"/>
<circle cx="1145.8" cy="1300.3" r="7.2"/>
<circle cx="1148.1" cy="1297.9" r="7.2"/>
<circle cx="1150.1" cy="1299" r="7.2"/>
<circle cx="1155" cy="1298" r="7.2"/>
<circle cx="1155.7" cy="1302.8" r="7.2"/>
<circle cx="1158.9" cy="1299.2" r="7.2"/>
<circle cx="1158.8" cy="1302.8" r="7.2"/>
<circle cx="1159.9" cy="1298.6" r="7.2"/>
<circle cx="1162.2" cy="1300.4" r="7.2"/>
<circle cx="1164.3" cy="1297.5" r="7.2"/>
<circle cx="1166.6" cy="1300.9" r="7.2"/>
<circle cx="1169.9" cy="1300.6" r="7.2"/>
<circle cx="1171.8" cy="1297.8" r="7.2"/>
<circle cx="1174.1" cy="1302.7" r="7.2"/>
<circle cx="1174.5" cy="1299.9" r="7.2"/>
<circle cx="1177.5" cy="1297.9" r="7.2"/>
<circle cx="1177.7" cy="1298.5" r="7.2"/>
<circle cx="1179" cy="1297.5" r="7.2"/>
<circle cx="1181.2" cy="1299.7" r="7.2"/>
<circle cx="1186.2" cy="1301.2" r="7.2"/>
<circle cx="1185.7" cy="1299.6" r="7.2"/>
<circle cx="1187.1" cy="1302.6" r="7.2"/>
<circle cx="1190.4" cy="1300.4" r="7.2"/>
<circle cx="1190.9" cy="1299.6" r="7.2"/>
<circle cx="1195.8" cy="1298.5" r="7.2"/>
<circle cx="1198.2" cy="1300.7" r="7.2"/>
<circle cx="1198.5" cy="1297.7" r="7.2"/>
<circle cx="1202.2" cy="1302.7" r="7.2"/>
<circle cx="1201.3" cy="1299.7" r="7.2"/>
<circle cx="1205.3" cy="1300.7" r="7.2"/>
<circle cx="1205.5" cy="1298.8" r="7.2"/>
<circle cx="1210" cy="1302.6" r="7.2"/>
<circle cx="1211.3" cy="1301.9" r="7.2"/>
<circle cx="1212.1" cy="1299.6" r="7.2"/>
<circle cx="1095.1" cy="1299.2" r="7.2"/>
<circle cx="1099.7" cy="1303.2" r="7.2"/>
<circle cx="1102.6" cy="1303.4" r="7.2"/>
<circle cx="1102.3" cy="1298.8" r="7.2"/>
<circle cx="1103.6" cy="1298.7" r="7.2"/>
<circle cx="1108.3" cy="1302.5" r="7.2"/>
<circle cx="1109.3" cy="1302.3" r="7.2"/>
<circle cx="1111.3" cy="1303" r="7.2"/>
<circle cx="1113.6" cy="1300.4" r="7.2"/>
<circle cx="1115.7" cy="1299.5" r="7.2"/>
<circle cx="1118.4" cy="1299.9" r="7.2"/>
<circle cx="1120.2" cy="1301.8" r="7.2"/>
<circle cx="1118.9" cy="1298.4" r="7.2"/>
<circle cx="1123.6" cy="1298.4" r="7.2"/>
<circle cx="1126.2" cy="1301.4" r="7.2"/>
<circle cx="1126.4" cy="1298.3" r="7.2"/>
<circle cx="1130.1" cy="1301.4" r="7.2"/>
<circle cx="1131.9" cy="1300.1" r="7.2"/>
<circle cx="1133.4" cy="1298.8" r="7.2"/>
<circle cx="1133.2" cy="1298.9" r="7.2"/>
<circle cx="1135" cy="1300" r="7.2"/>
<circle cx="1139.6" cy="1299.6" r="7.2"/>
<circle cx="1140.2" cy="1302.9" r="7.2"/>
<circle cx="1143.5" cy="1300.5" r="7.2"/>
<circle cx="1143.9" cy="1297.6" r="7.2"/>
<circle cx="1144.5" cy="1297.5" r="7.2"/>
<circle cx="1146.4" cy="1300.3" r="7.2"/>
<circle cx="1149.9" cy="1299.5" r="7.2"/>
<circle cx="1151.8" cy="1302.2" r="7.2"/>
<circle cx="1153.8" cy="1299" r="7.2"/>
<circle cx="1156.6" cy="1300.5" r="7.2"/>
<circle cx="1158.5" cy="1303" r="7.2"/>
<circle cx="1159.8" cy="1300.5" r="7.2"/>
<circle cx="1162.1" cy="1300.2" r="7.2"/>
<circle cx="1163.2" cy="1303.1" r="7.2"/>
<circle cx="1166.7" cy="1303.2" r="7.2"/>
<circle cx="1167.4" cy="1303.2" r="7.2"/>
<circle cx="1167.7" cy="1298.2" r="7.2"/>
<circle cx="1169.4" cy="1298.9" r="7.2"/>
<circle cx="1173.7" cy="1302.2" r="7.2"/>
<circle cx="1173.6" cy="1301.8" r="7.2"/>
<circle cx="1175.5" cy="1302.8" r="7.2"/>
<circle cx="1177.7" cy="1303.2" r="7.2"/>
<circle cx="1180.8" cy="1303.4" r="7.2"/>
<circle cx="1181.4" cy="1300.1" r="7.2"/>
<circle cx="1184.1" cy="1298.7" r="7.2"/>
<circle cx="1187.5" cy="1297.6" r="7.2"/>
<circle cx="1188.4" cy="1297.6" r="7.2"/>
<circle cx="1191.1" cy="1300.6" r="7.2"/>
<circle cx="1194.4" cy="1302.2" r="7.2"/>
<circle cx="1192.9" cy="1299.1" r="7.2"/>
<circle cx="1197.5" cy="1299.1" r="7.2"/>
<circle cx="1198" cy="1303" r="7.2"/>
<circle cx="1199.3" cy="1298.4" r="7.2"/>
<circle cx="1202.5" cy="1301.7" r="7.2"/>
<circle cx="1202.4" cy="1301.6" r="7.2"/>
<circle cx="1204.4" cy="1303.1" r="7.2"/>
<circle cx="1209.3" cy="1298" r="7.2"/>
<circle cx="1208.3" cy="1302.7" r="7.2"/>
<circle cx="1211.4" cy="1300.8" r="7.2"/>
</g>
<g>
<circle cx="1388.3" cy="1089.8" r="7.2" fill="#f9a535"/>
<circle cx="1396.7" cy="1091.6" r="7.2" fill="#f9a535"/>
<circle cx="1387.5" cy="1105.9" r="7.2" fill="#f9a535"/>
<circle cx="1410.4" cy="1102" r="7.2" fill="#f9a535"/>
<circle cx="1419.7" cy="1148.9" r="7.2" fill="#f9a535"/>
<circle cx="1408" cy="1187.1" r="7.2" fill="#f9a535"/>
<circle cx="1424.3" cy="1190.7" r="7.2" fill="#f9a535"/>
<circle cx="1384.5" cy="1195.4" r="7.2" fill="#f9a535"/>
<circle cx="1379" cy="1206.2" r="7.2" fill="#f9a535"/>
<circle cx="1404.1" cy="1207.4" r="7.2" fill="#f9a535"/>
<circle cx="1411.2" cy="1217.5" r="7.2" fill="#f9a535"/>
<circle cx="1408.8" cy="1224.7" r="7.2" fill="#f9a535"/>
<circle cx="1324.7" cy="1200.8" r="7.2" fill="#f9a535"/>
<circle cx="1364.4" cy="1237.8" r="7.2" fill="#f9a535"/>
<circle cx="1365.9" cy="1240.2" r="7.2" fill="#f9a535"/>
<circle cx="1384.1" cy="1242.6" r="7.2" fill="#f9a535"/>
<circle cx="1342.4" cy="1249.1" r="7.2" fill="#f9a535"/>
<circle cx="1347.1" cy="1255.1" r="7.2" fill="#f9a535"/>
<circle cx="1360.3" cy="1261.1" r="7.2" fill="#f9a535"/>
<circle cx="1369.2" cy="1264.1" r="7.2" fill="#f9a535"/>
<circle cx="1371.6" cy="1270" r="7.2" fill="#f9a535"/>
<circle cx="1382.3" cy="1270" r="7.2" fill="#f9a535"/>
<circle cx="1355.5" cy="1284.3" r="7.2" fill="#f9a535"/>
<circle cx="1442.6" cy="1244.4" r="7.2" fill="#f9a535"/>
<circle cx="1425.9" cy="1253.3" r="7.2" fill="#f9a535"/>
<circle cx="1442" cy="1265.3" r="7.2" fill="#f9a535"/>
<circle cx="1440.8" cy="1274.2" r="7.2" fill="#f9a535"/>
<circle cx="1418.1" cy="1262.9" r="7.2" fill="#f9a535"/>
<circle cx="1419.3" cy="1270" r="7.2" fill="#f9a535"/>
<circle cx="1408.6" cy="1246.2" r="7.2" fill="#f9a535"/>
<circle cx="1408.6" cy="1278.4" r="7.2" fill="#f9a535"/>
<circle cx="1395.5" cy="1253.3" r="7.2" fill="#f9a535"/>
<circle cx="1397.9" cy="1262.9" r="7.2" fill="#f9a535"/>
<circle cx="1374" cy="1292.7" r="7.2" fill="#f9a535"/>
<circle cx="1372.8" cy="1301.1" r="7.2" fill="#f9a535"/>
<circle cx="1464.7" cy="1298.7" r="7.2" fill="#f9a535"/>
<circle cx="1448" cy="1301.1" r="7.2" fill="#f9a535"/>
<circle cx="1447.4" cy="1291.5" r="7.2" fill="#f9a535"/>
<circle cx="1404.1" cy="1006.7" r="7.2" fill="#f9a535"/>
<circle cx="1402.7" cy="1278" r="7.2" fill="#f9a535"/>
<circle cx="1417" cy="1281.4" r="7.2" fill="#f9a535"/>
<circle cx="1394" cy="1279" r="7.2" fill="#f9a535"/>
<circle cx="1390.8" cy="1280.3" r="7.2" fill="#f9a535"/>
<circle cx="1405.2" cy="1283.5" r="7.2" fill="#f9a535"/>
<circle cx="1429.8" cy="1283" r="7.2" fill="#f9a535"/>
<circle cx="1415.5" cy="1279.5" r="7.2" fill="#f9a535"/>
<circle cx="1407.1" cy="1274.6" r="7.2" fill="#f9a535"/>
<circle cx="1401.8" cy="1274.5" r="7.2" fill="#f9a535"/>
<circle cx="1428.3" cy="1291.1" r="7.2" fill="#f9a535"/>
<circle cx="1398.4" cy="1288.7" r="7.2" fill="#f9a535"/>
<circle cx="1439.4" cy="1277.3" r="7.2" fill="#f9a535"/>
<circle cx="1433" cy="1287.4" r="7.2" fill="#f9a535"/>
<circle cx="1415.2" cy="1299.9" r="7.2" fill="#f9a535"/>
<circle cx="1409.6" cy="1289.7" r="7.2" fill="#f9a535"/>
<circle cx="1425.8" cy="1304.5" r="7.2" fill="#f9a535"/>
<circle cx="1406.8" cy="1299.8" r="7.2" fill="#f9a535"/>
<circle cx="1426.9" cy="1293.7" r="7.2" fill="#f9a535"/>
<circle cx="1410.3" cy="1284.8" r="7.2" fill="#f9a535"/>
<circle cx="1391" cy="1278" r="7.2" fill="#f9a535"/>
<circle cx="1391.9" cy="1297" r="7.2" fill="#f9a535"/>
<circle cx="1402.1" cy="1279.1" r="7.2" fill="#f9a535"/>
<circle cx="1392.6" cy="1300.1" r="7.2" fill="#f9a535"/>
<circle cx="1435.9" cy="1294.8" r="7.2" fill="#f9a535"/>
<circle cx="1403.5" cy="1281.5" r="7.2" fill="#f9a535"/>
<circle cx="1404.1" cy="1288.2" r="7.2" fill="#f9a535"/>
<circle cx="1396.7" cy="1287.8" r="7.2" fill="#f9a535"/>
<circle cx="1402.5" cy="1303.8" r="7.2" fill="#f9a535"/>
<circle cx="1441.5" cy="1291" r="7.2" fill="#f9a535"/>
<circle cx="1401.4" cy="1303.9" r="7.2" fill="#f9a535"/>
<circle cx="1405" cy="1285.1" r="7.2" fill="#f9a535"/>
<circle cx="1388.1" cy="1285.8" r="7.2" fill="#f9a535"/>
<circle cx="1414.1" cy="1289.6" r="7.2" fill="#f9a535"/>
<circle cx="1399.1" cy="1289.6" r="7.2" fill="#f9a535"/>
<circle cx="1388.3" cy="1282.2" r="7.2" fill="#f9a535"/>
<circle cx="1392.9" cy="1286.4" r="7.2" fill="#f9a535"/>
<circle cx="1390.3" cy="1274.7" r="7.2" fill="#f9a535"/>
<circle cx="1404.7" cy="1281.2" r="7.2" fill="#f9a535"/>
<circle cx="1420.2" cy="1290.4" r="7.2" fill="#f9a535"/>
<circle cx="1429.3" cy="1294.4" r="7.2" fill="#f9a535"/>
<circle cx="1427.4" cy="1301.3" r="7.2" fill="#f9a535"/>
<circle cx="1409.4" cy="1284.1" r="7.2" fill="#f9a535"/>
<circle cx="1442.2" cy="1278.6" r="7.2" fill="#f9a535"/>
<circle cx="1427.8" cy="1293.9" r="7.2" fill="#f9a535"/>
<circle cx="1390.4" cy="1299.9" r="7.2" fill="#f9a535"/>
<circle cx="1437.1" cy="1293.4" r="7.2" fill="#f9a535"/>
<circle cx="1428.4" cy="1299.2" r="7.2" fill="#f9a535"/>
<circle cx="1395.7" cy="1290.2" r="7.2" fill="#f9a535"/>
<circle cx="1415.7" cy="1299.9" r="7.2" fill="#f9a535"/>
<circle cx="1432.3" cy="1299.6" r="7.2" fill="#f9a535"/>
<circle cx="1420.1" cy="1301.7" r="7.2" fill="#f9a535"/>
<circle cx="1425.6" cy="1295.5" r="7.2" fill="#f9a535"/>
<circle cx="1400.6" cy="1275" r="7.2" fill="#f9a535"/>
<circle cx="1395.3" cy="1285.2" r="7.2" fill="#f9a535"/>
<circle cx="1393.8" cy="1299.9" r="7.2" fill="#f9a535"/>
<circle cx="1418.7" cy="1293.5" r="7.2" fill="#f9a535"/>
<circle cx="1422.4" cy="1295.1" r="7.2" fill="#f9a535"/>
<circle cx="1414.9" cy="1274.1" r="7.2" fill="#f9a535"/>
<circle cx="1431.9" cy="1297.2" r="7.2" fill="#f9a535"/>
<circle cx="1415.7" cy="1290.6" r="7.2" fill="#f9a535"/>
<circle cx="1424.3" cy="1276" r="7.2" fill="#f9a535"/>
<circle cx="1428.5" cy="1281.8" r="7.2" fill="#f9a535"/>
<circle cx="1392.1" cy="1282.2" r="7.2" fill="#f9a535"/>
<circle cx="1428.1" cy="1280.4" r="7.2" fill="#f9a535"/>
</g>
<g fill="none" stroke="#000" stroke-width="1.4">
<circle cx="1388.3" cy="1089.8" r="7.2"/>
<circle cx="1396.7" cy="1091.6" r="7.2"/>
<circle cx="1387.5" cy="1105.9" r="7.2"/>
<circle cx="1410.4" cy="1102" r="7.2"/>
<circle cx="1419.7" cy="1148.9" r="7.2"/>
<circle cx="1408" cy="1187.1" r="7.2"/>
<circle cx="1424.3" cy="1190.7" r="7.2"/>
<circle cx="1384.5" cy="1195.4" r="7.2"/>
<circle cx="1379" cy="1206.2" r="7.2"/>
<circle cx="1404.1" cy="1207.4" r="7.2"/>
<circle cx="1411.2" cy="1217.5" r="7.2"/>
<circle cx="1408.8" cy="1224.7" r="7.2"/>
<circle cx="1324.7" cy="1200.8" r="7.2"/>
<circle cx="1364.4" cy="1237.8" r="7.2"/>
<circle cx="1365.9" cy="1240.2" r="7.2"/>
<circle cx="1384.1" cy="1242.6" r="7.2"/>
<circle cx="1342.4" cy="1249.1" r="7.2"/>
<circle cx="1347.1" cy="1255.1" r="7.2"/>
<circle cx="1360.3" cy="1261.1" r="7.2"/>
<circle cx="1369.2" cy="1264.1" r="7.2"/>
<circle cx="1371.6" cy="1270" r="7.2"/>
<circle cx="1382.3" cy="1270" r="7.2"/>
<circle cx="1355.5" cy="1284.3" r="7.2"/>
<circle cx="1442.6" cy="1244.4" r="7.2"/>
<circle cx="1425.9" cy="1253.3" r="7.2"/>
<circle cx="1442" cy="1265.3" r="7.2"/>
<circle cx="1440.8" cy="1274.2" r="7.2"/>
<circle cx="1418.1" cy="1262.9" r="7.2"/>
<circle cx="1419.3" cy="1270" r="7.2"/>
<circle cx="1408.6" cy="1246.2" r="7.2"/>
<circle cx="1408.6" cy="1278.4" r="7.2"/>
<circle cx="1395.5" cy="1253.3" r="7.2"/>
<circle cx="1397.9" cy="1262.9" r="7.2"/>
<circle cx="1374" cy="1292.7" r="7.2"/>
<circle cx="1372.8" cy="1301.1" r="7.2"/>
<circle cx="1464.7" cy="1298.7" r="7.2"/>
<circle cx="1448" cy="1301.1" r="7.2"/>
<circle cx="1447.4" cy="1291.5" r="7.2"/>
<circle cx="1404.1" cy="1006.7" r="7.2"/>
<circle cx="1402.7" cy="1278" r="7.2"/>
<circle cx="1417" cy="1281.4" r="7.2"/>
<circle cx="1394" cy="1279" r="7.2"/>
<circle cx="1390.8" cy="1280.3" r="7.2"/>
<circle cx="1405.2" cy="1283.5" r="7.2"/>
<circle cx="1429.8" cy="1283" r="7.2"/>
<circle cx="1415.5" cy="1279.5" r="7.2"/>
<circle cx="1407.1" cy="1274.6" r="7.2"/>
<circle cx="1401.8" cy="1274.5" r="7.2"/>
<circle cx="1428.3" cy="1291.1" r="7.2"/>
<circle cx="1398.4" cy="1288.7" r="7.2"/>
<circle cx="1439.4" cy="1277.3" r="7.2"/>
<circle cx="1433" cy="1287.4" r="7.2"/>
<circle cx="1415.2" cy="1299.9" r="7.2"/>
<circle cx="1409.6" cy="1289.7" r="7.2"/>
<circle cx="1425.8" cy="1304.5" r="7.2"/>
<circle cx="1406.8" cy="1299.8" r="7.2"/>
<circle cx="1426.9" cy="1293.7" r="7.2"/>
<circle cx="1410.3" cy="1284.8" r="7.2"/>
<circle cx="1391" cy="1278" r="7.2"/>
<circle cx="1391.9" cy="1297" r="7.2"/>
<circle cx="1402.1" cy="1279.1" r="7.2"/>
<circle cx="1392.6" cy="1300.1" r="7.2"/>
<circle cx="1435.9" cy="1294.8" r="7.2"/>
<circle cx="1403.5" cy="1281.5" r="7.2"/>
<circle cx="1404.1" cy="1288.2" r="7.2"/>
<circle cx="1396.7" cy="1287.8" r="7.2"/>
<circle cx="1402.5" cy="1303.8" r="7.2"/>
<circle cx="1441.5" cy="1291" r="7.2"/>
<circle cx="1401.4" cy="1303.9" r="7.2"/>
<circle cx="1405" cy="1285.1" r="7.2"/>
<circle cx="1388.1" cy="1285.8" r="7.2"/>
<circle cx="1414.1" cy="1289.6" r="7.2"/>
<circle cx="1399.1" cy="1289.6" r="7.2"/>
<circle cx="1388.3" cy="1282.2" r="7.2"/>
<circle cx="1392.9" cy="1286.4" r="7.2"/>
<circle cx="1390.3" cy="1274.7" r="7.2"/>
<circle cx="1404.7" cy="1281.2" r="7.2"/>
<circle cx="1420.2" cy="1290.4" r="7.2"/>
<circle cx="1429.3" cy="1294.4" r="7.2"/>
<circle cx="1427.4" cy="1301.3" r="7.2"/>
<circle cx="1409.4" cy="1284.1" r="7.2"/>
<circle cx="1442.2" cy="1278.6" r="7.2"/>
<circle cx="1427.8" cy="1293.9" r="7.2"/>
<circle cx="1390.4" cy="1299.9" r="7.2"/>
<circle cx="1437.1" cy="1293.4" r="7.2"/>
<circle cx="1428.4" cy="1299.2" r="7.2"/>
<circle cx="1395.7" cy="1290.2" r="7.2"/>
<circle cx="1415.7" cy="1299.9" r="7.2"/>
<circle cx="1432.3" cy="1299.6" r="7.2"/>
<circle cx="1420.1" cy="1301.7" r="7.2"/>
<circle cx="1425.6" cy="1295.5" r="7.2"/>
<circle cx="1400.6" cy="1275" r="7.2"/>
<circle cx="1395.3" cy="1285.2" r="7.2"/>
<circle cx="1393.8" cy="1299.9" r="7.2"/>
<circle cx="1418.7" cy="1293.5" r="7.2"/>
<circle cx="1422.4" cy="1295.1" r="7.2"/>
<circle cx="1414.9" cy="1274.1" r="7.2"/>
<circle cx="1431.9" cy="1297.2" r="7.2"/>
<circle cx="1415.7" cy="1290.6" r="7.2"/>
<circle cx="1424.3" cy="1276" r="7.2"/>
<circle cx="1428.5" cy="1281.8" r="7.2"/>
<circle cx="1392.1" cy="1282.2" r="7.2"/>
<circle cx="1428.1" cy="1280.4" r="7.2"/>
</g>
<path d="M1378.5 1080L1398.1 1099.6M1378.5 1099.6L1398.1 1080M1398.2 1177.3L1417.8 1196.9M1398.2 1196.9L1417.8 1177.3M1374.7 1185.6L1394.3 1205.2M1374.7 1205.2L1394.3 1185.6M1399 1214.9L1418.6 1234.5M1399 1234.5L1418.6 1214.9M1432.2 1255.5L1451.8 1275.1M1432.2 1275.1L1451.8 1255.5M1420 1273.2L1439.6 1292.8M1420 1292.8L1439.6 1273.2M1417.1 1283.9L1436.7 1303.5M1417.1 1303.5L1436.7 1283.9M1417.6 1291.5L1437.2 1311.1M1417.6 1311.1L1437.2 1291.5" stroke="#000" stroke-width="1.2" fill="none"/>
<path d="M1325.7 1184.7L1331.5 1190.1L1337.3 1195.5L1343.1 1200.9L1348.9 1206.3L1354.7 1211.7L1360.5 1217L1366.2 1222.2L1372 1227.3L1377.8 1232.3L1383.6 1237L1389.4 1241.3L1395.2 1244.9L1401 1247.5L1406.8 1249.4L1412.6 1250.6L1418.4 1251.5L1424.2 1252.2L1430 1252.7L1435.7 1253L1441.5 1253.4L1447.3 1253.6L1453.1 1253.9L1458.9 1254.1L1464.7 1254.3L1464.7 1314.3L1458.9 1309.3L1453.1 1304.3L1447.3 1299.3L1441.5 1294.4L1435.7 1289.5L1430 1284.6L1424.2 1279.9L1418.4 1275.3L1412.6 1271L1406.8 1267.1L1401 1263.7L1395.2 1261.1L1389.4 1259.5L1383.6 1258.5L1377.8 1258L1372 1257.8L1366.2 1257.7L1360.5 1257.7L1354.7 1257.8L1348.9 1258L1343.1 1258.1L1337.3 1258.3L1331.5 1258.5L1325.7 1258.7Z" fill="#999" fill-opacity="0.3"/>
<line x1="1325.7" y1="1221.7" x2="1464.7" y2="1284.3" stroke="#000" stroke-width="1.2" />
<text x="1047" y="1044" font-size="20.6"><tspan font-style="italic">r</tspan> = 0.23 , <tspan font-style="italic">P</tspan> = 0.062</text>
<text x="1270.2" y="1044" font-size="20.6"><tspan font-style="italic">r</tspan> = −0.39 , <tspan font-style="italic">P</tspan> = 0.00016</text>
<text x="1039.7" y="1398.3" font-size="24.5">CXCR3<tspan font-size="16" dy="-10">+</tspan><tspan dy="10">CCR6</tspan><tspan font-size="16" dy="-10">−</tspan><tspan dy="10"> (CD4</tspan><tspan font-size="16" dy="-10">−</tspan><tspan dy="10">CD45RA</tspan><tspan font-size="16" dy="-10">−</tspan><tspan dy="10">cells %)</tspan></text>
<text x="0" y="0" font-size="24.5" text-anchor="middle" transform="translate(917 1140) rotate(-90)">IP-10 pg ml<tspan font-size="16" dy="-10">−1</tspan></text>
<rect x="1660.6" y="927.5" width="218.9" height="28.6" fill="#fff" stroke="#666" stroke-width="1.3"/>
<text x="1770" y="949.9" font-size="24.5" text-anchor="middle">Control</text>
<rect x="1889.3" y="927.5" width="218.5" height="28.6" fill="#fff" stroke="#666" stroke-width="1.3"/>
<text x="1998.6" y="949.9" font-size="24.5" text-anchor="middle">COVID-19</text>
<path d="M1660.6 956.1V1320.4" stroke="#333" stroke-width="1.3" fill="none"/>
<line x1="1649.1" y1="993.4" x2="1660.6" y2="993.4" stroke="#555" stroke-width="1.3" />
<text x="1636.6" y="1001.7" font-size="23.5" text-anchor="end">1.5 × 10<tspan font-size="15" dy="-10">5</tspan></text>
<line x1="1649.1" y1="1096.7" x2="1660.6" y2="1096.7" stroke="#555" stroke-width="1.3" />
<text x="1636.6" y="1105" font-size="23.5" text-anchor="end">1 × 10<tspan font-size="15" dy="-10">5</tspan></text>
<line x1="1649.1" y1="1200" x2="1660.6" y2="1200" stroke="#555" stroke-width="1.3" />
<text x="1636.6" y="1208.3" font-size="23.5" text-anchor="end">5 × 10<tspan font-size="15" dy="-10">4</tspan></text>
<line x1="1649.1" y1="1303.3" x2="1660.6" y2="1303.3" stroke="#555" stroke-width="1.3" />
<text x="1636.6" y="1311.6" font-size="23.5" text-anchor="end">0</text>
<line x1="1660.6" y1="1320.4" x2="1879.5" y2="1320.4" stroke="#333" stroke-width="1.3" />
<line x1="1670.7" y1="1320.4" x2="1670.7" y2="1332.1" stroke="#555" stroke-width="1.3" />
<text x="1670.7" y="1361.4" font-size="24" text-anchor="middle">0</text>
<line x1="1720.4" y1="1320.4" x2="1720.4" y2="1332.1" stroke="#555" stroke-width="1.3" />
<text x="1720.4" y="1361.4" font-size="24" text-anchor="middle">25</text>
<line x1="1770.4" y1="1320.4" x2="1770.4" y2="1332.1" stroke="#555" stroke-width="1.3" />
<text x="1770.4" y="1361.4" font-size="24" text-anchor="middle">50</text>
<line x1="1820" y1="1320.4" x2="1820" y2="1332.1" stroke="#555" stroke-width="1.3" />
<text x="1820" y="1361.4" font-size="24" text-anchor="middle">75</text>
<line x1="1869.7" y1="1320.4" x2="1869.7" y2="1332.1" stroke="#555" stroke-width="1.3" />
<text x="1869.7" y="1361.4" font-size="24" text-anchor="middle">100</text>
<line x1="1889.3" y1="1320.4" x2="2107.8" y2="1320.4" stroke="#333" stroke-width="1.3" />
<line x1="1899" y1="1320.4" x2="1899" y2="1332.1" stroke="#555" stroke-width="1.3" />
<text x="1899" y="1361.4" font-size="24" text-anchor="middle">0</text>
<line x1="1948.7" y1="1320.4" x2="1948.7" y2="1332.1" stroke="#555" stroke-width="1.3" />
<text x="1948.7" y="1361.4" font-size="24" text-anchor="middle">25</text>
<line x1="1998.7" y1="1320.4" x2="1998.7" y2="1332.1" stroke="#555" stroke-width="1.3" />
<text x="1998.7" y="1361.4" font-size="24" text-anchor="middle">50</text>
<line x1="2048" y1="1320.4" x2="2048" y2="1332.1" stroke="#555" stroke-width="1.3" />
<text x="2048" y="1361.4" font-size="24" text-anchor="middle">75</text>
<line x1="2097.7" y1="1320.4" x2="2097.7" y2="1332.1" stroke="#555" stroke-width="1.3" />
<text x="2097.7" y="1361.4" font-size="24" text-anchor="middle">100</text>
<g>
<circle cx="1807.4" cy="994.4" r="7.2" fill="#29336f"/>
<circle cx="1763.4" cy="1052.9" r="7.2" fill="#6d98d1"/>
<circle cx="1712.4" cy="1090.3" r="7.2" fill="#6d98d1"/>
<circle cx="1803.1" cy="1092.8" r="7.2" fill="#29336f"/>
<circle cx="1791.4" cy="1112.3" r="7.2" fill="#6d98d1"/>
<circle cx="1770.5" cy="1131" r="7.2" fill="#6d98d1"/>
<circle cx="1774.7" cy="1133.7" r="7.2" fill="#29336f"/>
<circle cx="1779.8" cy="1141.5" r="7.2" fill="#29336f"/>
<circle cx="1746.9" cy="1139.5" r="7.2" fill="#6d98d1"/>
<circle cx="1739.9" cy="1149.3" r="7.2" fill="#29336f"/>
<circle cx="1764.5" cy="1159.1" r="7.2" fill="#6d98d1"/>
<circle cx="1773.9" cy="1152.4" r="7.2" fill="#29336f"/>
<circle cx="1784" cy="1152.9" r="7.2" fill="#29336f"/>
<circle cx="1805.9" cy="1162.6" r="7.2" fill="#6d98d1"/>
<circle cx="1841.5" cy="1166.9" r="7.2" fill="#29336f"/>
<circle cx="1773.6" cy="1180" r="7.2" fill="#6d98d1"/>
<circle cx="1715.4" cy="1187.1" r="7.2" fill="#6d98d1"/>
<circle cx="1744.7" cy="1191.1" r="7.2" fill="#6d98d1"/>
<circle cx="1759.9" cy="1193.8" r="7.2" fill="#6d98d1"/>
<circle cx="1839.9" cy="1195" r="7.2" fill="#6d98d1"/>
<circle cx="1705.6" cy="1203.1" r="7.2" fill="#29336f"/>
<circle cx="1751" cy="1201.6" r="7.2" fill="#6d98d1"/>
<circle cx="1753.6" cy="1206.2" r="7.2" fill="#6d98d1"/>
<circle cx="1750.5" cy="1207.8" r="7.2" fill="#29336f"/>
<circle cx="1769.2" cy="1212.5" r="7.2" fill="#29336f"/>
<circle cx="1752.8" cy="1217.9" r="7.2" fill="#29336f"/>
<circle cx="1836.8" cy="1213.3" r="7.2" fill="#6d98d1"/>
<circle cx="1853.5" cy="1217.9" r="7.2" fill="#6d98d1"/>
<circle cx="1717" cy="1223.7" r="7.2" fill="#6d98d1"/>
<circle cx="1717.7" cy="1227.3" r="7.2" fill="#6d98d1"/>
<circle cx="1771.6" cy="1226.2" r="7.2" fill="#29336f"/>
<circle cx="1771.1" cy="1229.6" r="7.2" fill="#6d98d1"/>
<circle cx="1778.6" cy="1230.4" r="7.2" fill="#29336f"/>
<circle cx="1789.5" cy="1228.9" r="7.2" fill="#6d98d1"/>
<circle cx="1730.2" cy="1234.3" r="7.2" fill="#6d98d1"/>
<circle cx="1719.3" cy="1235.9" r="7.2" fill="#29336f"/>
<circle cx="1708.4" cy="1239.8" r="7.2" fill="#29336f"/>
<circle cx="1706" cy="1243.7" r="7.2" fill="#6d98d1"/>
<circle cx="1742.2" cy="1238.2" r="7.2" fill="#6d98d1"/>
<circle cx="1742.7" cy="1245.3" r="7.2" fill="#6d98d1"/>
<circle cx="1809.3" cy="1239.3" r="7.2" fill="#29336f"/>
<circle cx="1772" cy="1251.5" r="7.2" fill="#29336f"/>
<circle cx="1691.2" cy="1254.6" r="7.2" fill="#6d98d1"/>
<circle cx="1693.5" cy="1262.4" r="7.2" fill="#29336f"/>
<circle cx="1714.6" cy="1262.4" r="7.2" fill="#29336f"/>
<circle cx="1724" cy="1264.8" r="7.2" fill="#29336f"/>
<circle cx="1724" cy="1265.5" r="7.2" fill="#6d98d1"/>
<circle cx="1734.4" cy="1260.9" r="7.2" fill="#29336f"/>
<circle cx="1704.2" cy="1271.8" r="7.2" fill="#6d98d1"/>
<circle cx="1706.8" cy="1279.6" r="7.2" fill="#6d98d1"/>
<circle cx="1704.2" cy="1285.8" r="7.2" fill="#6d98d1"/>
<circle cx="1760.6" cy="1274.1" r="7.2" fill="#6d98d1"/>
<circle cx="1788.7" cy="1274.9" r="7.2" fill="#29336f"/>
<circle cx="1749.4" cy="1285" r="7.2" fill="#6d98d1"/>
<circle cx="1826.6" cy="1284.3" r="7.2" fill="#29336f"/>
<circle cx="1679.5" cy="1301.4" r="7.2" fill="#6d98d1"/>
<circle cx="1701" cy="1300.6" r="7.2" fill="#29336f"/>
<circle cx="1737.5" cy="1301.4" r="7.2" fill="#6d98d1"/>
</g>
<g fill="none" stroke="#000" stroke-width="1.4">
<circle cx="1807.4" cy="994.4" r="7.2"/>
<circle cx="1763.4" cy="1052.9" r="7.2"/>
<circle cx="1712.4" cy="1090.3" r="7.2"/>
<circle cx="1803.1" cy="1092.8" r="7.2"/>
<circle cx="1791.4" cy="1112.3" r="7.2"/>
<circle cx="1770.5" cy="1131" r="7.2"/>
<circle cx="1774.7" cy="1133.7" r="7.2"/>
<circle cx="1779.8" cy="1141.5" r="7.2"/>
<circle cx="1746.9" cy="1139.5" r="7.2"/>
<circle cx="1739.9" cy="1149.3" r="7.2"/>
<circle cx="1764.5" cy="1159.1" r="7.2"/>
<circle cx="1773.9" cy="1152.4" r="7.2"/>
<circle cx="1784" cy="1152.9" r="7.2"/>
<circle cx="1805.9" cy="1162.6" r="7.2"/>
<circle cx="1841.5" cy="1166.9" r="7.2"/>
<circle cx="1773.6" cy="1180" r="7.2"/>
<circle cx="1715.4" cy="1187.1" r="7.2"/>
<circle cx="1744.7" cy="1191.1" r="7.2"/>
<circle cx="1759.9" cy="1193.8" r="7.2"/>
<circle cx="1839.9" cy="1195" r="7.2"/>
<circle cx="1705.6" cy="1203.1" r="7.2"/>
<circle cx="1751" cy="1201.6" r="7.2"/>
<circle cx="1753.6" cy="1206.2" r="7.2"/>
<circle cx="1750.5" cy="1207.8" r="7.2"/>
<circle cx="1769.2" cy="1212.5" r="7.2"/>
<circle cx="1752.8" cy="1217.9" r="7.2"/>
<circle cx="1836.8" cy="1213.3" r="7.2"/>
<circle cx="1853.5" cy="1217.9" r="7.2"/>
<circle cx="1717" cy="1223.7" r="7.2"/>
<circle cx="1717.7" cy="1227.3" r="7.2"/>
<circle cx="1771.6" cy="1226.2" r="7.2"/>
<circle cx="1771.1" cy="1229.6" r="7.2"/>
<circle cx="1778.6" cy="1230.4" r="7.2"/>
<circle cx="1789.5" cy="1228.9" r="7.2"/>
<circle cx="1730.2" cy="1234.3" r="7.2"/>
<circle cx="1719.3" cy="1235.9" r="7.2"/>
<circle cx="1708.4" cy="1239.8" r="7.2"/>
<circle cx="1706" cy="1243.7" r="7.2"/>
<circle cx="1742.2" cy="1238.2" r="7.2"/>
<circle cx="1742.7" cy="1245.3" r="7.2"/>
<circle cx="1809.3" cy="1239.3" r="7.2"/>
<circle cx="1772" cy="1251.5" r="7.2"/>
<circle cx="1691.2" cy="1254.6" r="7.2"/>
<circle cx="1693.5" cy="1262.4" r="7.2"/>
<circle cx="1714.6" cy="1262.4" r="7.2"/>
<circle cx="1724" cy="1264.8" r="7.2"/>
<circle cx="1724" cy="1265.5" r="7.2"/>
<circle cx="1734.4" cy="1260.9" r="7.2"/>
<circle cx="1704.2" cy="1271.8" r="7.2"/>
<circle cx="1706.8" cy="1279.6" r="7.2"/>
<circle cx="1704.2" cy="1285.8" r="7.2"/>
<circle cx="1760.6" cy="1274.1" r="7.2"/>
<circle cx="1788.7" cy="1274.9" r="7.2"/>
<circle cx="1749.4" cy="1285" r="7.2"/>
<circle cx="1826.6" cy="1284.3" r="7.2"/>
<circle cx="1679.5" cy="1301.4" r="7.2"/>
<circle cx="1701" cy="1300.6" r="7.2"/>
<circle cx="1737.5" cy="1301.4" r="7.2"/>
</g>
<path d="M1679.5 1223.9L1686.8 1222.6L1694 1221.3L1701.3 1220L1708.6 1218.6L1715.8 1217.2L1723.1 1215.6L1730.4 1213.9L1737.6 1211.7L1744.9 1208.9L1752.2 1204.8L1759.4 1199.7L1766.7 1193.7L1774 1187.4L1781.2 1180.8L1788.5 1174L1795.8 1167.1L1803 1160.2L1810.3 1153.3L1817.6 1146.3L1824.8 1139.3L1832.1 1132.3L1839.4 1125.2L1846.6 1118.2L1853.9 1111.2L1853.9 1190.7L1846.6 1192.3L1839.4 1194L1832.1 1195.7L1824.8 1197.4L1817.6 1199.1L1810.3 1200.8L1803 1202.5L1795.8 1204.3L1788.5 1206.2L1781.2 1208.1L1774 1210.2L1766.7 1212.6L1759.4 1215.4L1752.2 1218.9L1744.9 1223.6L1737.6 1229.4L1730.4 1236L1723.1 1242.9L1715.8 1250.1L1708.6 1257.3L1701.3 1264.7L1694 1272.1L1686.8 1279.5L1679.5 1286.9Z" fill="#999" fill-opacity="0.3"/>
<line x1="1679.5" y1="1255.4" x2="1853.9" y2="1150.9" stroke="#000" stroke-width="1.2" />
<g>
<circle cx="1922.8" cy="1001.8" r="7.2" fill="#f9a535"/>
<circle cx="1982.1" cy="1022.1" r="7.2" fill="#f9a535"/>
<circle cx="1961" cy="1061.4" r="7.2" fill="#f9a535"/>
<circle cx="1993" cy="1077.1" r="7.2" fill="#f9a535"/>
<circle cx="1918.4" cy="1131.3" r="7.2" fill="#f9a535"/>
<circle cx="1913.4" cy="1142" r="7.2" fill="#f9a535"/>
<circle cx="1936.3" cy="1162.6" r="7.2" fill="#f9a535"/>
<circle cx="1912.3" cy="1188.3" r="7.2" fill="#f9a535"/>
<circle cx="1934" cy="1188.3" r="7.2" fill="#f9a535"/>
<circle cx="1916.8" cy="1196.1" r="7.2" fill="#f9a535"/>
<circle cx="1945.4" cy="1200" r="7.2" fill="#f9a535"/>
<circle cx="1920" cy="1205.5" r="7.2" fill="#f9a535"/>
<circle cx="1987.2" cy="1196.1" r="7.2" fill="#f9a535"/>
<circle cx="2022.6" cy="1205.2" r="7.2" fill="#f9a535"/>
<circle cx="2062.9" cy="1230.9" r="7.2" fill="#f9a535"/>
<circle cx="1918.1" cy="1228.1" r="7.2" fill="#f9a535"/>
<circle cx="1922.8" cy="1226.5" r="7.2" fill="#f9a535"/>
<circle cx="1931.3" cy="1226.5" r="7.2" fill="#f9a535"/>
<circle cx="1964.9" cy="1217.2" r="7.2" fill="#f9a535"/>
<circle cx="1961" cy="1219.5" r="7.2" fill="#f9a535"/>
<circle cx="1978.9" cy="1226.5" r="7.2" fill="#f9a535"/>
<circle cx="1994.5" cy="1234" r="7.2" fill="#f9a535"/>
<circle cx="1963.3" cy="1234.3" r="7.2" fill="#f9a535"/>
<circle cx="1968" cy="1240.6" r="7.2" fill="#f9a535"/>
<circle cx="1979.7" cy="1245.3" r="7.2" fill="#f9a535"/>
<circle cx="1991.4" cy="1246.8" r="7.2" fill="#f9a535"/>
<circle cx="1932.1" cy="1242.1" r="7.2" fill="#f9a535"/>
<circle cx="1964.9" cy="1249.9" r="7.2" fill="#f9a535"/>
<circle cx="1969.6" cy="1253.8" r="7.2" fill="#f9a535"/>
<circle cx="1915" cy="1254.3" r="7.2" fill="#f9a535"/>
<circle cx="1946.5" cy="1259" r="7.2" fill="#f9a535"/>
<circle cx="1957.9" cy="1260.1" r="7.2" fill="#f9a535"/>
<circle cx="1986.7" cy="1254.6" r="7.2" fill="#f9a535"/>
<circle cx="1991.4" cy="1260.9" r="7.2" fill="#f9a535"/>
<circle cx="2009.4" cy="1253.8" r="7.2" fill="#f9a535"/>
<circle cx="2021.1" cy="1245.3" r="7.2" fill="#f9a535"/>
<circle cx="2021.8" cy="1259.3" r="7.2" fill="#f9a535"/>
<circle cx="2036.7" cy="1250.7" r="7.2" fill="#f9a535"/>
<circle cx="2040.6" cy="1256.2" r="7.2" fill="#f9a535"/>
<circle cx="2002.3" cy="1266.3" r="7.2" fill="#f9a535"/>
<circle cx="2043.7" cy="1266.3" r="7.2" fill="#f9a535"/>
<circle cx="2035.1" cy="1271.8" r="7.2" fill="#f9a535"/>
<circle cx="2039.8" cy="1267.1" r="7.2" fill="#f9a535"/>
<circle cx="1905.6" cy="1279.6" r="7.2" fill="#f9a535"/>
<circle cx="1913.4" cy="1276.5" r="7.2" fill="#f9a535"/>
<circle cx="1921.2" cy="1273.3" r="7.2" fill="#f9a535"/>
<circle cx="1927.4" cy="1271.8" r="7.2" fill="#f9a535"/>
<circle cx="1936.8" cy="1277.2" r="7.2" fill="#f9a535"/>
<circle cx="1952.4" cy="1276.5" r="7.2" fill="#f9a535"/>
<circle cx="1961.8" cy="1279.6" r="7.2" fill="#f9a535"/>
<circle cx="1986" cy="1277.2" r="7.2" fill="#f9a535"/>
<circle cx="1999.2" cy="1276.5" r="7.2" fill="#f9a535"/>
<circle cx="1999.2" cy="1281.9" r="7.2" fill="#f9a535"/>
<circle cx="1907.9" cy="1291.3" r="7.2" fill="#f9a535"/>
<circle cx="1924.3" cy="1290.5" r="7.2" fill="#f9a535"/>
<circle cx="1934.5" cy="1294.4" r="7.2" fill="#f9a535"/>
<circle cx="1941.5" cy="1289.7" r="7.2" fill="#f9a535"/>
<circle cx="1954" cy="1292.1" r="7.2" fill="#f9a535"/>
<circle cx="1966.5" cy="1285" r="7.2" fill="#f9a535"/>
<circle cx="1972.7" cy="1296" r="7.2" fill="#f9a535"/>
<circle cx="1979.7" cy="1288.2" r="7.2" fill="#f9a535"/>
<circle cx="2016.4" cy="1285" r="7.2" fill="#f9a535"/>
<circle cx="2025.7" cy="1292.8" r="7.2" fill="#f9a535"/>
<circle cx="2039" cy="1282.7" r="7.2" fill="#f9a535"/>
<circle cx="2050.7" cy="1288.2" r="7.2" fill="#f9a535"/>
<circle cx="2073.3" cy="1283.5" r="7.2" fill="#f9a535"/>
<circle cx="2083.5" cy="1286.6" r="7.2" fill="#f9a535"/>
<circle cx="1998.4" cy="1295.2" r="7.2" fill="#f9a535"/>
<circle cx="1910.3" cy="1281.1" r="7.2" fill="#f9a535"/>
<circle cx="1916.5" cy="1278.8" r="7.2" fill="#f9a535"/>
<circle cx="1919.6" cy="1281.9" r="7.2" fill="#f9a535"/>
<circle cx="1923.5" cy="1276.5" r="7.2" fill="#f9a535"/>
<circle cx="1926.7" cy="1280.4" r="7.2" fill="#f9a535"/>
<circle cx="1915" cy="1285.8" r="7.2" fill="#f9a535"/>
<circle cx="1929" cy="1284.3" r="7.2" fill="#f9a535"/>
</g>
<g fill="none" stroke="#000" stroke-width="1.4">
<circle cx="1922.8" cy="1001.8" r="7.2"/>
<circle cx="1982.1" cy="1022.1" r="7.2"/>
<circle cx="1961" cy="1061.4" r="7.2"/>
<circle cx="1993" cy="1077.1" r="7.2"/>
<circle cx="1918.4" cy="1131.3" r="7.2"/>
<circle cx="1913.4" cy="1142" r="7.2"/>
<circle cx="1936.3" cy="1162.6" r="7.2"/>
<circle cx="1912.3" cy="1188.3" r="7.2"/>
<circle cx="1934" cy="1188.3" r="7.2"/>
<circle cx="1916.8" cy="1196.1" r="7.2"/>
<circle cx="1945.4" cy="1200" r="7.2"/>
<circle cx="1920" cy="1205.5" r="7.2"/>
<circle cx="1987.2" cy="1196.1" r="7.2"/>
<circle cx="2022.6" cy="1205.2" r="7.2"/>
<circle cx="2062.9" cy="1230.9" r="7.2"/>
<circle cx="1918.1" cy="1228.1" r="7.2"/>
<circle cx="1922.8" cy="1226.5" r="7.2"/>
<circle cx="1931.3" cy="1226.5" r="7.2"/>
<circle cx="1964.9" cy="1217.2" r="7.2"/>
<circle cx="1961" cy="1219.5" r="7.2"/>
<circle cx="1978.9" cy="1226.5" r="7.2"/>
<circle cx="1994.5" cy="1234" r="7.2"/>
<circle cx="1963.3" cy="1234.3" r="7.2"/>
<circle cx="1968" cy="1240.6" r="7.2"/>
<circle cx="1979.7" cy="1245.3" r="7.2"/>
<circle cx="1991.4" cy="1246.8" r="7.2"/>
<circle cx="1932.1" cy="1242.1" r="7.2"/>
<circle cx="1964.9" cy="1249.9" r="7.2"/>
<circle cx="1969.6" cy="1253.8" r="7.2"/>
<circle cx="1915" cy="1254.3" r="7.2"/>
<circle cx="1946.5" cy="1259" r="7.2"/>
<circle cx="1957.9" cy="1260.1" r="7.2"/>
<circle cx="1986.7" cy="1254.6" r="7.2"/>
<circle cx="1991.4" cy="1260.9" r="7.2"/>
<circle cx="2009.4" cy="1253.8" r="7.2"/>
<circle cx="2021.1" cy="1245.3" r="7.2"/>
<circle cx="2021.8" cy="1259.3" r="7.2"/>
<circle cx="2036.7" cy="1250.7" r="7.2"/>
<circle cx="2040.6" cy="1256.2" r="7.2"/>
<circle cx="2002.3" cy="1266.3" r="7.2"/>
<circle cx="2043.7" cy="1266.3" r="7.2"/>
<circle cx="2035.1" cy="1271.8" r="7.2"/>
<circle cx="2039.8" cy="1267.1" r="7.2"/>
<circle cx="1905.6" cy="1279.6" r="7.2"/>
<circle cx="1913.4" cy="1276.5" r="7.2"/>
<circle cx="1921.2" cy="1273.3" r="7.2"/>
<circle cx="1927.4" cy="1271.8" r="7.2"/>
<circle cx="1936.8" cy="1277.2" r="7.2"/>
<circle cx="1952.4" cy="1276.5" r="7.2"/>
<circle cx="1961.8" cy="1279.6" r="7.2"/>
<circle cx="1986" cy="1277.2" r="7.2"/>
<circle cx="1999.2" cy="1276.5" r="7.2"/>
<circle cx="1999.2" cy="1281.9" r="7.2"/>
<circle cx="1907.9" cy="1291.3" r="7.2"/>
<circle cx="1924.3" cy="1290.5" r="7.2"/>
<circle cx="1934.5" cy="1294.4" r="7.2"/>
<circle cx="1941.5" cy="1289.7" r="7.2"/>
<circle cx="1954" cy="1292.1" r="7.2"/>
<circle cx="1966.5" cy="1285" r="7.2"/>
<circle cx="1972.7" cy="1296" r="7.2"/>
<circle cx="1979.7" cy="1288.2" r="7.2"/>
<circle cx="2016.4" cy="1285" r="7.2"/>
<circle cx="2025.7" cy="1292.8" r="7.2"/>
<circle cx="2039" cy="1282.7" r="7.2"/>
<circle cx="2050.7" cy="1288.2" r="7.2"/>
<circle cx="2073.3" cy="1283.5" r="7.2"/>
<circle cx="2083.5" cy="1286.6" r="7.2"/>
<circle cx="1998.4" cy="1295.2" r="7.2"/>
<circle cx="1910.3" cy="1281.1" r="7.2"/>
<circle cx="1916.5" cy="1278.8" r="7.2"/>
<circle cx="1919.6" cy="1281.9" r="7.2"/>
<circle cx="1923.5" cy="1276.5" r="7.2"/>
<circle cx="1926.7" cy="1280.4" r="7.2"/>
<circle cx="1915" cy="1285.8" r="7.2"/>
<circle cx="1929" cy="1284.3" r="7.2"/>
</g>
<path d="M2011.3 1235.5L2030.9 1255.1M2011.3 1255.1L2030.9 1235.5M1898.1 1281.5L1917.7 1301.1M1898.1 1301.1L1917.7 1281.5M2029.2 1272.9L2048.8 1292.5M2029.2 1292.5L2048.8 1272.9M1905.2 1276L1924.8 1295.6M1905.2 1295.6L1924.8 1276" stroke="#000" stroke-width="1.2" fill="none"/>
<path d="M1905.6 1195.7L1912.3 1199.7L1919 1203.6L1925.6 1207.5L1932.3 1211.4L1939 1215.2L1945.7 1219L1952.4 1222.8L1959.1 1226.4L1965.8 1229.8L1972.4 1233L1979.1 1235.7L1985.8 1238L1992.5 1239.4L1999.2 1240L2005.8 1240.1L2012.5 1239.8L2019.2 1239.5L2025.9 1239L2032.6 1238.5L2039.3 1237.9L2046 1237.3L2052.6 1236.7L2059.3 1236L2066 1235.4L2066 1304L2059.3 1299.2L2052.6 1294.5L2046 1289.7L2039.3 1285L2032.6 1280.3L2025.9 1275.7L2019.2 1271.1L2012.5 1266.6L2005.8 1262.3L1999.2 1258.3L1992.5 1254.7L1985.8 1252L1979.1 1250.2L1972.4 1248.8L1965.8 1247.9L1959.1 1247.2L1952.4 1246.7L1945.7 1246.3L1939 1245.9L1932.3 1245.7L1925.6 1245.4L1919 1245.2L1912.3 1245.1L1905.6 1244.9Z" fill="#999" fill-opacity="0.3"/>
<line x1="1905.6" y1="1220.3" x2="2066" y2="1269.7" stroke="#000" stroke-width="1.2" />
<line x1="2066" y1="1269.7" x2="2084" y2="1274.6" stroke="#000" stroke-width="1.2" />
<text x="1670.3" y="977.1" font-size="20.6"><tspan font-style="italic">r</tspan> = 0.46 , <tspan font-style="italic">P</tspan> = 0.00024</text>
<text x="1907.7" y="977.1" font-size="20.6"><tspan font-style="italic">r</tspan> = −0.16, <tspan font-style="italic">P</tspan> = 0.17</text>
<text x="1771.1" y="1400.1" font-size="24.5">PD-1<tspan font-size="16" dy="-10">+</tspan><tspan dy="10"> (Vδ1</tspan><tspan font-size="16" dy="-10">+</tspan><tspan dy="10"> cells %)</tspan></text>
<text x="0" y="0" font-size="24.5" text-anchor="middle" transform="translate(1537 1142) rotate(-90)">CD4<tspan font-size="16" dy="-10">+</tspan><tspan font-size="16" dx="-10" dy="21">EM</tspan><tspan dy="-11"> cells ml</tspan><tspan font-size="16" dy="-10">−1</tspan></text>
<rect x="1029.2" y="1427.2" width="225" height="28.7" fill="#fff" stroke="#666" stroke-width="1.3"/>
<text x="1141.7" y="1449.7" font-size="24.5" text-anchor="middle">Control</text>
<rect x="1263.7" y="1427.2" width="225" height="28.7" fill="#fff" stroke="#666" stroke-width="1.3"/>
<text x="1376.2" y="1449.7" font-size="24.5" text-anchor="middle">COVID-19</text>
<path d="M1029.2 1455.9V1820.3" stroke="#333" stroke-width="1.3" fill="none"/>
<line x1="1017.7" y1="1511.4" x2="1029.2" y2="1511.4" stroke="#555" stroke-width="1.3" />
<text x="1005.2" y="1519.7" font-size="23.5" text-anchor="end">1.5</text>
<line x1="1017.7" y1="1608.7" x2="1029.2" y2="1608.7" stroke="#555" stroke-width="1.3" />
<text x="1005.2" y="1617" font-size="23.5" text-anchor="end">1.0</text>
<line x1="1017.7" y1="1706" x2="1029.2" y2="1706" stroke="#555" stroke-width="1.3" />
<text x="1005.2" y="1714.3" font-size="23.5" text-anchor="end">0.5</text>
<line x1="1017.7" y1="1802.9" x2="1029.2" y2="1802.9" stroke="#555" stroke-width="1.3" />
<text x="1005.2" y="1811.2" font-size="23.5" text-anchor="end">0</text>
<line x1="1029.2" y1="1820.3" x2="1254.2" y2="1820.3" stroke="#333" stroke-width="1.3" />
<line x1="1039.7" y1="1820.3" x2="1039.7" y2="1832" stroke="#555" stroke-width="1.3" />
<text x="1039.7" y="1861.3" font-size="24" text-anchor="middle">0</text>
<line x1="1108" y1="1820.3" x2="1108" y2="1832" stroke="#555" stroke-width="1.3" />
<text x="1108" y="1861.3" font-size="24" text-anchor="middle">10</text>
<line x1="1176.2" y1="1820.3" x2="1176.2" y2="1832" stroke="#555" stroke-width="1.3" />
<text x="1176.2" y="1861.3" font-size="24" text-anchor="middle">20</text>
<line x1="1244.1" y1="1820.3" x2="1244.1" y2="1832" stroke="#555" stroke-width="1.3" />
<text x="1244.1" y="1861.3" font-size="24" text-anchor="middle">30</text>
<line x1="1263.7" y1="1820.3" x2="1488.7" y2="1820.3" stroke="#333" stroke-width="1.3" />
<line x1="1274.2" y1="1820.3" x2="1274.2" y2="1832" stroke="#555" stroke-width="1.3" />
<text x="1274.2" y="1861.3" font-size="24" text-anchor="middle">0</text>
<line x1="1342.1" y1="1820.3" x2="1342.1" y2="1832" stroke="#555" stroke-width="1.3" />
<text x="1342.1" y="1861.3" font-size="24" text-anchor="middle">10</text>
<line x1="1410.7" y1="1820.3" x2="1410.7" y2="1832" stroke="#555" stroke-width="1.3" />
<text x="1410.7" y="1861.3" font-size="24" text-anchor="middle">20</text>
<line x1="1478.5" y1="1820.3" x2="1478.5" y2="1832" stroke="#555" stroke-width="1.3" />
<text x="1478.5" y="1861.3" font-size="24" text-anchor="middle">30</text>
<g>
<circle cx="1122.5" cy="1553.6" r="7.2" fill="#29336f"/>
<circle cx="1072.6" cy="1576.7" r="7.2" fill="#6d98d1"/>
<circle cx="1101.5" cy="1574.6" r="7.2" fill="#29336f"/>
<circle cx="1135.7" cy="1571.2" r="7.2" fill="#29336f"/>
<circle cx="1112.2" cy="1596.2" r="7.2" fill="#6d98d1"/>
<circle cx="1110.5" cy="1598.4" r="7.2" fill="#6d98d1"/>
<circle cx="1100.2" cy="1607.2" r="7.2" fill="#6d98d1"/>
<circle cx="1114" cy="1611.6" r="7.2" fill="#29336f"/>
<circle cx="1143.1" cy="1603.2" r="7.2" fill="#6d98d1"/>
<circle cx="1053.9" cy="1629.2" r="7.2" fill="#29336f"/>
<circle cx="1120.3" cy="1638.1" r="7.2" fill="#6d98d1"/>
<circle cx="1129.1" cy="1637.3" r="7.2" fill="#6d98d1"/>
<circle cx="1129.9" cy="1641" r="7.2" fill="#29336f"/>
<circle cx="1146.8" cy="1649.1" r="7.2" fill="#6d98d1"/>
<circle cx="1144.3" cy="1655.4" r="7.2" fill="#6d98d1"/>
<circle cx="1097.9" cy="1658.3" r="7.2" fill="#6d98d1"/>
<circle cx="1110.5" cy="1665.2" r="7.2" fill="#29336f"/>
<circle cx="1134.3" cy="1668.9" r="7.2" fill="#29336f"/>
<circle cx="1150.4" cy="1663.8" r="7.2" fill="#29336f"/>
<circle cx="1140.1" cy="1670.4" r="7.2" fill="#6d98d1"/>
<circle cx="1163.6" cy="1664.5" r="7.2" fill="#6d98d1"/>
<circle cx="1161.4" cy="1672.6" r="7.2" fill="#6d98d1"/>
<circle cx="1084" cy="1674.8" r="7.2" fill="#29336f"/>
<circle cx="1091.7" cy="1679.5" r="7.2" fill="#6d98d1"/>
<circle cx="1128.4" cy="1679.2" r="7.2" fill="#6d98d1"/>
<circle cx="1138.7" cy="1683.6" r="7.2" fill="#6d98d1"/>
<circle cx="1106.4" cy="1688" r="7.2" fill="#6d98d1"/>
<circle cx="1118.1" cy="1690.9" r="7.2" fill="#6d98d1"/>
<circle cx="1080.2" cy="1695.3" r="7.2" fill="#29336f"/>
<circle cx="1103" cy="1696.8" r="7.2" fill="#29336f"/>
<circle cx="1113.4" cy="1695.3" r="7.2" fill="#29336f"/>
<circle cx="1154.1" cy="1691.7" r="7.2" fill="#29336f"/>
<circle cx="1185.7" cy="1693.6" r="7.2" fill="#29336f"/>
<circle cx="1145" cy="1702.4" r="7.2" fill="#29336f"/>
<circle cx="1099.3" cy="1715.9" r="7.2" fill="#6d98d1"/>
<circle cx="1111.2" cy="1715.9" r="7.2" fill="#29336f"/>
<circle cx="1124" cy="1718.8" r="7.2" fill="#6d98d1"/>
<circle cx="1139.4" cy="1723.2" r="7.2" fill="#29336f"/>
<circle cx="1148.7" cy="1715.2" r="7.2" fill="#29336f"/>
<circle cx="1071.9" cy="1730.6" r="7.2" fill="#29336f"/>
<circle cx="1098.3" cy="1733.5" r="7.2" fill="#29336f"/>
<circle cx="1102.4" cy="1744.5" r="7.2" fill="#6d98d1"/>
<circle cx="1128.7" cy="1730.6" r="7.2" fill="#6d98d1"/>
<circle cx="1180.1" cy="1722.5" r="7.2" fill="#29336f"/>
<circle cx="1140.9" cy="1742.3" r="7.2" fill="#29336f"/>
<circle cx="1161.7" cy="1749.7" r="7.2" fill="#29336f"/>
<circle cx="1169.1" cy="1759.2" r="7.2" fill="#29336f"/>
<circle cx="1126.2" cy="1755.5" r="7.2" fill="#29336f"/>
<circle cx="1131.3" cy="1751.9" r="7.2" fill="#6d98d1"/>
<circle cx="1123.7" cy="1765.1" r="7.2" fill="#6d98d1"/>
<circle cx="1126.2" cy="1773.2" r="7.2" fill="#6d98d1"/>
<circle cx="1103" cy="1801.1" r="7.2" fill="#6d98d1"/>
</g>
<g fill="none" stroke="#000" stroke-width="1.4">
<circle cx="1122.5" cy="1553.6" r="7.2"/>
<circle cx="1072.6" cy="1576.7" r="7.2"/>
<circle cx="1101.5" cy="1574.6" r="7.2"/>
<circle cx="1135.7" cy="1571.2" r="7.2"/>
<circle cx="1112.2" cy="1596.2" r="7.2"/>
<circle cx="1110.5" cy="1598.4" r="7.2"/>
<circle cx="1100.2" cy="1607.2" r="7.2"/>
<circle cx="1114" cy="1611.6" r="7.2"/>
<circle cx="1143.1" cy="1603.2" r="7.2"/>
<circle cx="1053.9" cy="1629.2" r="7.2"/>
<circle cx="1120.3" cy="1638.1" r="7.2"/>
<circle cx="1129.1" cy="1637.3" r="7.2"/>
<circle cx="1129.9" cy="1641" r="7.2"/>
<circle cx="1146.8" cy="1649.1" r="7.2"/>
<circle cx="1144.3" cy="1655.4" r="7.2"/>
<circle cx="1097.9" cy="1658.3" r="7.2"/>
<circle cx="1110.5" cy="1665.2" r="7.2"/>
<circle cx="1134.3" cy="1668.9" r="7.2"/>
<circle cx="1150.4" cy="1663.8" r="7.2"/>
<circle cx="1140.1" cy="1670.4" r="7.2"/>
<circle cx="1163.6" cy="1664.5" r="7.2"/>
<circle cx="1161.4" cy="1672.6" r="7.2"/>
<circle cx="1084" cy="1674.8" r="7.2"/>
<circle cx="1091.7" cy="1679.5" r="7.2"/>
<circle cx="1128.4" cy="1679.2" r="7.2"/>
<circle cx="1138.7" cy="1683.6" r="7.2"/>
<circle cx="1106.4" cy="1688" r="7.2"/>
<circle cx="1118.1" cy="1690.9" r="7.2"/>
<circle cx="1080.2" cy="1695.3" r="7.2"/>
<circle cx="1103" cy="1696.8" r="7.2"/>
<circle cx="1113.4" cy="1695.3" r="7.2"/>
<circle cx="1154.1" cy="1691.7" r="7.2"/>
<circle cx="1185.7" cy="1693.6" r="7.2"/>
<circle cx="1145" cy="1702.4" r="7.2"/>
<circle cx="1099.3" cy="1715.9" r="7.2"/>
<circle cx="1111.2" cy="1715.9" r="7.2"/>
<circle cx="1124" cy="1718.8" r="7.2"/>
<circle cx="1139.4" cy="1723.2" r="7.2"/>
<circle cx="1148.7" cy="1715.2" r="7.2"/>
<circle cx="1071.9" cy="1730.6" r="7.2"/>
<circle cx="1098.3" cy="1733.5" r="7.2"/>
<circle cx="1102.4" cy="1744.5" r="7.2"/>
<circle cx="1128.7" cy="1730.6" r="7.2"/>
<circle cx="1180.1" cy="1722.5" r="7.2"/>
<circle cx="1140.9" cy="1742.3" r="7.2"/>
<circle cx="1161.7" cy="1749.7" r="7.2"/>
<circle cx="1169.1" cy="1759.2" r="7.2"/>
<circle cx="1126.2" cy="1755.5" r="7.2"/>
<circle cx="1131.3" cy="1751.9" r="7.2"/>
<circle cx="1123.7" cy="1765.1" r="7.2"/>
<circle cx="1126.2" cy="1773.2" r="7.2"/>
<circle cx="1103" cy="1801.1" r="7.2"/>
</g>
<path d="M1054.2 1612.5L1059.7 1617.7L1065.2 1623L1070.7 1628.2L1076.2 1633.3L1081.7 1638.5L1087.2 1643.6L1092.6 1648.6L1098.1 1653.6L1103.6 1658.4L1109.1 1663L1114.6 1667.1L1120.1 1670.6L1125.6 1673.1L1131.1 1674.3L1136.6 1674.5L1142.1 1674.1L1147.6 1673.3L1153 1672.3L1158.5 1671.1L1164 1669.9L1169.5 1668.6L1175 1667.3L1180.5 1666L1186 1664.6L1186 1743.6L1180.5 1738.2L1175 1732.9L1169.5 1727.6L1164 1722.3L1158.5 1717.1L1153 1711.9L1147.6 1706.9L1142.1 1702.1L1136.6 1697.7L1131.1 1693.9L1125.6 1691.1L1120.1 1689.6L1114.6 1689.1L1109.1 1689.2L1103.6 1689.8L1098.1 1690.6L1092.6 1691.6L1087.2 1692.6L1081.7 1693.7L1076.2 1694.9L1070.7 1696L1065.2 1697.2L1059.7 1698.5L1054.2 1699.7Z" fill="#999" fill-opacity="0.3"/>
<line x1="1054.2" y1="1656.1" x2="1186" y2="1704.1" stroke="#000" stroke-width="1.2" />
<g>
<circle cx="1298.5" cy="1804.6" r="7.2" fill="#f9a535"/>
<circle cx="1291.3" cy="1795.1" r="7.2" fill="#f9a535"/>
<circle cx="1290.9" cy="1799.9" r="7.2" fill="#f9a535"/>
<circle cx="1299.2" cy="1798.9" r="7.2" fill="#f9a535"/>
<circle cx="1295.6" cy="1790.2" r="7.2" fill="#f9a535"/>
<circle cx="1281.3" cy="1793.1" r="7.2" fill="#f9a535"/>
<circle cx="1320.4" cy="1517.6" r="7.2" fill="#f9a535"/>
<circle cx="1320.8" cy="1605.7" r="7.2" fill="#f9a535"/>
<circle cx="1312.7" cy="1629.5" r="7.2" fill="#f9a535"/>
<circle cx="1433.6" cy="1642.2" r="7.2" fill="#f9a535"/>
<circle cx="1339.2" cy="1653.5" r="7.2" fill="#f9a535"/>
<circle cx="1365.3" cy="1663" r="7.2" fill="#f9a535"/>
<circle cx="1397.6" cy="1676.2" r="7.2" fill="#f9a535"/>
<circle cx="1374.7" cy="1693.6" r="7.2" fill="#f9a535"/>
<circle cx="1401.6" cy="1697.8" r="7.2" fill="#f9a535"/>
<circle cx="1331.8" cy="1706.8" r="7.2" fill="#f9a535"/>
<circle cx="1335.5" cy="1707.8" r="7.2" fill="#f9a535"/>
<circle cx="1334" cy="1713" r="7.2" fill="#f9a535"/>
<circle cx="1317.1" cy="1722.5" r="7.2" fill="#f9a535"/>
<circle cx="1318.6" cy="1729.1" r="7.2" fill="#f9a535"/>
<circle cx="1318.6" cy="1733.5" r="7.2" fill="#f9a535"/>
<circle cx="1332.6" cy="1721.8" r="7.2" fill="#f9a535"/>
<circle cx="1342.8" cy="1721" r="7.2" fill="#f9a535"/>
<circle cx="1342.1" cy="1740.9" r="7.2" fill="#f9a535"/>
<circle cx="1383.2" cy="1735.7" r="7.2" fill="#f9a535"/>
<circle cx="1397.6" cy="1728.7" r="7.2" fill="#f9a535"/>
<circle cx="1310.5" cy="1745.3" r="7.2" fill="#f9a535"/>
<circle cx="1300.2" cy="1751.1" r="7.2" fill="#f9a535"/>
<circle cx="1287.8" cy="1759.2" r="7.2" fill="#f9a535"/>
<circle cx="1325.9" cy="1751.1" r="7.2" fill="#f9a535"/>
<circle cx="1323" cy="1758.5" r="7.2" fill="#f9a535"/>
<circle cx="1335.5" cy="1761.7" r="7.2" fill="#f9a535"/>
<circle cx="1352.4" cy="1763.6" r="7.2" fill="#f9a535"/>
<circle cx="1365.6" cy="1758.5" r="7.2" fill="#f9a535"/>
<circle cx="1308.3" cy="1764.4" r="7.2" fill="#f9a535"/>
<circle cx="1307.6" cy="1771" r="7.2" fill="#f9a535"/>
<circle cx="1306.1" cy="1776.1" r="7.2" fill="#f9a535"/>
<circle cx="1323" cy="1767.3" r="7.2" fill="#f9a535"/>
<circle cx="1392.8" cy="1765.1" r="7.2" fill="#f9a535"/>
<circle cx="1338.4" cy="1785.7" r="7.2" fill="#f9a535"/>
<circle cx="1350.2" cy="1781.2" r="7.2" fill="#f9a535"/>
<circle cx="1435.8" cy="1793" r="7.2" fill="#f9a535"/>
<circle cx="1298.6" cy="1793.9" r="7.2" fill="#f9a535"/>
<circle cx="1293.5" cy="1789.2" r="7.2" fill="#f9a535"/>
<circle cx="1278.8" cy="1793.3" r="7.2" fill="#f9a535"/>
<circle cx="1296.5" cy="1800.1" r="7.2" fill="#f9a535"/>
<circle cx="1296.6" cy="1793.7" r="7.2" fill="#f9a535"/>
<circle cx="1292" cy="1796.4" r="7.2" fill="#f9a535"/>
<circle cx="1290.5" cy="1790.9" r="7.2" fill="#f9a535"/>
<circle cx="1302.9" cy="1792.2" r="7.2" fill="#f9a535"/>
<circle cx="1305.4" cy="1804" r="7.2" fill="#f9a535"/>
<circle cx="1277.5" cy="1796.3" r="7.2" fill="#f9a535"/>
<circle cx="1300.8" cy="1804.5" r="7.2" fill="#f9a535"/>
<circle cx="1290" cy="1793.3" r="7.2" fill="#f9a535"/>
<circle cx="1283.1" cy="1804.1" r="7.2" fill="#f9a535"/>
<circle cx="1283.1" cy="1798.3" r="7.2" fill="#f9a535"/>
<circle cx="1281.1" cy="1797.4" r="7.2" fill="#f9a535"/>
<circle cx="1304.6" cy="1791.1" r="7.2" fill="#f9a535"/>
<circle cx="1300.8" cy="1797.1" r="7.2" fill="#f9a535"/>
<circle cx="1302.7" cy="1800.3" r="7.2" fill="#f9a535"/>
<circle cx="1283.7" cy="1803.4" r="7.2" fill="#f9a535"/>
<circle cx="1291.1" cy="1789.4" r="7.2" fill="#f9a535"/>
</g>
<g fill="none" stroke="#000" stroke-width="1.4">
<circle cx="1298.5" cy="1804.6" r="7.2"/>
<circle cx="1291.3" cy="1795.1" r="7.2"/>
<circle cx="1290.9" cy="1799.9" r="7.2"/>
<circle cx="1299.2" cy="1798.9" r="7.2"/>
<circle cx="1295.6" cy="1790.2" r="7.2"/>
<circle cx="1281.3" cy="1793.1" r="7.2"/>
<circle cx="1320.4" cy="1517.6" r="7.2"/>
<circle cx="1320.8" cy="1605.7" r="7.2"/>
<circle cx="1312.7" cy="1629.5" r="7.2"/>
<circle cx="1433.6" cy="1642.2" r="7.2"/>
<circle cx="1339.2" cy="1653.5" r="7.2"/>
<circle cx="1365.3" cy="1663" r="7.2"/>
<circle cx="1397.6" cy="1676.2" r="7.2"/>
<circle cx="1374.7" cy="1693.6" r="7.2"/>
<circle cx="1401.6" cy="1697.8" r="7.2"/>
<circle cx="1331.8" cy="1706.8" r="7.2"/>
<circle cx="1335.5" cy="1707.8" r="7.2"/>
<circle cx="1334" cy="1713" r="7.2"/>
<circle cx="1317.1" cy="1722.5" r="7.2"/>
<circle cx="1318.6" cy="1729.1" r="7.2"/>
<circle cx="1318.6" cy="1733.5" r="7.2"/>
<circle cx="1332.6" cy="1721.8" r="7.2"/>
<circle cx="1342.8" cy="1721" r="7.2"/>
<circle cx="1342.1" cy="1740.9" r="7.2"/>
<circle cx="1383.2" cy="1735.7" r="7.2"/>
<circle cx="1397.6" cy="1728.7" r="7.2"/>
<circle cx="1310.5" cy="1745.3" r="7.2"/>
<circle cx="1300.2" cy="1751.1" r="7.2"/>
<circle cx="1287.8" cy="1759.2" r="7.2"/>
<circle cx="1325.9" cy="1751.1" r="7.2"/>
<circle cx="1323" cy="1758.5" r="7.2"/>
<circle cx="1335.5" cy="1761.7" r="7.2"/>
<circle cx="1352.4" cy="1763.6" r="7.2"/>
<circle cx="1365.6" cy="1758.5" r="7.2"/>
<circle cx="1308.3" cy="1764.4" r="7.2"/>
<circle cx="1307.6" cy="1771" r="7.2"/>
<circle cx="1306.1" cy="1776.1" r="7.2"/>
<circle cx="1323" cy="1767.3" r="7.2"/>
<circle cx="1392.8" cy="1765.1" r="7.2"/>
<circle cx="1338.4" cy="1785.7" r="7.2"/>
<circle cx="1350.2" cy="1781.2" r="7.2"/>
<circle cx="1435.8" cy="1793" r="7.2"/>
<circle cx="1298.6" cy="1793.9" r="7.2"/>
<circle cx="1293.5" cy="1789.2" r="7.2"/>
<circle cx="1278.8" cy="1793.3" r="7.2"/>
<circle cx="1296.5" cy="1800.1" r="7.2"/>
<circle cx="1296.6" cy="1793.7" r="7.2"/>
<circle cx="1292" cy="1796.4" r="7.2"/>
<circle cx="1290.5" cy="1790.9" r="7.2"/>
<circle cx="1302.9" cy="1792.2" r="7.2"/>
<circle cx="1305.4" cy="1804" r="7.2"/>
<circle cx="1277.5" cy="1796.3" r="7.2"/>
<circle cx="1300.8" cy="1804.5" r="7.2"/>
<circle cx="1290" cy="1793.3" r="7.2"/>
<circle cx="1283.1" cy="1804.1" r="7.2"/>
<circle cx="1283.1" cy="1798.3" r="7.2"/>
<circle cx="1281.1" cy="1797.4" r="7.2"/>
<circle cx="1304.6" cy="1791.1" r="7.2"/>
<circle cx="1300.8" cy="1797.1" r="7.2"/>
<circle cx="1302.7" cy="1800.3" r="7.2"/>
<circle cx="1283.7" cy="1803.4" r="7.2"/>
<circle cx="1291.1" cy="1789.4" r="7.2"/>
</g>
<path d="M1289.4 1789.1L1309 1808.7M1289.4 1808.7L1309 1789.1M1280.7 1781.1L1300.3 1800.7M1280.7 1800.7L1300.3 1781.1M1271.3 1787.6L1290.9 1807.2M1271.3 1807.2L1290.9 1787.6" stroke="#000" stroke-width="1.2" fill="none"/>
<path d="M1278.2 1747.2L1284.8 1745.9L1291.3 1744.6L1297.9 1743.1L1304.5 1741.6L1311 1740L1317.6 1738.1L1324.2 1735.9L1330.7 1733.1L1337.3 1729.5L1343.9 1725.1L1350.4 1719.8L1357 1714.1L1363.6 1708.1L1370.1 1702L1376.7 1695.7L1383.3 1689.4L1389.8 1683L1396.4 1676.6L1403 1670.2L1409.5 1663.7L1416.1 1657.2L1422.7 1650.8L1429.2 1644.3L1435.8 1637.8L1435.8 1728.8L1429.2 1729.6L1422.7 1730.3L1416.1 1731.1L1409.5 1731.9L1403 1732.6L1396.4 1733.5L1389.8 1734.3L1383.3 1735.2L1376.7 1736.1L1370.1 1737.1L1363.6 1738.1L1357 1739.4L1350.4 1740.9L1343.9 1742.9L1337.3 1745.7L1330.7 1749.4L1324.2 1753.8L1317.6 1758.8L1311 1764.2L1304.5 1769.8L1297.9 1775.5L1291.3 1781.4L1284.8 1787.3L1278.2 1793.2Z" fill="#999" fill-opacity="0.3"/>
<line x1="1278.2" y1="1770.2" x2="1435.8" y2="1683.3" stroke="#000" stroke-width="1.2" />
<text x="1050.6" y="1497.3" font-size="20.6"><tspan font-style="italic">r</tspan> = −0.12 , <tspan font-style="italic">P</tspan> = 0.38</text>
<text x="1273.1" y="1497.3" font-size="20.6"><tspan font-style="italic">r</tspan> = 0.61 , <tspan font-style="italic">P</tspan> = 3.2 × 10<tspan font-size="14" dy="-9">−6</tspan></text>
<text x="1167" y="1900.5" font-size="24.5">CD4<tspan font-size="16" dy="-10">+</tspan><tspan dy="10"> T cells (%)</tspan></text>
<text x="0" y="0" font-size="24.5" text-anchor="middle" transform="translate(953 1638) rotate(-90)">Basophils (live cells %)</text>
<text x="4" y="1897.5" font-size="32" font-weight="bold">e</text>
<path d="M453.4 2049.9Q470.1 2072.6 482.7 2097.9M459.3 2003Q467.5 2043 468.6 2083.8M527.2 1954.3Q521.4 2033.9 508.4 2112.6M461.6 2074.5L615 2059.3M452.2 2033.5Q482.4 2077.4 520.1 2115M459.3 2003L455 2013.6M492 2104.9Q556.5 2080.3 618.5 2049.9M514.3 2114.3Q493 2102.7 473.3 2088.5M618 2040.5Q550.4 2073.3 478 2093.2M453.4 2019.4L452.2 2039.3M545.9 2115.9Q530.1 2115.6 514.3 2114.3M308.6 2193.8Q299.2 2144.7 280.8 2098.2M256.5 2216.3Q239 2165 212.7 2117.7M212.7 2193.8Q265.2 2162.2 313.6 2124.7M203.5 2180.4Q215.1 2192.3 225.4 2205.3M272.8 2096.4Q237.8 2119.4 201.1 2139.6M212.7 2193.8Q218.9 2199.7 225.4 2205.3M264.8 2216.7Q285.3 2168.6 313.6 2124.7M207.7 2124.1Q213.7 2118.4 218.7 2111.8M184.2 2388.5Q208.6 2327.5 223 2263.4M243.9 2379.5L139.8 2342.7M170.3 2381.5Q194.5 2321.5 223 2263.4M237 2383.5Q246.6 2376.8 255.3 2368.9M215.1 2261.5Q238.4 2274.9 259.9 2290.9M184.2 2388.5Q199.6 2390.3 215.1 2390.8M270.4 2318.8L266.8 2303.9M230 2266Q207.2 2263.8 184.2 2263M223 2263.4L157.4 2278.6M137 2326.3Q143.9 2304.9 152 2283.9M205.1 2479.5Q213.1 2463.2 222 2447.3M774.6 2544Q769.7 2574 760 2602.8M527.2 2116.6Q370 2133.4 212.7 2117.7M502.6 2109.6Q366.9 2133.9 256.5 2216.3M515 1956.2Q365.4 2073 199.2 2164.5M618 2040.5Q472.9 2103.1 317.6 2132.1M606.8 1994.8Q390.2 2055.7 212.7 2193.8M617.3 2031.1Q423.4 2125.6 207.7 2124.1M465.1 2079.2Q379.8 2126.8 308.6 2193.8M576.3 2106.1Q436 2123.6 295.7 2106.2M492 2104.9Q374.1 2152.1 264.8 2216.7M473.3 2088.5Q351.2 2180.3 223 2263.4M465.1 2079.2Q301.6 2178.1 147.4 2290.9M463.9 1993.7Q327.1 2116 215.1 2261.5M618.5 2049.9Q447.8 2200.7 268.8 2341.7M611.5 2005.4L237 2269.4M458.1 2063.9Q309.8 2210.2 137 2326.3M616.6 2023Q591.9 2333.4 521.9 2636.8M452.7 2026.5L476.7 2622.1M457.4 2007.7Q483.3 2296.5 470.9 2586.1M585.2 2100.9L760 2528.2M455.7 2056.9Q603 2285 739.5 2519.7M557.6 2113.1Q647.3 2362.7 760 2602.8M492 1965.6Q566.3 2268 688.5 2554.5M545.9 2115.9Q614.5 2326.4 717.4 2522.4M569.3 2109.1Q406.3 2266.3 270.4 2447.3M618.5 2049.9Q438.6 2253.7 287.1 2479.5M599.8 1985.5Q650.3 2051 706.8 2111.3M459.3 2003Q584.8 2043.7 715.2 2063.5M586.9 1972.1Q433.7 2279.8 318 2603.5M603.3 1990.2Q430.6 2282.9 318 2603.5M473.3 2088.5Q707.5 2211.8 914.5 2376.7M256.5 2216.3Q243.4 2299.5 237 2383.5M240 2098.2Q246.9 2198.2 263.9 2296.9M207.1 2187.4Q215.1 2289 215.1 2390.8M308.6 2193.8L184.2 2388.5M280.8 2098.2Q563.8 2170.2 853.6 2205.4M247.9 2215.3L532.7 2631M198.8 2147.6Q384.5 2376.3 532.7 2631M295.7 2106.2Q549.8 2333.5 768.5 2595M272.8 2215.3Q503.6 2421 750.3 2607.4M240 2098.2Q457.7 2337.3 687.3 2564.9M232 2102.2L693.1 2543.6M225.4 2205.3Q505.7 2383.1 750.3 2607.4M225.4 2205.3Q485.1 2342.6 717.4 2522.4M313.6 2124.7Q498.6 2340.7 717.4 2522.4M198.8 2147.6Q441 2354.1 707.4 2528.2M232 2102.2Q257.2 2270.8 258.5 2441.3M232 2102.2Q238.4 2275.1 222 2447.3M212.7 2193.8Q203.4 2330.4 207.1 2467.2M240 2098.2Q275 2287.4 287.1 2479.5M240 2212.9Q223.1 2329.5 222 2447.3M212.7 2193.8L207.1 2491.9M312.6 2187.4Q511.9 2161.5 702.8 2099.1M259.9 2290.9Q378.9 2456.8 485.6 2631M230 2386.9Q353.1 2483.3 470.9 2586.1M266.8 2348.6Q396.1 2487.1 509.6 2638.7M215.1 2390.8L485.6 2631M215.1 2261.5Q455.7 2413.2 689.2 2575.7M207.1 2392Q441.2 2511.5 693.1 2586.1M157.4 2370.9L258.9 2517.4M230 2266L287.1 2479.5M152 2283.9L880.3 2230.8M249.9 2374.5L318 2603.5M137 2326.3Q221.3 2469 318 2603.5M230 2266L318 2603.5M222 2511.8Q375.1 2552.1 532.7 2566.8M246 2439.3Q378.5 2529.3 497.2 2636.8M278.8 2456Q390.9 2551.5 509.6 2638.7M284.8 2491.9Q519.2 2543.1 750.3 2607.4M258.9 2517.4Q573.9 2381.8 872.1 2212.5M233.4 2517.4Q529.8 2372.2 835.8 2248.6M270.4 2447.3Q558.4 2340.7 853.6 2255.9M258.9 2517.4Q557.8 2348.4 880.3 2230.8M222 2447.3Q259.4 2514.9 291.1 2585.4M222 2447.3Q451.2 2257.7 702.8 2099.1M707.4 2074.1Q776.7 2157.6 835.8 2248.6M726.1 2056.8Q733.9 2332.3 717.4 2607.4M715.2 2063.5Q705.7 2337.2 750.3 2607.4M726.1 2128.4Q758 2335.3 774.6 2544M764 2125.1Q645.4 2352.1 497.2 2561M853.6 2205.4Q819.3 2410.8 750.3 2607.4M880.3 2230.8L698.9 2595M872.1 2212.5Q795.5 2364 727.9 2519.7M853.6 2255.9Q799.3 2391.9 768.5 2535.1M872.1 2212.5L760 2602.8M853.6 2255.9Q875.3 2340.9 885.1 2428.1M717.4 2522.4L885.1 2428.1M739.5 2519.7Q830.3 2452.2 914.5 2376.7M699.7 2535.1Q811.5 2461.8 914.5 2376.7M542.4 2622.1Q654.7 2571.7 774.6 2544M521.9 2636.8Q637.5 2633.2 750.3 2607.4" stroke="#4a3cb4" stroke-width="0.5" stroke-opacity="0.2" fill="none"/>
<path d="M461.6 1998.4Q459.3 2027.7 455.7 2056.9M452.2 2039.3Q482.1 2074.6 508.4 2112.6M585.2 2100.9L452.2 2033.5M520.1 2115L465.1 2079.2M595.1 2092Q601.8 2080.9 610.3 2071M322.2 2155.9Q295.2 2128.1 272.8 2096.4M295.7 2106.2L322.2 2155.9M289.1 2209.7Q246 2196 203.5 2180.4M321 2164.5Q319.6 2172.6 317.2 2180.4M240 2212.9L207.1 2187.4M247.9 2096.8L201.1 2139.6M240 2212.9L256.5 2095.4M137.4 2334.7Q141.9 2316 143.4 2296.9M243.9 2379.5Q234.5 2323.1 230 2266M137.4 2334.7Q202.9 2341.9 268.8 2341.7M137 2318.8Q139.2 2307.5 143.4 2296.9M707.4 2074.1L715.2 2063.5M258.9 2517.4Q246.1 2518 233.4 2517.4M270.4 2447.3Q236.6 2466.5 207.1 2491.9M760 2528.2Q752.3 2567.5 750.3 2607.4M739.5 2610.5Q744.9 2608.8 750.3 2607.4M779.3 2576.5Q743.7 2590.6 707.4 2602.8M452.2 2039.3Q361 2098.5 308.6 2193.8M468.6 2083.8Q349.4 2080.8 232 2102.2M461.6 2074.5Q386 2096.5 320.2 2139.6M533.7 2117.3Q415.1 2127 312.6 2187.4M615 2059.3Q463.4 2113.2 317.2 2180.4M458.1 2063.9Q368.5 2154.9 256.5 2216.3M455.7 2056.9L321 2164.5M569.3 2109.1Q411.9 2250.7 243.9 2379.5M604.4 2081.5L143.4 2296.9M599.8 1985.5Q425.7 2134.6 263.9 2296.9M585.2 2100.9Q592 2351.6 550.1 2598.9M457.4 2007.7Q531.1 2299 550.1 2598.9M520.1 2115Q524 2368.9 542.4 2622.1M487.4 2101.4Q575.7 2361.6 707.4 2602.8M478 1976.1L779.3 2576.5M453.4 2049.9L287.1 2479.5M514.3 2114.3L258.9 2517.4M452.2 2039.3Q575.6 2073.2 702.8 2086.1M452.2 2039.3Q607.4 2060.7 764 2060.1M468.6 1985.5Q593.2 2038.1 706.8 2111.3M199.2 2164.5Q213.2 2277.3 215.1 2390.8M247.9 2215.3Q234.9 2239.1 223 2263.4M207.7 2124.1Q210.5 2258.1 207.1 2392M264.8 2216.7L147.4 2290.9M256.5 2095.4Q410.6 2321.7 532.7 2566.8M247.9 2096.8Q370.5 2343.8 532.7 2566.8M204.1 2130.7Q364.3 2374.3 550.1 2598.9M240 2098.2Q497.2 2351.3 779.3 2576.5M308.6 2193.8Q541 2384.1 780.8 2564.9M212.7 2193.8Q494.3 2383.9 750.3 2607.4M207.7 2124.1Q203.5 2295.6 207.1 2467.2M199.2 2164.5Q256.3 2318.3 287.1 2479.5M207.1 2187.4Q253.9 2331.6 287.1 2479.5M203.5 2180.4Q456.7 2157.1 706.8 2111.3M207.7 2124.1Q257.2 2353.3 291.1 2585.4M237 2269.4Q366.3 2446.7 485.6 2631M152 2283.9Q319.6 2423.6 476.7 2574.9M223 2263.4Q443.5 2432.2 687.3 2564.9M147.4 2290.9Q426.6 2409.7 687.3 2564.9M147.4 2357.6Q412.7 2470.5 688.5 2554.5M163.3 2274Q225.7 2386.2 278.8 2503M184.2 2388.5Q233.4 2436.6 287.1 2479.5M137 2318.8Q178.5 2402.8 207.1 2491.9M147.4 2357.6Q188.8 2399 222 2447.3M137 2318.8Q179.8 2384.3 233.4 2441.3M237 2269.4L880.3 2230.8M246 2439.3Q371.2 2547.7 509.6 2638.7M284.8 2467.2Q399.2 2550.3 509.6 2638.7M258.9 2517.4L497.2 2561M212.7 2503Q453.6 2560.6 698.9 2595M278.8 2456Q520.7 2268.2 739 2053.4M707.4 2074.1Q748.5 2299.4 760 2528.2M779.7 2105.1Q749.8 2354.9 707.4 2602.8M782 2092.8Q688.8 2362.7 548.2 2611.3M828.5 2230.8Q783.4 2410.4 768.5 2595M750.3 2607.4L903.7 2445.5M717.4 2607.4Q805.4 2521.7 885.1 2428.1M470.9 2586.1L760 2528.2M867 2445.5Q875.6 2455.1 885.1 2463.7" stroke="#4a3cb4" stroke-width="1" stroke-opacity="0.2" fill="none"/>
<path d="M564.6 1959Q564.2 2036.2 557.6 2113.1M611.5 2005.4Q593 1981.5 570.5 1961.4M468.6 1985.5Q482.2 2051.1 508.4 2112.6M487.4 2101.4Q526.3 2102.9 564.2 2111.9M527.2 1954.3L585.2 2100.9M478 2093.2Q468.3 2074.2 455.7 2056.9M618.5 2049.9Q613.7 2060.1 610.3 2071M240 2098.2Q268.9 2152 289.1 2209.7M204.1 2130.7L264.8 2216.7M289.1 2209.7Q249.8 2164.7 212.7 2117.7M272.8 2215.3Q242.4 2205.5 212.7 2193.8M308.6 2117.7Q252.5 2137.9 199.2 2164.5M215.1 2261.5Q225.9 2265.7 237 2269.4M143.4 2296.9Q148.3 2290.8 152 2283.9M263.9 2356.2Q229.5 2307.7 192.2 2261.5M271.2 2326.7L177.3 2385.5M139.8 2303.3Q189 2288.2 237 2269.4M192.2 2390.8Q211.1 2388.4 230 2386.9M715.2 2063.5Q708.2 2074.3 702.8 2086.1M497.2 2561Q503.1 2560.4 508.8 2559.1M717.4 2607.4Q740.3 2569.3 768.5 2535.1M779.3 2576.5Q773.5 2585.5 768.5 2595M687.3 2564.9L707.4 2602.8M502.6 2109.6Q354.1 2095.5 207.7 2124.1M492 2104.9Q394.7 2129.5 312.6 2187.4M468.6 1985.5Q364.5 2072.6 232 2102.2M604.4 2081.5Q425 2062.2 247.9 2096.8M581 1967.9Q374.4 2007.1 204.1 2130.7M457.4 2007.7Q355.5 2200.5 237 2383.5M599.8 1985.5Q380 2176.5 177.3 2385.5M610.3 2071Q385.9 2202.5 143.4 2296.9M452.2 2039.3Q304.3 2175.9 143.4 2296.9M520.1 2115L497.2 2636.8M502.6 2109.6Q545.8 2364 542.4 2622.1M564.6 1959Q710.3 2095.5 872.1 2212.5M595.1 2092Q692.7 2332.2 779.3 2576.5M463.9 1993.7Q602.5 2255.4 699.7 2535.1M540 1954.3Q626.5 2281.8 774.6 2586.5M533.7 1953.9Q623.5 2261.8 689.2 2575.7M615 2059.3L212.7 2503M564.6 1959L287.1 2479.5M569.3 2109.1Q431.3 2303.7 284.8 2491.9M533.7 2117.3Q624.5 2113.9 715 2121.7M527.2 1954.3Q620.2 2029.1 706.8 2111.3M590.4 2096.7L707.4 2074.1M618 2040.5L702.8 2086.1M610.3 2071Q673.9 2102.7 739 2131.3M604.4 2081.5Q467.1 2345.4 291.1 2585.4M247.9 2096.8Q209.1 2195.1 152 2283.9M272.8 2096.4Q216 2217.9 137 2326.3M200.8 2172.5Q169.2 2260.6 143.4 2350.6M212.7 2193.8Q550 2149.1 880.3 2230.8M240 2098.2Q341.9 2354.3 469 2598.9M198.8 2155.2Q352.6 2386.8 485.6 2631M240 2212.9Q464.3 2389.9 717.4 2522.4M272.8 2215.3Q533.3 2365 774.6 2544M264.8 2216.7Q240.6 2331.5 222 2447.3M317.6 2132.1Q525.4 2113.9 726.1 2056.8M201.1 2139.6L344.1 2621.9M170.3 2269Q503.6 2277.2 835.8 2248.6M215.1 2261.5Q548.9 2272.8 880.3 2230.8M237 2269.4L318 2603.5M287.1 2479.5Q525.4 2312.8 751.7 2130.2M782 2092.8Q803 2155.3 835.8 2212.5M872.1 2212.5Q819.9 2393 779.3 2576.5M853.6 2255.9Q812.6 2393.3 750.3 2522.4M853.6 2205.4Q822.7 2371.4 760 2528.2M853.6 2255.9L542.4 2622.1M880.3 2230.8Q671.4 2417.5 497.2 2636.8M828.5 2230.8Q682.1 2445 509.6 2638.7M853.6 2205.4Q712.5 2410.4 550.1 2598.9M853.6 2205.4Q862.8 2325.3 867 2445.5M548.2 2586.1Q419.7 2579.5 291.1 2585.4M497.2 2636.8Q421.2 2623.9 344.1 2621.9M914.5 2376.7L903.7 2445.5" stroke="#f7a24c" stroke-width="1" stroke-opacity="0.2" fill="none"/>
<path d="M492 1965.6Q505.7 2039.6 514.3 2114.3M458.1 2063.9Q513.8 2013.9 564.6 1959M514.3 2114.3Q564.5 2075 618 2040.5M617.3 2031.1L558.8 1957.4M455.7 2056.9Q469.2 2017.2 478 1976.1M457.4 2007.7L569.3 2109.1M455.7 2056.9Q454.6 2041.7 452.7 2026.5M455 2013.6Q489.5 1982 527.2 1954.3M610.3 2071Q604.8 2079 599.8 2087.4M473.3 2088.5Q465.9 2072 455.7 2056.9M591.6 1976.1Q527.4 1982 463.9 1993.7M465.1 2079.2L599.8 2087.4M468.6 1985.5Q535.7 2034.5 610.3 2071M463.9 1993.7Q460.1 2000.4 457.4 2007.7M527.2 2116.6Q520.8 2114.8 514.3 2114.3M514.3 2114.3Q514.1 2036.1 508.4 1958.1M289.1 2101.8L198.8 2155.2M198.8 2155.2Q251.8 2179.8 308.6 2193.8M203.5 2180.4Q261.3 2158 313.6 2124.7M198.8 2155.2L302.7 2111.8M289.1 2101.8Q301.4 2147.3 308.6 2193.8M272.8 2096.4L198.8 2155.2M295.7 2106.2Q252.2 2117.4 207.7 2124.1M201.1 2139.6Q247.4 2119.9 295.7 2106.2M308.6 2193.8L232 2209.3M247.9 2096.8Q269.7 2152 295.7 2205.3M247.9 2096.8Q258.8 2156.4 264.8 2216.7M215.1 2261.5Q229.8 2267 243.9 2274M263.9 2296.9L255.3 2284.5M177.3 2385.5Q180.8 2386.9 184.2 2388.5M268.8 2311.2Q267.7 2307.6 266.8 2303.9M263.9 2296.9Q246.2 2282.3 230 2266M249.9 2278.6Q220.3 2272.5 192.2 2261.5M184.2 2263L139.8 2342.7M230 2266Q212.9 2329.4 184.2 2388.5M779.7 2105.1Q766.7 2118.8 751.7 2130.2M739 2053.4Q723.1 2078 702.8 2099.1M751.7 2130.2L707.4 2074.1M739 2131.3L726.1 2128.4M726.1 2128.4Q747.8 2096.9 773.5 2068.6M246 2519.3Q261.8 2510 278.8 2503M550.1 2598.9Q524.2 2618.6 497.2 2636.8M542.4 2622.1Q537.4 2626.4 532.7 2631M508.8 2559.1Q513 2598.3 521.9 2636.8M760 2528.2Q735.1 2566.5 707.4 2602.8M750.3 2522.4Q764 2549.9 779.3 2576.5M717.4 2522.4Q747.9 2545.5 780.8 2564.9M688.5 2554.5Q694.7 2545.2 699.7 2535.1M835.8 2212.5Q857.2 2223.7 880.3 2230.8M872.1 2248.6Q854 2249.5 835.8 2248.6M521.3 1955Q399.7 2050 317.2 2180.4M552.5 1956.2Q428.1 2067.2 312.6 2187.4M455.7 2056.9L232 2102.2M569.3 2109.1Q414.1 2178.9 247.9 2215.3M551.8 2115Q428 2124.4 317.2 2180.4M533.7 1953.9Q358.1 2051.8 203.5 2180.4M452.2 2033.5Q340.2 2127.8 200.8 2172.5M465.1 2079.2Q380.1 2170 264.8 2216.7M618.5 2049.9Q413.3 2121 198.8 2155.2M514.3 2114.3Q414.4 2161.7 308.6 2193.8M527.2 2116.6Q401 2094.1 272.8 2096.4M533.7 2117.3Q371 2133.1 207.7 2124.1M492 1965.6L230 2266M615.7 2017.1L170.3 2381.5M585.2 2100.9Q409.9 2178.2 243.9 2274M585.2 2100.9Q417.5 2208.7 268.8 2341.7M617.3 2031.1Q426.3 2200.6 243.9 2379.5M478 1976.1Q330.1 2181.9 147.4 2357.6M463.9 1993.7Q309 2145.8 147.4 2290.9M468.6 1985.5Q334.6 2116.8 215.1 2261.5M618 2040.5L485.6 2631M492 1965.6Q470.7 2269.9 476.7 2574.9M452.2 2033.5Q668.1 2129.4 872.1 2248.6M457.4 2007.7Q648.7 2120.1 853.6 2205.4M478 1976.1Q666.7 2108.2 872.1 2212.5M618 2040.5Q637.6 2294.7 693.1 2543.6M514.3 2114.3Q603.4 2324.5 717.4 2522.4M520.1 2115Q587.9 2363.1 698.9 2595M453.4 2049.9Q337.8 2279 212.7 2503M569.3 2109.1L782 2092.8M610.3 2071Q667.6 2059.1 726.1 2056.8M468.6 1985.5Q420.1 2301 318 2603.5M570.5 1961.4Q419.5 2272.7 318 2603.5M617.3 2031.1Q741.1 2236.4 885.1 2428.1M610.3 2071Q760 2240.1 885.1 2428.1M453.4 2049.9L914.5 2376.7M201.1 2139.6L192.2 2261.5M198.8 2147.6Q223.2 2206.8 237 2269.4M198.8 2155.2L230 2386.9M289.1 2209.7Q277.6 2251.4 259.9 2290.9M322 2147.6L243.9 2274M272.8 2096.4L163.3 2274M321 2164.5Q255.9 2280.1 170.3 2381.5M198.8 2155.2Q530.6 2236.4 872.1 2248.6M322 2147.6Q455.7 2369.4 548.2 2611.3M289.1 2209.7L550.1 2598.9M207.7 2124.1Q346.9 2346.2 497.2 2561M207.7 2124.1Q398.5 2347.3 550.1 2598.9M198.8 2155.2Q438.7 2359 699.7 2535.1M272.8 2215.3Q493.9 2380.6 689.2 2575.7M225.4 2205.3Q495.3 2401.4 779.3 2576.5M201.1 2139.6Q217.7 2325.4 222 2511.8M232 2102.2L726.1 2128.4M280.8 2213.3Q301.5 2398.9 291.1 2585.4M230 2266Q399.4 2407.2 542.4 2574.9M137 2326.3Q330.9 2486.3 542.4 2622.1M200.2 2261.1Q438.9 2420.7 687.3 2564.9M184.2 2263Q238.6 2356 278.8 2456M270.4 2334.3L270.4 2447.3M271.2 2326.7Q560.6 2276 853.6 2255.9M243.9 2379.5Q551.5 2271.3 872.1 2212.5M177.3 2265Q515.5 2267.3 853.6 2255.9M278.8 2503Q532.3 2518 779.3 2576.5M287.1 2479.5Q591.7 2372.4 872.1 2212.5M707.4 2074.1Q784.6 2161.7 853.6 2255.9M726.1 2128.4Q806.5 2174.7 880.3 2230.8M739 2131.3L872.1 2248.6M715.2 2063.5Q680.9 2328.4 698.9 2595M702.8 2099.1Q679.4 2331.5 687.3 2564.9M828.5 2230.8Q788.4 2378.2 760 2528.2M828.5 2230.8Q809.9 2414.8 768.5 2595M880.3 2230.8L693.1 2586.1M872.1 2212.5Q678.3 2406.6 470.9 2586.1M828.5 2230.8Q680.6 2443.8 509.6 2638.7M880.3 2230.8Q688.1 2422.9 470.9 2586.1M872.1 2212.5L914.5 2376.7M779.3 2576.5Q850.9 2479.3 914.5 2376.7M548.2 2611.3Q629.3 2560.1 717.4 2522.4M508.8 2559.1Q598.2 2576.1 689.2 2575.7M521.9 2636.8L318 2603.5M548.2 2611.3Q446.6 2625.8 344.1 2621.9M476.7 2574.9L344.1 2621.9" stroke="#f7a24c" stroke-width="0.5" stroke-opacity="0.2" fill="none"/>
<path d="M502.6 2109.6Q508.6 2111.4 514.3 2114.3M570.5 1961.4Q588.5 1982.1 609.1 2000.2M533.7 2117.3Q495.5 2075.7 452.2 2039.3M558.8 1957.4Q513.6 2022.4 478 2093.2M585.2 2100.9Q527 2042.5 478 1976.1M492 1965.6Q483.5 2025.3 468.6 2083.8M618 2040.5Q556.3 2071.4 496.7 2106.1M618.5 2049.9Q539 2064.5 458.1 2063.9M453.4 2049.9L606.8 1994.8M576.3 2106.1Q565.8 2032.9 564.6 1959M521.3 1955L557.6 2113.1M599.8 2087.4Q547.5 2092.5 496.7 2106.1M570.5 1961.4L492 1965.6M533.7 2117.3Q544.9 2036.1 540 1954.3M487.4 2101.4L453.4 2049.9M551.8 2115L520.1 2115M459.7 2068.6L514.3 2114.3M473.3 2088.5Q463.8 2069 453.4 2049.9M465.1 2079.2Q524.6 2024 586.9 1972.1M502.6 2109.6Q488.1 2050 463.9 1993.7M302.7 2111.8Q256.1 2151 212.7 2193.8M198.8 2147.6Q258.5 2164.8 320.2 2172.5M317.6 2132.1Q315.7 2159.8 312.6 2187.4M256.5 2216.3Q230.1 2183.4 198.8 2155.2M212.7 2117.7Q211.1 2155.7 212.7 2193.8M198.8 2155.2Q248.5 2182.8 302.7 2200.3M201.1 2139.6Q217.4 2121.6 232 2102.2M272.8 2096.4L247.9 2096.8M212.7 2117.7Q220.6 2163.9 232 2209.3M295.7 2205.3Q255 2161.2 207.7 2124.1M157.4 2278.6Q149.7 2291.7 139.8 2303.3M139.8 2342.7Q172.4 2300.9 207.1 2261.1M230 2266Q190.2 2271.7 152 2283.9M192.2 2390.8Q209.4 2327.9 230 2266M266.8 2303.9Q243.1 2285.7 223 2263.4M147.4 2290.9L268.8 2311.2M249.9 2278.6L223 2263.4M230 2266Q216.9 2327.8 215.1 2390.8M139.8 2303.3Q161 2282 184.2 2263M152 2283.9Q199.6 2330.7 249.9 2374.5M137.4 2310.8L152 2364.6M163.3 2274L192.2 2390.8M215.1 2390.8Q220.8 2326.1 215.1 2261.5M751.7 2130.2Q745.3 2130.3 739 2131.3M706.8 2111.3Q704.6 2105.3 702.8 2099.1M205.1 2479.5Q246.1 2477.1 287.1 2479.5M222 2447.3Q251.4 2472.4 284.8 2491.9M287.1 2479.5Q249.1 2470.1 212.7 2456M548.2 2611.3Q530.2 2583.9 508.8 2559.1M698.9 2595Q733.7 2595.8 768.5 2595M595.6 1980.8Q422.3 2067 232 2102.2M520.1 2115Q373.6 2145.4 240 2212.9M478 1976.1Q357.4 2043.9 232 2102.2M478 1976.1Q318.5 2034.6 198.8 2155.2M540 2116.6Q373.2 2091 207.7 2124.1M473.3 2088.5Q400 2123.9 320.2 2139.6M452.2 2039.3Q325.9 2069.9 207.7 2124.1M558.8 1957.4Q421.8 2039.3 272.8 2096.4M564.6 1959Q431.6 2030.5 313.6 2124.7M599.8 2087.4Q410 2049 225 2106.2M468.6 1985.5Q392 2118.5 272.8 2215.3M618.5 2049.9Q456.1 2072.4 295.7 2106.2M452.2 2033.5Q353.9 2132.4 240 2212.9M557.6 2113.1Q388 2135.8 218.7 2111.8M468.6 1985.5L272.8 2215.3M478 1976.1Q355.1 2197.3 192.2 2390.8M453.4 2049.9Q292.3 2195.7 147.4 2357.6M610.3 2071Q391.2 2221.6 184.2 2388.5M453.4 2049.9Q372.2 2185.7 266.8 2303.9M610.3 2071Q398.8 2213.8 215.1 2390.8M611.5 2005.4Q395.7 2123.4 192.2 2261.5M468.6 1985.5Q326.4 2183.5 200.2 2392M458.1 2063.9Q336.8 2216.3 237 2383.5M527.2 2116.6Q381 2243.1 243.9 2379.5M478 1976.1Q482.7 2268.2 508.8 2559.1M545.9 2115.9Q530.4 2361.1 469 2598.9M599.8 1985.5Q575.6 2275.7 508.8 2559.1M520.1 2115Q484.2 2362 470.9 2611.3M496.7 2106.1Q497.3 2334.2 521.9 2561M452.2 2033.5Q482.6 2330 542.4 2622.1M478 1976.1Q517.3 2305.6 497.2 2636.8M473.3 2088.5Q467.1 2360 485.6 2631M576.3 2106.1L508.8 2559.1M615 2059.3Q674.6 2298.1 693.1 2543.6M527.2 2116.6Q673.7 2323.8 779.3 2554.5M595.1 2092L779.3 2576.5M461.6 2074.5L774.6 2544M610.3 2071Q710.7 2326.5 768.5 2595M520.1 2115Q622.5 2344.7 693.1 2586.1M520.1 2115Q644.6 2313.4 750.3 2522.4M558.8 1957.4L693.1 2586.1M492 2104.9Q610 2326.3 687.3 2564.9M501.4 1960.4Q380.1 2227.6 278.8 2503M533.7 2117.3Q402.7 2287.6 284.8 2467.2M473.3 2088.5L222 2447.3M453.4 2049.9Q324.3 2247.7 212.7 2456M463.9 1993.7Q587 2038.3 702.8 2099.1M590.4 2096.7Q659.1 2109.1 726.1 2128.4M557.6 2113.1Q647.7 2128 739 2131.3M461.6 1998.4Q577.2 2060.7 702.8 2099.1M576.3 2106.1Q650.2 2124.2 726.1 2128.4M515 1956.2Q609.1 2018.6 707.4 2074.1M473.3 2088.5Q379.7 2341.2 318 2603.5M558.8 1957.4Q450.5 2285 318 2603.5M515 1956.2L344.1 2621.9M459.7 2068.6L867 2445.5M198.8 2155.2Q185.6 2270.1 177.3 2385.5M264.8 2216.7L200.2 2261.1M204.1 2130.7Q225.1 2205.2 249.9 2278.6M264.8 2216.7Q260.7 2256.7 263.9 2296.9M247.9 2215.3L139.8 2342.7M308.6 2193.8Q285.7 2241.3 255.3 2284.5M212.7 2193.8L137 2318.8M289.1 2101.8Q255.3 2182.4 230 2266M200.8 2172.5L243.9 2379.5M212.7 2193.8L152 2283.9M256.5 2216.3L207.1 2392M207.7 2124.1Q230.7 2252.8 237 2383.5M199.2 2164.5Q320.4 2411.2 485.6 2631M295.7 2205.3Q407.8 2377 485.6 2566.8M198.8 2147.6Q453.5 2341.3 717.4 2522.4M212.7 2117.7Q501 2303.4 760 2528.2M308.6 2117.7Q500.1 2379.6 727.9 2610.5M198.8 2147.6Q438.2 2361.9 687.3 2564.9M312.6 2187.4Q518.3 2372.1 693.1 2586.1M218.7 2200.3Q205.2 2333.4 207.1 2467.2M247.9 2215.3Q246.6 2366.6 258.9 2517.4M212.7 2117.7Q238.2 2277.6 246 2439.3M247.9 2096.8L278.8 2503M312.6 2187.4L270.4 2447.3M198.8 2147.6Q235.5 2315.5 287.1 2479.5M302.7 2200.3Q269.5 2326.2 222 2447.3M212.7 2117.7L773.5 2116.4M198.8 2147.6Q468.5 2128.3 739 2131.3M240 2212.9Q512.9 2174.1 779.7 2105.1M249.9 2374.5Q370.1 2516.1 509.6 2638.7M255.3 2284.5Q377.8 2425.8 508.8 2559.1M152 2283.9Q338.1 2411.5 508.8 2559.1M207.1 2261.1Q323.9 2435.8 470.9 2586.1M137 2318.8Q322.8 2485.8 521.9 2636.8M143.4 2350.6Q408.6 2474.9 687.3 2564.9M215.1 2390.8L717.4 2522.4M177.3 2265L780.8 2564.9M139.8 2303.3L760 2602.8M263.9 2356.2Q503.9 2465.3 760 2528.2M184.2 2388.5Q457.5 2481.8 717.4 2607.4M152 2283.9L768.5 2595M137 2318.8Q199.2 2387.8 270.4 2447.3M137 2318.8Q169.2 2406.5 207.1 2491.9M237 2383.5L287.1 2479.5M268.8 2341.7Q260.7 2429.4 258.9 2517.4M223 2263.4Q208.8 2359.2 212.7 2456M137 2326.3Q218.1 2397 287.1 2479.5M268.8 2341.7Q261.3 2391.2 258.5 2441.3M177.3 2265Q224.6 2376.2 287.1 2479.5M263.9 2356.2Q553.5 2321.7 835.8 2248.6M152 2283.9Q513.1 2258.9 872.1 2212.5M230 2266Q273.5 2423.2 291.1 2585.4M237 2269.4Q283.9 2447.7 344.1 2621.9M223 2389.5Q505.8 2245 764 2060.1M139.8 2303.3Q452.7 2172.8 782 2092.8M137.4 2334.7Q462.5 2217.2 779.7 2080.1M223 2263.4L782 2092.8M222 2447.3Q366.7 2499.7 508.8 2559.1M287.1 2479.5Q486.7 2533.7 689.2 2575.7M278.8 2503Q490 2524.4 693.1 2586.1M258.9 2517.4Q477.3 2509.6 693.1 2543.6M222 2511.8Q497.1 2548.3 774.6 2544M278.8 2503Q301.6 2552 318 2603.5M278.8 2503Q295.2 2554.5 318 2603.5M246 2439.3Q300.9 2527.5 344.1 2621.9M270.4 2447.3Q508.1 2239.5 773.5 2068.6M751.7 2130.2Q818.2 2177.7 880.3 2230.8M779.7 2105.1L853.6 2205.4M707.4 2074.1Q760.9 2327.7 774.6 2586.5M779.7 2105.1Q789.5 2335 780.8 2564.9M702.8 2086.1Q610.2 2365.2 497.2 2636.8M764 2060.1Q650.1 2314 521.9 2561M853.6 2255.9Q780.1 2386.4 717.4 2522.4M828.5 2230.8Q792.2 2422.6 739.5 2610.5M835.8 2248.6Q664.7 2395.8 508.8 2559.1M853.6 2255.9Q679.2 2432 476.7 2574.9M835.8 2212.5L532.7 2631M872.1 2248.6Q870 2339 885.1 2428.1M872.1 2212.5Q896.1 2293.9 914.5 2376.7M828.5 2230.8Q875.8 2301.2 914.5 2376.7M532.7 2566.8Q609.9 2561.8 687.3 2564.9M521.9 2561Q605.1 2573.9 689.2 2575.7M532.7 2566.8Q423.6 2574.8 318 2603.5" stroke="#4a3cb4" stroke-width="0.5" stroke-opacity="0.3" fill="none"/>
<path d="M606.8 1994.8Q546.9 2048.9 482.7 2097.9M533.7 1953.9Q499.7 1966.7 468.6 1985.5M458.1 2063.9Q457.4 2041.5 453.4 2019.4M551.8 2115Q504.1 2090.9 458.1 2063.9M455 2013.6Q479.6 1988.2 501.4 1960.4M461.6 1998.4Q457 2027.5 455.7 2056.9M610.3 2071L508.4 1958.1M545.9 1955.3Q513 2023 468.6 2083.8M463.9 1993.7L457.4 2007.7M240 2098.2Q231.9 2149.8 218.7 2200.3M240 2098.2Q282.5 2132.8 320.2 2172.5M295.7 2106.2Q302.5 2111.6 308.6 2117.7M198.8 2147.6Q244.9 2177.2 289.1 2209.7M272.8 2096.4Q233.9 2123.4 198.8 2155.2M247.9 2096.8L218.7 2111.8M198.8 2155.2Q198.6 2159.8 199.2 2164.5M215.1 2390.8L170.3 2381.5M230 2266L163.3 2376.5M192.2 2261.5Q207.6 2263.3 223 2263.4M270.4 2318.8Q214.8 2296 157.4 2278.6M223 2389.5L147.4 2290.9M157.4 2278.6Q149.9 2307.5 137.4 2334.7M215.1 2261.5Q182.8 2270.8 152 2283.9M268.8 2311.2Q269.7 2315 270.4 2318.8M259.9 2290.9Q197.8 2310.5 137.4 2334.7M779.7 2105.1Q776 2110.4 773.5 2116.4M233.4 2517.4Q246.1 2518.1 258.9 2517.4M548.2 2611.3Q508.9 2600.8 470.9 2586.1M508.8 2559.1Q520.4 2563.9 532.7 2566.8M508.8 2559.1Q503 2559.8 497.2 2561M774.6 2544Q775.9 2560.4 779.3 2576.5M717.4 2607.4Q705.8 2596.1 693.1 2586.1M453.4 2049.9Q380.5 2110.1 317.2 2180.4M487.4 2101.4Q402 2124 313.6 2124.7M478 1976.1Q334.6 2049.4 201.1 2139.6M603.3 1990.2L295.7 2205.3M586.9 1972.1Q416.8 2020.7 256.5 2095.4M569.3 2109.1Q429.3 2173 280.8 2213.3M478 1976.1Q356.1 2098 212.7 2193.8M496.7 2106.1Q353.2 2130.8 207.7 2124.1M557.6 2113.1L266.8 2348.6M590.4 2096.7Q384.7 2204.3 163.3 2274M533.7 2117.3Q355.8 2248.9 184.2 2388.5M461.6 1998.4Q323.7 2195.9 170.3 2381.5M468.6 2083.8L243.9 2379.5M452.2 2033.5Q346.3 2220.6 215.1 2390.8M576.3 2106.1Q408.3 2186.4 243.9 2274M615 2059.3Q438.4 2186.9 271.2 2326.7M487.4 2101.4Q502.5 2206.8 542.4 2574.9M492 2104.9Q501 2209.2 508.8 2559.1M527.2 2116.6Q504.4 2206 508.8 2559.1M557.6 2113.1Q522.3 2368.4 476.7 2622.1M521.3 1955Q692.4 2100 853.6 2255.9M452.7 2026.5L693.1 2586.1M618.5 2049.9Q633.1 2300.2 693.1 2543.6M533.7 2117.3Q618.3 2327.9 739.5 2519.7M463.9 1993.7Q552.3 2300 693.1 2586.1M455 2013.6L687.3 2564.9M527.2 1954.3Q647.2 2003.5 764 2060.1M452.2 2039.3Q593.6 2091.6 739 2131.3M609.1 2000.2L739 2131.3M552.5 1956.2L702.8 2086.1M586.9 1972.1Q648.7 2048.8 715 2121.7M533.7 1953.9Q470 2296.7 344.1 2621.9M590.4 2096.7Q760 2228 914.5 2376.7M465.1 2079.2Q693.9 2221.7 914.5 2376.7M295.7 2205.3L223 2389.5M204.1 2130.7Q170.6 2209 147.4 2290.9M212.7 2117.7Q218 2255 207.1 2392M240 2098.2Q263 2207.4 270.4 2318.8M232 2102.2Q382.7 2323.2 508.8 2559.1M207.7 2124.1Q347.8 2390.9 521.9 2636.8M200.8 2172.5Q356.2 2393.7 485.6 2631M199.2 2164.5L532.7 2566.8M200.8 2172.5Q465.8 2373.2 760 2528.2M207.7 2124.1L760 2528.2M199.2 2164.5Q227.6 2319.9 284.8 2467.2M256.5 2095.4L739 2053.4M207.7 2124.1Q479.9 2107 751.7 2130.2M204.1 2130.7L726.1 2056.8M143.4 2296.9Q339.6 2462 548.2 2611.3M137 2318.8Q291.8 2472.1 469 2598.9M170.3 2269Q459 2436.2 774.6 2544M170.3 2269L698.9 2595M200.2 2392Q495.4 2466.5 779.3 2576.5M268.8 2311.2Q531.5 2430.6 768.5 2595M266.8 2303.9Q488.7 2479.5 739.5 2610.5M137 2318.8Q215.8 2395.7 287.1 2479.5M263.9 2296.9Q252 2407.9 246 2519.3M223 2263.4Q250.9 2366.2 284.8 2467.2M270.4 2318.8Q284.9 2462.7 318 2603.5M230 2266Q475.9 2205.3 715 2121.7M152 2283.9Q438.1 2179.1 739 2131.3M287.1 2479.5Q496.2 2512.7 707.4 2528.2M284.8 2491.9L693.1 2586.1M246 2519.3Q475.3 2540 698.9 2595M212.7 2503Q498.1 2521.9 780.8 2564.9M287.1 2479.5Q529.8 2539.3 779.3 2554.5M284.8 2491.9Q289.8 2538.5 291.1 2585.4M258.9 2517.4Q514 2343.1 739 2131.3M270.4 2511.8L707.4 2074.1M739 2131.3Q809.9 2185 872.1 2248.6M739 2131.3Q727.7 2368 760 2602.8M751.7 2130.2L698.9 2595M782 2092.8Q763.6 2309.7 717.4 2522.4M880.3 2230.8Q691.8 2427.1 470.9 2586.1M880.3 2230.8Q891.3 2305.2 914.5 2376.7M774.6 2586.5L903.7 2445.5M699.7 2535.1Q811.8 2462.3 914.5 2376.7M707.4 2528.2Q803.4 2442.2 914.5 2376.7M550.1 2598.9Q664.9 2590.2 779.3 2576.5M476.7 2574.9Q628 2583.9 779.3 2576.5M508.8 2559.1Q633.8 2538.8 760 2528.2M914.5 2376.7Q892.8 2412.5 867 2445.5" stroke="#4a3cb4" stroke-width="1" stroke-opacity="0.3" fill="none"/>
<path d="M585.2 2100.9L540 2116.6M595.1 2092Q526.3 2079.6 458.1 2063.9M473.3 2088.5Q539.1 2089.4 604.4 2081.5M455.7 2056.9Q453.9 2038.2 453.4 2019.4M492 1965.6L468.6 1985.5M617.3 2031.1Q615.4 2045.1 615 2059.3M604.4 2081.5Q531.7 2069.5 458.1 2063.9M452.2 2039.3Q455.9 2051.5 458.1 2063.9M618 2040.5L473.3 2088.5M459.3 2003L557.6 2113.1M520.1 2115Q498.3 2048.7 468.6 1985.5M540 2116.6L569.3 2109.1M508.4 2112.6Q530.2 2112.7 551.8 2115M615.7 2017.1Q559.9 1991.6 508.4 1958.1M618.5 2049.9Q600.2 2080 576.3 2106.1M570.5 1961.4Q561.6 1958.2 552.5 1956.2M482.7 2097.9L452.2 2039.3M502.6 2109.6Q558.2 2083.2 615 2059.3M461.6 1998.4L455.7 2056.9M576.3 1963.7Q527 1968.3 478 1976.1M585.2 2100.9L615.7 2017.1M247.9 2215.3Q264.3 2212.9 280.8 2213.3M295.7 2106.2L247.9 2215.3M240 2098.2L322 2147.6M212.7 2117.7L240 2212.9M207.7 2124.1L232 2102.2M200.8 2172.5Q259.1 2174.5 317.2 2180.4M272.8 2096.4Q235.4 2136.1 203.5 2180.4M218.7 2111.8Q212.9 2117.7 207.7 2124.1M272.8 2096.4Q293 2144.3 308.6 2193.8M247.9 2215.3Q281.3 2195.4 317.2 2180.4M200.8 2172.5Q218 2189.5 232 2209.3M137 2326.3Q166.5 2291.6 200.2 2261.1M147.4 2290.9Q156 2283 163.3 2274M137 2318.8Q163.1 2288.7 192.2 2261.5M215.1 2261.5Q227 2321.1 243.9 2379.5M266.8 2348.6Q224.6 2366.5 184.2 2388.5M152 2283.9Q187.1 2272.3 223 2263.4M215.1 2261.5Q219 2262.8 223 2263.4M243.9 2274Q258.3 2295.8 270.4 2318.8M215.1 2390.8Q173.1 2358 137 2318.8M192.2 2390.8Q220.8 2381.9 249.9 2374.5M163.3 2376.5Q213.8 2338.4 266.8 2303.9M137.4 2310.8Q156.9 2287.5 177.3 2265M715.2 2063.5Q708.3 2074.4 702.8 2086.1M212.7 2456Q222.7 2448.1 233.4 2441.3M497.2 2561Q509.5 2560.3 521.9 2561M508.8 2559.1L469 2598.9M548.2 2611.3Q547 2598.7 548.2 2586.1M509.6 2638.7Q525.4 2629.3 542.4 2622.1M542.4 2622.1Q522.8 2589.3 497.2 2561M707.4 2602.8Q738 2599.5 768.5 2595M774.6 2586.5Q748.9 2551.9 717.4 2522.4M774.6 2544Q738.6 2572.3 698.9 2595M693.1 2543.6Q727.1 2538.2 760 2528.2M780.8 2564.9Q738.5 2576.3 698.9 2595M717.4 2522.4Q719 2564.9 717.4 2607.4M760 2602.8Q764.7 2572.7 774.6 2544M760 2528.2Q769.6 2556.8 774.6 2586.5M687.3 2564.9Q719.3 2544.4 750.3 2522.4M835.8 2212.5Q834.4 2230.6 835.8 2248.6M853.6 2255.9Q852.9 2230.7 853.6 2205.4M835.8 2212.5Q836.2 2230.6 835.8 2248.6M459.7 2068.6Q380 2139.7 295.7 2205.3M527.2 1954.3Q371.3 2052.8 204.1 2130.7M540 2116.6Q379 2136.6 218.7 2111.8M520.1 2115Q386 2075.9 247.9 2096.8M618 2040.5Q429.3 2096.1 272.8 2215.3M520.1 2115Q377.3 2136.9 256.5 2216.3M502.6 2109.6Q370.1 2129.9 240 2098.2M463.9 1993.7Q412.1 2099.2 320.2 2172.5M557.6 2113.1Q398.2 2117.7 240 2098.2M564.2 2111.9Q429.3 2138.5 295.7 2106.2M514.3 2114.3Q359 2125.3 225.4 2205.3M453.4 2049.9Q319.3 2098.9 207.1 2187.4M585.2 2100.9Q412.8 2072.8 240 2098.2M613.8 2011.2Q397.7 2020.6 207.7 2124.1M468.6 1985.5Q366.6 2028.4 280.8 2098.2M590.4 2096.7Q385.8 2227.6 207.1 2392M595.6 1980.8Q353.7 2144.1 139.8 2342.7M468.6 1985.5Q378.8 2157.7 270.4 2318.8M463.9 1993.7Q308.4 2116.4 177.3 2265M616.6 2023Q430 2173.2 266.8 2348.6M586.9 1972.1Q401.3 2192.6 192.2 2390.8M558.8 1957.4Q398.7 2116.2 263.9 2296.9M617.3 2031.1Q398.3 2158.5 170.3 2269M599.8 2087.4L266.8 2303.9M496.7 2106.1L200.2 2392M461.6 1998.4L249.9 2374.5M591.6 1976.1Q426.3 2151 270.4 2334.3M615 2059.3Q382.2 2200.4 137 2318.8M599.8 2087.4Q543.8 2323.9 532.7 2566.8M576.3 2106.1Q583.5 2359.9 548.2 2611.3M527.2 1954.3Q504.8 2295.2 497.2 2636.8M455 2013.6Q549.8 2298.3 687.3 2564.9M599.8 2087.4Q705.6 2334 768.5 2595M452.2 2039.3L760 2602.8M453.4 2049.9Q384.4 2270.2 287.1 2479.5M618.5 2049.9Q410.6 2238.9 222 2447.3M551.8 2115L258.9 2517.4M610.3 2071Q435.5 2264.8 287.1 2479.5M492 2104.9Q393.8 2284.3 270.4 2447.3M610.3 2071Q655.2 2089.5 702.8 2099.1M463.9 1993.7L764 2125.1M463.9 1993.7L751.7 2055M453.4 2049.9Q615.7 2082.5 779.7 2105.1M468.6 1985.5Q409.2 2298.4 318 2603.5M502.6 2109.6Q684.4 2280.2 885.1 2428.1M581 1967.9L867 2445.5M240 2212.9Q238.3 2296.3 243.9 2379.5M256.5 2095.4Q252.9 2232.2 255.3 2368.9M212.7 2193.8Q223.2 2229.5 230 2266M201.1 2139.6L266.8 2303.9M322.2 2155.9Q257.5 2276.3 170.3 2381.5M212.7 2193.8L259.9 2290.9M295.7 2106.2Q220.6 2237 163.3 2376.5M212.7 2193.8L853.6 2205.4M212.7 2193.8Q532.1 2259.8 853.6 2205.4M200.8 2172.5Q533.1 2167.6 853.6 2255.9M198.8 2155.2Q364.2 2393.3 542.4 2622.1M198.8 2155.2Q342.1 2408.2 521.9 2636.8M256.5 2095.4Q402.6 2316.4 508.8 2559.1M312.6 2187.4Q428.1 2407 521.9 2636.8M247.9 2096.8L727.9 2519.7M204.1 2130.7Q473.4 2378.5 768.5 2595M218.7 2111.8L727.9 2519.7M272.8 2215.3Q484.9 2379 707.4 2528.2M240 2098.2Q229.3 2308.7 258.9 2517.4M312.6 2187.4Q287.1 2344.3 278.8 2503M225.4 2205.3Q244.9 2345 287.1 2479.5M317.2 2180.4Q295.1 2312.5 258.5 2441.3M264.8 2216.7Q503 2120 751.7 2055M199.2 2164.5Q455.3 2121.4 715 2121.7M256.5 2095.4L318 2603.5M295.7 2205.3Q298.3 2404.9 318 2603.5M230 2386.9Q343.5 2494.9 470.9 2586.1M266.8 2348.6Q363.4 2469.5 476.7 2574.9M230 2386.9Q484.1 2477.8 750.3 2522.4M152 2283.9L698.9 2595M177.3 2265Q460.3 2427.5 768.5 2535.1M230 2386.9L698.9 2595M270.4 2318.8Q234.9 2398 205.1 2479.5M270.4 2318.8Q269 2383 270.4 2447.3M263.9 2356.2L835.8 2248.6M223 2263.4Q538.1 2238.4 853.6 2255.9M230 2386.9Q557.2 2346.2 872.1 2248.6M137.4 2334.7Q513.2 2313.4 880.3 2230.8M230 2266Q271.3 2449 344.1 2621.9M268.8 2341.7Q529.6 2224.1 764 2060.1M243.9 2379.5Q495.4 2263.2 739 2131.3M207.1 2491.9Q358.9 2521.2 508.8 2559.1M284.8 2467.2Q527.6 2542 779.3 2576.5M287.1 2479.5Q552.9 2328.5 835.8 2212.5M258.9 2517.4Q583.6 2404.5 880.3 2230.8M258.9 2517.4Q277.2 2550.4 291.1 2585.4M258.5 2441.3Q467.4 2253 702.8 2099.1M715.2 2063.5Q801 2130.2 872.1 2212.5M715.2 2063.5Q769.7 2159.8 835.8 2248.6M739 2131.3Q788.6 2170.5 835.8 2212.5M726.1 2056.8Q792.2 2158 872.1 2248.6M702.8 2086.1L779.3 2554.5M779.7 2080.1Q675.5 2364.2 532.7 2631M707.4 2074.1Q577.9 2342.2 476.7 2622.1M779.7 2105.1L521.9 2561M835.8 2212.5Q756.3 2386.5 687.3 2564.9M872.1 2212.5Q825.3 2373 750.3 2522.4M872.1 2248.6Q703.8 2461.2 497.2 2636.8M835.8 2212.5Q671.6 2417.1 470.9 2586.1M853.6 2205.4Q863 2335.3 885.1 2463.7M739.5 2610.5Q807.6 2531.4 867 2445.5M693.1 2586.1Q776.7 2511.7 867 2445.5M497.2 2636.8Q626.9 2578.4 760 2528.2M521.9 2636.8L698.9 2595M508.8 2559.1L687.3 2564.9M485.6 2566.8Q587.1 2577.8 689.2 2575.7M497.2 2636.8Q406.3 2627.4 318 2603.5M867 2445.5L903.7 2445.5M914.5 2376.7Q900.8 2420.5 885.1 2463.7" stroke="#f7a24c" stroke-width="0.5" stroke-opacity="0.3" fill="none"/>
<path d="M557.6 2113.1Q533 2114 508.4 2112.6M610.3 2071L452.2 2033.5M492 1965.6Q515.9 2041.8 545.9 2115.9M533.7 1953.9Q541.8 2034.3 564.2 2111.9M514.3 2114.3Q508.3 2112.3 502.6 2109.6M492 1965.6Q547.4 2026.5 590.4 2096.7M533.7 1953.9Q536.9 1954.2 540 1954.3M459.3 2003Q491.2 1980.2 521.3 1955M455.7 2056.9Q526.9 2076 599.8 2087.4M459.3 2003Q501.3 2057 533.7 2117.3M461.6 1998.4L609.1 2000.2M203.5 2180.4L240 2212.9M256.5 2216.3Q252.2 2216.1 247.9 2215.3M308.6 2117.7Q254.3 2138.2 198.8 2155.2M207.7 2124.1Q252.9 2165.1 302.7 2200.3M201.1 2139.6Q204.8 2132 207.7 2124.1M232 2102.2Q269.3 2148.8 308.6 2193.8M247.9 2215.3Q284.8 2178.2 320.2 2139.6M302.7 2200.3L295.7 2205.3M207.7 2124.1Q210.4 2121.1 212.7 2117.7M317.2 2180.4Q277.4 2140.4 240 2098.2M192.2 2390.8Q179.4 2328.6 177.3 2265M170.3 2381.5L259.9 2363M263.9 2296.9Q252.9 2338 243.9 2379.5M255.3 2284.5L184.2 2388.5M509.6 2638.7L470.9 2586.1M469 2598.9L509.6 2638.7M469 2598.9Q478.4 2614.4 485.6 2631M780.8 2564.9Q769.9 2546.8 760 2528.2M828.5 2230.8Q854.4 2229.8 880.3 2230.8M508.4 2112.6Q380.2 2136.4 256.5 2095.4M473.3 2088.5Q400.3 2163.3 302.7 2200.3M468.6 1985.5Q337.5 2082.2 240 2212.9M468.6 1985.5Q357 2047.3 240 2098.2M610.3 2071Q459.2 2089.6 322.2 2155.9M533.7 2117.3Q426.1 2135.2 321 2164.5M453.4 2019.4Q392.7 2084.3 313.6 2124.7M615 2059.3Q436.4 2148.8 247.9 2215.3M496.7 2106.1Q351.9 2155.7 198.8 2155.2M615 2059.3Q403.3 2091.6 198.8 2155.2M564.6 1959Q408.1 2108 207.1 2187.4M473.3 2088.5Q355.7 2070.7 240 2098.2M452.7 2026.5Q345.2 2152.1 223 2263.4M473.3 2088.5L249.9 2278.6M478 2093.2Q304.1 2200.8 137 2318.8M520.1 2115Q384.2 2216.9 268.8 2341.7M452.2 2033.5L184.2 2388.5M508.4 2112.6Q335.3 2182 170.3 2269M452.2 2033.5Q458.4 2338.5 521.9 2636.8M617.3 2031.1Q717.9 2298 779.3 2576.5M618 2040.5Q634.7 2291.8 699.7 2535.1M502.6 2109.6Q630.1 2338.8 779.3 2554.5M452.7 2026.5L287.1 2479.5M453.4 2049.9L233.4 2517.4M514.3 2114.3Q609.6 2088.2 707.4 2074.1M453.4 2049.9L751.7 2055M459.3 2003Q703.3 2202.4 903.7 2445.5M247.9 2096.8Q349.5 2055.1 453.4 2019.4M232 2102.2Q354.8 2091.2 478 2093.2M232 2102.2Q341.9 2039.6 461.6 1998.4M289.1 2209.7Q253.5 2296.3 230 2386.9M264.8 2216.7Q198.9 2273.3 137.4 2334.7M203.5 2180.4L147.4 2357.6M240 2098.2Q187.8 2187.2 152 2283.9M200.8 2172.5L698.9 2595M232 2102.2Q254.6 2309.2 258.9 2517.4M240 2098.2Q265.1 2307.1 258.9 2517.4M256.5 2095.4Q479.8 2098 702.8 2086.1M203.5 2180.4Q273.7 2388.5 318 2603.5M264.8 2216.7Q304.7 2408.3 318 2603.5M230 2266Q384.6 2442.8 548.2 2611.3M157.4 2278.6Q343.3 2406.1 508.8 2559.1M137.4 2310.8L485.6 2631M237 2269.4Q377.2 2434.7 542.4 2574.9M139.8 2342.7Q445.3 2483.9 760 2602.8M266.8 2348.6L774.6 2586.5M152 2364.6L278.8 2503M259.9 2363Q254.3 2440.2 258.9 2517.4M243.9 2379.5L853.6 2255.9M266.8 2303.9Q479.1 2161.4 715.2 2063.5M137 2318.8Q411.5 2187.2 702.8 2099.1M212.7 2503L521.9 2636.8M246 2439.3Q510 2518.4 779.3 2576.5M284.8 2467.2Q594.1 2378.2 880.3 2230.8M278.8 2456L853.6 2205.4M258.9 2517.4L872.1 2212.5M278.8 2503Q570.9 2347.8 880.3 2230.8M246 2519.3L344.1 2621.9M284.8 2467.2L318 2603.5M212.7 2456Q457.2 2240.7 726.1 2056.8M782 2092.8Q814.6 2150.1 835.8 2212.5M751.7 2055L880.3 2230.8M779.7 2080.1Q682 2337.6 542.4 2574.9M828.5 2230.8Q807.7 2404.2 779.3 2576.5M880.3 2230.8Q837.7 2417 768.5 2595M880.3 2230.8Q793.1 2391 693.1 2543.6M835.8 2248.6L532.7 2566.8M835.8 2212.5Q673.3 2393.4 497.2 2561M880.3 2230.8Q901 2302.9 914.5 2376.7M698.9 2595Q784.4 2503.1 885.1 2428.1M768.5 2535.1Q828.6 2483.5 885.1 2428.1M698.9 2595L885.1 2463.7M760 2602.8Q827.8 2520.5 903.7 2445.5M508.8 2559.1Q600.4 2545.3 693.1 2543.6M550.1 2598.9Q651.5 2564 750.3 2522.4M542.4 2622.1Q661.8 2604.1 779.3 2576.5M508.8 2559.1L707.4 2602.8M532.7 2566.8Q612 2548.7 693.1 2543.6M548.2 2611.3Q433 2610.9 318 2603.5M885.1 2428.1Q875.6 2436.3 867 2445.5M867 2445.5Q875.5 2455.1 885.1 2463.7" stroke="#f7a24c" stroke-width="1" stroke-opacity="0.3" fill="none"/>
<path d="M609.1 2000.2L520.1 2115M147.4 2290.9Q209 2295.5 268.8 2311.2M215.1 2261.5Q240.5 2302.5 268.8 2341.7M468.6 2083.8Q391.3 2172.6 280.8 2213.3M533.7 2117.3Q388.3 2147.7 256.5 2216.3M492 1965.6Q315.2 2123.4 147.4 2290.9M599.8 2087.4Q442.8 2211.8 268.8 2311.2M492 1965.6Q367.5 2126.8 266.8 2303.9M520.1 2115Q504.3 2207.6 532.7 2631M514.3 2114.3Q502.1 2206 508.8 2559.1M520.1 2115Q504.4 2221 508.8 2559.1M492 2104.9Q502.5 2215.9 550.1 2598.9M527.2 2116.6Q502.6 2228.3 508.8 2559.1M514.3 2114.3Q501.7 2205.1 508.8 2559.1M487.4 2101.4Q501.5 2223.4 542.4 2622.1M496.7 2106.1Q502.1 2229.7 542.4 2574.9M527.2 2116.6Q503.9 2225.7 508.8 2559.1M492 2104.9Q504.1 2216.2 508.8 2559.1M508.4 2112.6Q523.1 2362.4 548.2 2611.3M478 1976.1Q668.1 2120.9 880.3 2230.8M617.3 2031.1Q446.5 2280.4 258.9 2517.4M581 1967.9Q380.3 2207.2 207.1 2467.2M615 2059.3L706.8 2111.3M200.2 2392Q349.8 2484.3 508.8 2559.1M200.2 2392L222 2447.3M739.5 2519.7Q829.8 2451.6 914.5 2376.7M485.6 2566.8Q624.2 2574.4 760 2602.8" stroke="#4a3cb4" stroke-width="0.5" stroke-opacity="0.4" fill="none"/>
<path d="M527.2 2116.6Q523.7 2115.5 520.1 2115M514.3 2114.3L564.2 2111.9M302.7 2200.3Q282.6 2146.5 256.5 2095.4M739.5 2519.7Q751 2558.5 768.5 2595M453.4 2049.9Q391 2150.1 289.1 2209.7M508.4 2112.6Q504.2 2219 542.4 2574.9M514.3 2114.3Q503.5 2213.5 508.8 2559.1M322 2147.6Q411.8 2126.5 502.6 2109.6M322.2 2155.9Q416.9 2141.1 508.4 2112.6M302.7 2111.8Q384.9 2093.2 468.6 2083.8M313.6 2124.7L508.4 2112.6M289.1 2101.8Q388.3 2109.5 487.4 2101.4M308.6 2193.8Q296.5 2399 318 2603.5M287.1 2479.5Q395.4 2563.2 509.6 2638.7M726.1 2056.8Q733.3 2293.2 760 2528.2M715.2 2063.5Q733.9 2292.9 717.4 2522.4M706.8 2111.3Q603.6 2353.7 548.2 2611.3" stroke="#4a3cb4" stroke-width="1" stroke-opacity="0.4" fill="none"/>
<path d="M501.4 1960.4Q474.1 2006.5 455.7 2056.9M465.1 2079.2Q532.2 2087.9 599.8 2087.4M468.6 1985.5Q527.6 1977.6 586.9 1972.1M558.8 1957.4L564.2 2111.9M453.4 2049.9Q389.2 2124.9 312.6 2187.4M514.3 2114.3Q504.3 2205.5 532.7 2631M514.3 2114.3Q501.6 2201.1 532.7 2631M558.8 1957.4Q618.3 2245.4 717.4 2522.4M302.7 2111.8L482.7 2097.9M295.7 2106.2Q401.9 2116.1 508.4 2112.6M295.7 2106.2L453.4 2049.9M295.7 2106.2Q373.8 2044.8 461.6 1998.4M198.8 2155.2Q224.2 2225.4 259.9 2290.9M212.7 2193.8L223 2263.4M317.2 2180.4L508.8 2559.1M201.1 2139.6Q464.6 2104.1 726.1 2056.8M200.2 2392L780.8 2564.9M205.1 2479.5Q538.2 2342.8 880.3 2230.8M707.4 2074.1L853.6 2255.9M835.8 2248.6Q821.7 2420.5 774.6 2586.5" stroke="#f7a24c" stroke-width="0.5" stroke-opacity="0.4" fill="none"/>
<path d="M463.9 1993.7Q491.9 2051 508.4 2112.6M249.9 2374.5Q240.2 2381 230 2386.9M702.8 2099.1Q709.2 2110.3 715 2121.7M707.4 2602.8Q717.7 2606.4 727.9 2610.5M615 2059.3Q396.9 2078.2 207.1 2187.4M501.4 1960.4Q401.7 2100.9 272.8 2215.3M570.5 1961.4Q422.6 2011.1 308.6 2117.7M496.7 2106.1Q504.6 2230 532.7 2631M604.4 2081.5Q686.5 2143.6 835.8 2248.6M604.4 2081.5Q691.2 2142 828.5 2230.8M564.2 2111.9Q689.7 2142.4 828.5 2230.8M452.2 2033.5Q345.6 2259.3 207.1 2467.2M308.6 2117.7Q390.3 2099.3 473.3 2088.5M308.6 2117.7Q393.6 2107.3 478 2093.2M321 2164.5L487.4 2101.4M308.6 2117.7L496.7 2106.1M295.7 2106.2Q393.8 2099.3 492 2104.9M322 2147.6Q407.5 2128.2 492 2104.9M272.8 2096.4Q369.5 2038.8 468.6 1985.5M295.7 2106.2Q375.4 2079.2 458.1 2063.9M280.8 2098.2Q379.2 2088.5 478 2093.2M280.8 2098.2Q373.5 2039.9 468.6 1985.5M225 2106.2Q336.6 2059.8 452.7 2026.5M280.8 2098.2Q367.8 2046.4 459.3 2003M272.8 2096.4Q361.7 2058.6 452.7 2026.5M199.2 2164.5L177.3 2385.5M272.8 2096.4L147.4 2290.9M225 2106.2Q234.1 2244.7 237 2383.5M308.6 2193.8Q501.6 2129.4 702.8 2099.1M249.9 2278.6Q559.4 2230.7 872.1 2212.5M773.5 2068.6Q611 2340.3 485.6 2631M880.3 2230.8Q900.3 2337.2 903.7 2445.5" stroke="#f7a24c" stroke-width="1" stroke-opacity="0.4" fill="none"/>
<path d="M610.3 2071Q688.3 2144.8 853.6 2205.4" stroke="#f7a24c" stroke-width="1.5" stroke-opacity="0.4" fill="none"/>
<path d="M492 2104.9Q502.4 2202 532.7 2631M502.6 2109.6Q502.5 2202.6 508.8 2559.1M527.2 2116.6Q503.4 2211.8 508.8 2559.1M527.2 2116.6Q501.4 2222 508.8 2559.1M514.3 2114.3Q504 2226 550.1 2598.9M527.2 2116.6Q502.6 2208 508.8 2559.1M322 2147.6L487.4 2101.4" stroke="#4a3cb4" stroke-width="0.5" stroke-opacity="0.5" fill="none"/>
<path d="M527.2 2116.6Q503.4 2206.9 508.8 2559.1M502.6 2109.6Q504.7 2203.2 548.2 2586.1M595.1 2092Q689.8 2139.7 835.8 2248.6M302.7 2111.8Q399.6 2104.6 496.7 2106.1M313.6 2124.7Q407.7 2112.6 502.6 2109.6M313.6 2124.7Q395.2 2105.7 478 2093.2" stroke="#4a3cb4" stroke-width="1" stroke-opacity="0.5" fill="none"/>
<path d="M590.4 2096.7Q691.5 2139.2 835.8 2248.6M590.4 2096.7Q690.6 2145.8 853.6 2205.4M599.8 2087.4Q693.8 2142.2 835.8 2248.6M557.6 2113.1Q686.7 2144 835.8 2248.6M564.2 2111.9Q688.5 2142.1 835.8 2212.5M569.3 2109.1Q692.1 2143.5 835.8 2248.6M599.8 2087.4Q688.4 2140.4 853.6 2205.4M604.4 2081.5Q691 2142.9 853.6 2205.4M604.4 2081.5Q686.7 2145.1 835.8 2248.6M604.4 2081.5Q691.3 2141.3 835.8 2248.6M557.6 2113.1Q693.7 2139.7 828.5 2230.8M576.3 2106.1Q691.6 2145 828.5 2230.8M569.3 2109.1Q693.3 2138.7 828.5 2230.8M564.2 2111.9Q689 2141.6 835.8 2248.6M585.2 2100.9Q693.4 2142.4 828.5 2230.8M321 2164.5Q406.3 2138.5 487.4 2101.4M320.2 2172.5Q407.6 2136.9 496.7 2106.1M321 2164.5Q405.3 2131.2 492 2104.9M240 2098.2Q344.9 2061.9 452.2 2033.5" stroke="#f7a24c" stroke-width="1" stroke-opacity="0.5" fill="none"/>
<path d="M308.6 2117.7Q405.9 2119.5 502.6 2109.6M317.6 2132.1L482.7 2097.9M289.1 2101.8Q368.2 2045.7 457.4 2007.7" stroke="#f7a24c" stroke-width="0.5" stroke-opacity="0.5" fill="none"/>
<path d="M576.3 2106.1Q692.3 2139 853.6 2205.4" stroke="#f7a24c" stroke-width="1.5" stroke-opacity="0.6" fill="none"/>
<path d="M604.4 2081.5Q691.4 2139.3 853.6 2205.4M564.2 2111.9Q690.9 2144.6 853.6 2205.4M569.3 2109.1Q693.7 2144.2 835.8 2212.5" stroke="#f7a24c" stroke-width="1" stroke-opacity="0.6" fill="none"/>
<g fill="#2fa39e" stroke="#222" stroke-opacity="0.55" stroke-width="0.6">
<circle cx="468.6" cy="1985.5" r="11.7"/>
<circle cx="478" cy="1976.1" r="7"/>
<circle cx="492" cy="1965.6" r="7"/>
<circle cx="501.4" cy="1960.4" r="2.5"/>
<circle cx="508.4" cy="1958.1" r="2.5"/>
<circle cx="515" cy="1956.2" r="3"/>
<circle cx="521.3" cy="1955" r="4"/>
<circle cx="527.2" cy="1954.3" r="3"/>
<circle cx="533.7" cy="1953.9" r="4.5"/>
<circle cx="540" cy="1954.3" r="2"/>
<circle cx="545.9" cy="1955.3" r="2"/>
<circle cx="552.5" cy="1956.2" r="3"/>
<circle cx="558.8" cy="1957.4" r="3.5"/>
<circle cx="564.6" cy="1959" r="3.5"/>
<circle cx="570.5" cy="1961.4" r="4"/>
<circle cx="576.3" cy="1963.7" r="2"/>
<circle cx="581" cy="1967.9" r="2"/>
<circle cx="586.9" cy="1972.1" r="1.8"/>
<circle cx="591.6" cy="1976.1" r="1.8"/>
<circle cx="595.6" cy="1980.8" r="1.8"/>
<circle cx="599.8" cy="1985.5" r="1.8"/>
<circle cx="603.3" cy="1990.2" r="1.8"/>
<circle cx="606.8" cy="1994.8" r="1.8"/>
<circle cx="609.1" cy="2000.2" r="1.8"/>
<circle cx="611.5" cy="2005.4" r="1.8"/>
<circle cx="613.8" cy="2011.2" r="1.8"/>
<circle cx="615.7" cy="2017.1" r="1.8"/>
<circle cx="616.6" cy="2023" r="2"/>
<circle cx="617.3" cy="2031.1" r="3"/>
<circle cx="618" cy="2040.5" r="8"/>
<circle cx="618.5" cy="2049.9" r="7.5"/>
<circle cx="615" cy="2059.3" r="7"/>
<circle cx="610.3" cy="2071" r="9.5"/>
<circle cx="604.4" cy="2081.5" r="5"/>
<circle cx="599.8" cy="2087.4" r="5"/>
<circle cx="595.1" cy="2092" r="5"/>
<circle cx="590.4" cy="2096.7" r="4"/>
<circle cx="585.2" cy="2100.9" r="5"/>
<circle cx="576.3" cy="2106.1" r="7.5"/>
<circle cx="569.3" cy="2109.1" r="4"/>
<circle cx="564.2" cy="2111.9" r="3"/>
<circle cx="557.6" cy="2113.1" r="7"/>
<circle cx="551.8" cy="2115" r="5.5"/>
<circle cx="545.9" cy="2115.9" r="5"/>
<circle cx="540" cy="2116.6" r="3"/>
<circle cx="533.7" cy="2117.3" r="5"/>
<circle cx="527.2" cy="2116.6" r="4.5"/>
<circle cx="520.1" cy="2115" r="5"/>
<circle cx="514.3" cy="2114.3" r="7.5"/>
<circle cx="508.4" cy="2112.6" r="5.5"/>
<circle cx="502.6" cy="2109.6" r="7"/>
<circle cx="496.7" cy="2106.1" r="4"/>
<circle cx="492" cy="2104.9" r="3"/>
<circle cx="487.4" cy="2101.4" r="3"/>
<circle cx="482.7" cy="2097.9" r="3"/>
<circle cx="478" cy="2093.2" r="4"/>
<circle cx="473.3" cy="2088.5" r="6.5"/>
<circle cx="468.6" cy="2083.8" r="4.5"/>
<circle cx="465.1" cy="2079.2" r="3.5"/>
<circle cx="461.6" cy="2074.5" r="2.5"/>
<circle cx="459.7" cy="2068.6" r="3"/>
<circle cx="458.1" cy="2063.9" r="4.5"/>
<circle cx="455.7" cy="2056.9" r="7"/>
<circle cx="453.4" cy="2049.9" r="8.5"/>
<circle cx="452.2" cy="2039.3" r="9"/>
<circle cx="452.2" cy="2033.5" r="5"/>
<circle cx="452.7" cy="2026.5" r="3"/>
<circle cx="453.4" cy="2019.4" r="4"/>
<circle cx="455" cy="2013.6" r="6"/>
<circle cx="457.4" cy="2007.7" r="6"/>
<circle cx="459.3" cy="2003" r="5"/>
<circle cx="461.6" cy="1998.4" r="5"/>
<circle cx="463.9" cy="1993.7" r="5"/>
</g>
<g fill="#4650b0" stroke="#222" stroke-opacity="0.55" stroke-width="0.6">
<circle cx="256.5" cy="2095.4" r="6.6"/>
<circle cx="240" cy="2098.2" r="5"/>
<circle cx="232" cy="2102.2" r="4.5"/>
<circle cx="247.9" cy="2096.8" r="2.5"/>
<circle cx="272.8" cy="2096.4" r="3.5"/>
<circle cx="280.8" cy="2098.2" r="1.5"/>
<circle cx="289.1" cy="2101.8" r="1.5"/>
<circle cx="295.7" cy="2106.2" r="2.5"/>
<circle cx="302.7" cy="2111.8" r="2"/>
<circle cx="308.6" cy="2117.7" r="2.5"/>
<circle cx="313.6" cy="2124.7" r="2"/>
<circle cx="317.6" cy="2132.1" r="1.8"/>
<circle cx="320.2" cy="2139.6" r="1.8"/>
<circle cx="322" cy="2147.6" r="1.5"/>
<circle cx="322.2" cy="2155.9" r="1.8"/>
<circle cx="321" cy="2164.5" r="1.5"/>
<circle cx="320.2" cy="2172.5" r="1.5"/>
<circle cx="317.2" cy="2180.4" r="4.5"/>
<circle cx="312.6" cy="2187.4" r="3"/>
<circle cx="308.6" cy="2193.8" r="5.5"/>
<circle cx="302.7" cy="2200.3" r="3"/>
<circle cx="295.7" cy="2205.3" r="4"/>
<circle cx="289.1" cy="2209.7" r="3.5"/>
<circle cx="280.8" cy="2213.3" r="1.5"/>
<circle cx="272.8" cy="2215.3" r="3"/>
<circle cx="264.8" cy="2216.7" r="3.5"/>
<circle cx="256.5" cy="2216.3" r="2"/>
<circle cx="247.9" cy="2215.3" r="2.5"/>
<circle cx="240" cy="2212.9" r="3"/>
<circle cx="232" cy="2209.3" r="2"/>
<circle cx="225.4" cy="2205.3" r="4"/>
<circle cx="218.7" cy="2200.3" r="2"/>
<circle cx="212.7" cy="2193.8" r="5.7"/>
<circle cx="207.1" cy="2187.4" r="2.5"/>
<circle cx="203.5" cy="2180.4" r="1.5"/>
<circle cx="200.8" cy="2172.5" r="2.5"/>
<circle cx="199.2" cy="2164.5" r="3.5"/>
<circle cx="198.8" cy="2155.2" r="6"/>
<circle cx="198.8" cy="2147.6" r="2.5"/>
<circle cx="201.1" cy="2139.6" r="6"/>
<circle cx="204.1" cy="2130.7" r="3"/>
<circle cx="207.7" cy="2124.1" r="8.5"/>
<circle cx="212.7" cy="2117.7" r="2"/>
<circle cx="218.7" cy="2111.8" r="3"/>
<circle cx="225" cy="2106.2" r="1.5"/>
</g>
<g fill="#1d6460" stroke="#222" stroke-opacity="0.55" stroke-width="0.6">
<circle cx="152" cy="2283.9" r="5"/>
<circle cx="147.4" cy="2290.9" r="4"/>
<circle cx="157.4" cy="2278.6" r="2.2"/>
<circle cx="163.3" cy="2274" r="2"/>
<circle cx="170.3" cy="2269" r="1.5"/>
<circle cx="177.3" cy="2265" r="2.2"/>
<circle cx="184.2" cy="2263" r="3.5"/>
<circle cx="192.2" cy="2261.5" r="1.5"/>
<circle cx="200.2" cy="2261.1" r="1.8"/>
<circle cx="207.1" cy="2261.1" r="1.5"/>
<circle cx="215.1" cy="2261.5" r="3"/>
<circle cx="223" cy="2263.4" r="2.8"/>
<circle cx="230" cy="2266" r="4"/>
<circle cx="237" cy="2269.4" r="2"/>
<circle cx="243.9" cy="2274" r="1.5"/>
<circle cx="249.9" cy="2278.6" r="1.5"/>
<circle cx="255.3" cy="2284.5" r="1.5"/>
<circle cx="259.9" cy="2290.9" r="1.5"/>
<circle cx="263.9" cy="2296.9" r="2"/>
<circle cx="266.8" cy="2303.9" r="3"/>
<circle cx="268.8" cy="2311.2" r="2"/>
<circle cx="270.4" cy="2318.8" r="2"/>
<circle cx="271.2" cy="2326.7" r="2"/>
<circle cx="270.4" cy="2334.3" r="1.5"/>
<circle cx="268.8" cy="2341.7" r="3"/>
<circle cx="266.8" cy="2348.6" r="1.5"/>
<circle cx="263.9" cy="2356.2" r="1.5"/>
<circle cx="259.9" cy="2363" r="2"/>
<circle cx="255.3" cy="2368.9" r="1.5"/>
<circle cx="249.9" cy="2374.5" r="3.5"/>
<circle cx="243.9" cy="2379.5" r="5"/>
<circle cx="237" cy="2383.5" r="2"/>
<circle cx="230" cy="2386.9" r="2.5"/>
<circle cx="223" cy="2389.5" r="1.5"/>
<circle cx="215.1" cy="2390.8" r="2.5"/>
<circle cx="207.1" cy="2392" r="1.5"/>
<circle cx="200.2" cy="2392" r="1.5"/>
<circle cx="192.2" cy="2390.8" r="2"/>
<circle cx="184.2" cy="2388.5" r="5.5"/>
<circle cx="177.3" cy="2385.5" r="1.8"/>
<circle cx="170.3" cy="2381.5" r="1.5"/>
<circle cx="163.3" cy="2376.5" r="1.5"/>
<circle cx="157.4" cy="2370.9" r="1.5"/>
<circle cx="152" cy="2364.6" r="2.5"/>
<circle cx="147.4" cy="2357.6" r="1.5"/>
<circle cx="143.4" cy="2350.6" r="1.5"/>
<circle cx="139.8" cy="2342.7" r="1.5"/>
<circle cx="137.4" cy="2334.7" r="1.5"/>
<circle cx="137" cy="2326.3" r="4"/>
<circle cx="137" cy="2318.8" r="4.5"/>
<circle cx="137.4" cy="2310.8" r="1.5"/>
<circle cx="139.8" cy="2303.3" r="1.5"/>
<circle cx="143.4" cy="2296.9" r="2"/>
</g>
<g fill="#e0402e" stroke="#222" stroke-opacity="0.55" stroke-width="0.6">
<circle cx="222" cy="2447.3" r="5"/>
<circle cx="233.4" cy="2441.3" r="1.5"/>
<circle cx="246" cy="2439.3" r="2"/>
<circle cx="258.5" cy="2441.3" r="2"/>
<circle cx="270.4" cy="2447.3" r="2.5"/>
<circle cx="278.8" cy="2456" r="2"/>
<circle cx="284.8" cy="2467.2" r="1.5"/>
<circle cx="287.1" cy="2479.5" r="8"/>
<circle cx="284.8" cy="2491.9" r="2"/>
<circle cx="278.8" cy="2503" r="4"/>
<circle cx="270.4" cy="2511.8" r="1.5"/>
<circle cx="258.9" cy="2517.4" r="6.5"/>
<circle cx="246" cy="2519.3" r="1.5"/>
<circle cx="233.4" cy="2517.4" r="2.5"/>
<circle cx="222" cy="2511.8" r="1.5"/>
<circle cx="212.7" cy="2503" r="1.5"/>
<circle cx="207.1" cy="2491.9" r="1"/>
<circle cx="205.1" cy="2479.5" r="1.5"/>
<circle cx="207.1" cy="2467.2" r="2"/>
<circle cx="212.7" cy="2456" r="2.5"/>
</g>
<g fill="#33308f" stroke="#222" stroke-opacity="0.55" stroke-width="0.6">
<circle cx="715.2" cy="2063.5" r="4.2"/>
<circle cx="707.4" cy="2074.1" r="5"/>
<circle cx="702.8" cy="2086.1" r="2"/>
<circle cx="702.8" cy="2099.1" r="5.2"/>
<circle cx="706.8" cy="2111.3" r="2.5"/>
<circle cx="715" cy="2121.7" r="2.5"/>
<circle cx="726.1" cy="2128.4" r="3"/>
<circle cx="739" cy="2131.3" r="3.2"/>
<circle cx="751.7" cy="2130.2" r="2.8"/>
<circle cx="764" cy="2125.1" r="1.5"/>
<circle cx="773.5" cy="2116.4" r="1.7"/>
<circle cx="779.7" cy="2105.1" r="3.5"/>
<circle cx="782" cy="2092.8" r="3.2"/>
<circle cx="779.7" cy="2080.1" r="1.8"/>
<circle cx="773.5" cy="2068.6" r="2"/>
<circle cx="764" cy="2060.1" r="1.5"/>
<circle cx="751.7" cy="2055" r="2.5"/>
<circle cx="739" cy="2053.4" r="1.8"/>
<circle cx="726.1" cy="2056.8" r="2.5"/>
</g>
<g fill="#e8641c" stroke="#222" stroke-opacity="0.55" stroke-width="0.6">
<circle cx="835.8" cy="2212.5" r="7.5"/>
<circle cx="853.6" cy="2205.4" r="5.8"/>
<circle cx="872.1" cy="2212.5" r="7.2"/>
<circle cx="880.3" cy="2230.8" r="5.8"/>
<circle cx="872.1" cy="2248.6" r="5.8"/>
<circle cx="853.6" cy="2255.9" r="5.5"/>
<circle cx="835.8" cy="2248.6" r="5.8"/>
<circle cx="828.5" cy="2230.8" r="3.2"/>
</g>
<g fill="#76c21e" stroke="#222" stroke-opacity="0.55" stroke-width="0.6">
<circle cx="508.8" cy="2559.1" r="8.5"/>
<circle cx="521.9" cy="2561" r="3.5"/>
<circle cx="532.7" cy="2566.8" r="3"/>
<circle cx="542.4" cy="2574.9" r="1.5"/>
<circle cx="548.2" cy="2586.1" r="2.5"/>
<circle cx="550.1" cy="2598.9" r="6"/>
<circle cx="548.2" cy="2611.3" r="6.5"/>
<circle cx="542.4" cy="2622.1" r="6.5"/>
<circle cx="532.7" cy="2631" r="2.5"/>
<circle cx="521.9" cy="2636.8" r="4"/>
<circle cx="509.6" cy="2638.7" r="4"/>
<circle cx="497.2" cy="2636.8" r="5"/>
<circle cx="485.6" cy="2631" r="5"/>
<circle cx="476.7" cy="2622.1" r="2"/>
<circle cx="470.9" cy="2611.3" r="1.5"/>
<circle cx="469" cy="2598.9" r="2"/>
<circle cx="470.9" cy="2586.1" r="4"/>
<circle cx="476.7" cy="2574.9" r="3"/>
<circle cx="485.6" cy="2566.8" r="2.5"/>
<circle cx="497.2" cy="2561" r="1.5"/>
</g>
<g fill="#9a9a9a" stroke="#222" stroke-opacity="0.55" stroke-width="0.6">
<circle cx="717.4" cy="2522.4" r="8"/>
<circle cx="727.9" cy="2519.7" r="2"/>
<circle cx="739.5" cy="2519.7" r="2"/>
<circle cx="750.3" cy="2522.4" r="4.5"/>
<circle cx="760" cy="2528.2" r="7.5"/>
<circle cx="768.5" cy="2535.1" r="2.5"/>
<circle cx="774.6" cy="2544" r="3"/>
<circle cx="779.3" cy="2554.5" r="3"/>
<circle cx="780.8" cy="2564.9" r="3"/>
<circle cx="779.3" cy="2576.5" r="5.5"/>
<circle cx="774.6" cy="2586.5" r="2"/>
<circle cx="768.5" cy="2595" r="5"/>
<circle cx="760" cy="2602.8" r="3"/>
<circle cx="750.3" cy="2607.4" r="4.5"/>
<circle cx="739.5" cy="2610.5" r="1.5"/>
<circle cx="727.9" cy="2610.5" r="1.5"/>
<circle cx="717.4" cy="2607.4" r="3.5"/>
<circle cx="707.4" cy="2602.8" r="3"/>
<circle cx="698.9" cy="2595" r="4.5"/>
<circle cx="693.1" cy="2586.1" r="5"/>
<circle cx="689.2" cy="2575.7" r="5"/>
<circle cx="687.3" cy="2564.9" r="3"/>
<circle cx="688.5" cy="2554.5" r="3"/>
<circle cx="693.1" cy="2543.6" r="4.5"/>
<circle cx="699.7" cy="2535.1" r="4.5"/>
<circle cx="707.4" cy="2528.2" r="2"/>
</g>
<g fill="#f0e020" stroke="#222" stroke-opacity="0.55" stroke-width="0.6">
<circle cx="291.1" cy="2585.4" r="4"/>
<circle cx="318" cy="2603.5" r="10.5"/>
<circle cx="344.1" cy="2621.9" r="4.3"/>
</g>
<g fill="#c04ab8" stroke="#222" stroke-opacity="0.55" stroke-width="0.6">
<circle cx="885.1" cy="2428.1" r="2.3"/>
<circle cx="867" cy="2445.5" r="4"/>
<circle cx="903.7" cy="2445.5" r="2"/>
<circle cx="885.1" cy="2463.7" r="2.7"/>
</g>
<g fill="#8b1a1a" stroke="#222" stroke-opacity="0.55" stroke-width="0.6">
<circle cx="914.5" cy="2376.7" r="4.3"/>
</g>
<path d="M434 1980.1L469.8 1985.5M622 1955L613.8 2067.4M675.6 2009.4L702.8 2096.8M704.1 2035.6L707.4 2071.2M176.3 2157.5L198.2 2157.5M871.4 2211.4L880.3 2207.6M835.8 2251.5L880.3 2268.8M171.3 2396.4L247.9 2376.5M205.1 2440.1L219 2442.7M208.1 2493.1L283.8 2476.5M255.9 2526.9L258.3 2520.9M303.7 2606.9L312.6 2600.6M464 2637.5L506.5 2559.1M726 2524.7L801.3 2554.5" stroke="#000" stroke-width="1.3" fill="none"/>
<text x="315.9" y="1987.8" font-size="24.3">TIM3<tspan font-size="16" dy="-11">+</tspan><tspan dy="11"> T</tspan><tspan font-size="16" dy="8">H</tspan><tspan dy="-8">1</tspan></text>
<text x="577.5" y="1946.8" font-size="24.3">CD4<tspan font-size="16" dy="-11">+</tspan><tspan dy="11"> T</tspan><tspan font-size="16" dy="8">EM</tspan></text>
<text x="648.9" y="2005.2" font-size="24.3">CD19<tspan font-size="16" dy="-11">+</tspan><tspan dy="11">CD5</tspan><tspan font-size="16" dy="-11">+</tspan></text>
<text x="697.9" y="2029.4" font-size="24.3">Plasmablasts</text>
<text x="49.9" y="2165.5" font-size="24.3">PD-1<tspan font-size="16" dy="-11">+</tspan><tspan dy="11"> CD8</tspan></text>
<text x="884.8" y="2215.4" font-size="24.3">IgM N</text>
<text x="884.8" y="2275.9" font-size="24.3">IgG RBD</text>
<text x="31" y="2418.8" font-size="24.3">PD-1 MFI Vδ1</text>
<text x="160.3" y="2447.7" font-size="24.3">IL-6</text>
<text x="145.8" y="2502.4" font-size="24.3">IP-10</text>
<text x="228" y="2544.8" font-size="24.3">IL-10</text>
<text x="193.6" y="2618.9" font-size="24.3">Basophils</text>
<text x="804" y="2563.3" font-size="24.3">CD86<tspan font-size="16" dy="-11">+</tspan><tspan dy="11">CD1c</tspan><tspan font-size="16" dy="-11">neg</tspan><tspan dy="11"> mDCs</tspan></text>
<text x="265.3" y="2664.7" font-size="24.3">CD86<tspan font-size="16" dy="-11">+</tspan><tspan dy="11"> classical monocytes</tspan></text>
<rect x="1101.7" y="1940.9" width="267.8" height="760.6" fill="none" stroke="#222" stroke-width="1.3"/>
<path d="M1101.7 1975.5H1369.5M1101.7 2569H1369.5M1101.7 2604H1369.5" stroke="#222" stroke-width="1.3"/>
<text x="1108.7" y="1967.5" font-size="24.5">Parameters</text>
<text x="1108.7" y="2022.1" font-size="24.5">Antibodies</text>
<circle cx="1290.7" cy="2013.1" r="10.3" fill="#f06a22" stroke="#111" stroke-width="1.2"/>
<text x="1108.7" y="2074.8" font-size="24.5">B cells</text>
<circle cx="1290.7" cy="2065.8" r="10.3" fill="#2e3192" stroke="#111" stroke-width="1.2"/>
<text x="1108.7" y="2127" font-size="24.5">CD4<tspan font-size="16" dy="-11">+</tspan><tspan dy="11"> T cells</tspan></text>
<circle cx="1290.7" cy="2118" r="10.3" fill="#35a6a3" stroke="#111" stroke-width="1.2"/>
<text x="1108.7" y="2179.7" font-size="24.5">CD8<tspan font-size="16" dy="-11">+</tspan><tspan dy="11"> T cells</tspan></text>
<circle cx="1290.7" cy="2170.7" r="10.3" fill="#4258b0" stroke="#111" stroke-width="1.2"/>
<text x="1108.7" y="2232.4" font-size="24.5">Dendritic cells</text>
<circle cx="1290.7" cy="2223.4" r="10.3" fill="#8c8c8c" stroke="#111" stroke-width="1.2"/>
<text x="1108.7" y="2284.7" font-size="24.5">γδ T cells</text>
<circle cx="1290.7" cy="2275.7" r="10.3" fill="#1a6464" stroke="#111" stroke-width="1.2"/>
<text x="1108.7" y="2337.4" font-size="24.5">Granulocytes</text>
<circle cx="1290.7" cy="2328.4" r="10.3" fill="#f0e43c" stroke="#111" stroke-width="1.2"/>
<text x="1108.7" y="2389.7" font-size="24.5">Monocytes</text>
<circle cx="1290.7" cy="2380.7" r="10.3" fill="#7ccc38" stroke="#111" stroke-width="1.2"/>
<text x="1108.7" y="2442.4" font-size="24.5">NK cells</text>
<circle cx="1290.7" cy="2433.4" r="10.3" fill="#c050c0" stroke="#111" stroke-width="1.2"/>
<text x="1108.7" y="2494.7" font-size="24.5">T<tspan font-size="16" dy="7">reg</tspan><tspan dy="-7"> cells</tspan></text>
<circle cx="1290.7" cy="2485.7" r="10.3" fill="#901c20" stroke="#111" stroke-width="1.2"/>
<text x="1108.7" y="2547.4" font-size="24.5">Cytokines</text>
<circle cx="1290.7" cy="2538.4" r="10.3" fill="#e84c3c" stroke="#111" stroke-width="1.2"/>
<text x="1108.7" y="2594.5" font-size="24.5">Correlation</text>
<text x="1108.7" y="2642.3" font-size="24.5">Positive</text>
<text x="1108.7" y="2684" font-size="24.5">Negative</text>
<path d="M1272.3 2636.4H1309.5" stroke="#fdb77a" stroke-width="5"/>
<path d="M1272.3 2678H1309.5" stroke="#8486d6" stroke-width="5"/>
</svg>
</body></html>
